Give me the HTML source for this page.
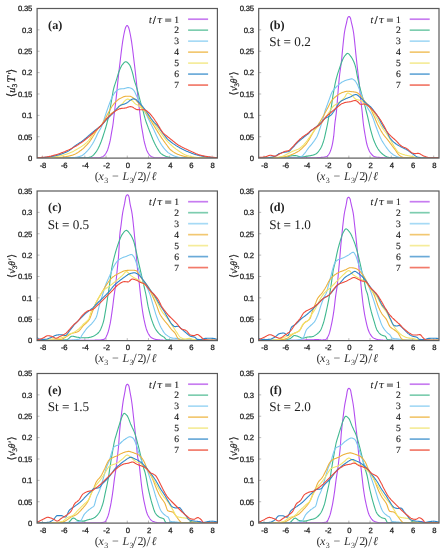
<!DOCTYPE html>
<html><head><meta charset="utf-8"><style>
html,body{margin:0;padding:0;background:#fff;width:444px;height:550px;overflow:hidden}
svg{display:block;text-rendering:geometricPrecision}
.tk{font-family:"Liberation Sans",Arial,sans-serif;font-size:7.7px;fill:#1a1a1a;stroke:#1a1a1a;stroke-width:0.25px;letter-spacing:-0.2px}
.tm{stroke:#aaa;stroke-width:0.8}
.fr{fill:none;stroke:#5a5a5a;stroke-width:1.2}
.cv{fill:none;stroke-width:1.1;stroke-linejoin:round}
.lg{stroke-width:1.7}
.lt{font-family:"Liberation Serif","DejaVu Serif",serif;font-size:9.6px;fill:#1a1a1a;stroke:#1a1a1a;stroke-width:0.15px}
.it{font-style:italic}
.pl{font-family:"Liberation Serif",serif;font-size:12.2px;font-weight:bold;fill:#222}
.st{font-family:"Liberation Serif",serif;font-size:13.2px;fill:#222}
.ax{font-family:"Liberation Serif","DejaVu Serif",serif;font-size:12px;fill:#333}
.sb{font-size:8px}
.sl{font-size:14px}
.dj{font-family:"DejaVu Serif",serif}
.sb2{font-size:6.8px}
.br{font-family:"DejaVu Serif",serif;font-size:11.5px}
.br2{font-family:"DejaVu Serif",serif;font-size:10.4px}
.sb3{font-size:7.5px}
.yl{font-family:"Liberation Serif","DejaVu Serif",serif;font-size:10.5px;fill:#222;stroke:#222;stroke-width:0.25px}
.yl2{font-family:"Liberation Serif","DejaVu Serif",serif;font-size:9.6px;fill:#222;stroke:#222;stroke-width:0.2px}
</style></head>
<body><svg width="444" height="550" viewBox="0 0 444 550">
<rect width="444" height="550" fill="#fff"/>
<text x="32.20" y="160.90" class="tk" text-anchor="end">0</text>
<text x="32.20" y="139.53" class="tk" text-anchor="end">0.05</text>
<line x1="37.1" y1="136.73" x2="39.6" y2="136.73" class="tm"/>
<text x="32.20" y="118.16" class="tk" text-anchor="end">0.1</text>
<line x1="37.1" y1="115.36" x2="39.6" y2="115.36" class="tm"/>
<text x="32.20" y="96.79" class="tk" text-anchor="end">0.15</text>
<line x1="37.1" y1="93.99" x2="39.6" y2="93.99" class="tm"/>
<text x="32.20" y="75.41" class="tk" text-anchor="end">0.2</text>
<line x1="37.1" y1="72.61" x2="39.6" y2="72.61" class="tm"/>
<text x="32.20" y="54.04" class="tk" text-anchor="end">0.25</text>
<line x1="37.1" y1="51.24" x2="39.6" y2="51.24" class="tm"/>
<text x="32.20" y="32.67" class="tk" text-anchor="end">0.3</text>
<line x1="37.1" y1="29.87" x2="39.6" y2="29.87" class="tm"/>
<text x="32.20" y="11.30" class="tk" text-anchor="end">0.35</text>
<text x="42.90" y="167.90" class="tk" text-anchor="middle">-8</text>
<line x1="42.40" y1="158.1" x2="42.40" y2="155.6" class="tm"/>
<text x="64.11" y="167.90" class="tk" text-anchor="middle">-6</text>
<line x1="63.61" y1="158.1" x2="63.61" y2="155.6" class="tm"/>
<text x="85.33" y="167.90" class="tk" text-anchor="middle">-4</text>
<line x1="84.83" y1="158.1" x2="84.83" y2="155.6" class="tm"/>
<text x="106.54" y="167.90" class="tk" text-anchor="middle">-2</text>
<line x1="106.04" y1="158.1" x2="106.04" y2="155.6" class="tm"/>
<text x="127.75" y="167.90" class="tk" text-anchor="middle">0</text>
<line x1="127.25" y1="158.1" x2="127.25" y2="155.6" class="tm"/>
<text x="148.96" y="167.90" class="tk" text-anchor="middle">2</text>
<line x1="148.46" y1="158.1" x2="148.46" y2="155.6" class="tm"/>
<text x="170.17" y="167.90" class="tk" text-anchor="middle">4</text>
<line x1="169.67" y1="158.1" x2="169.67" y2="155.6" class="tm"/>
<text x="191.39" y="167.90" class="tk" text-anchor="middle">6</text>
<line x1="190.89" y1="158.1" x2="190.89" y2="155.6" class="tm"/>
<text x="212.60" y="167.90" class="tk" text-anchor="middle">8</text>
<line x1="212.10" y1="158.1" x2="212.10" y2="155.6" class="tm"/>
<clipPath id="c0"><rect x="37.1" y="7.5" width="180.3" height="150.2"/></clipPath>
<g clip-path="url(#c0)">
<polyline points="37.1,157.7 37.6,157.7 38.1,157.7 38.6,157.7 39.1,157.7 39.6,157.7 40.1,157.7 40.6,157.7 41.1,157.7 41.6,157.7 42.1,157.7 42.6,157.7 43.1,157.7 43.6,157.7 44.1,157.7 44.6,157.7 45.1,157.7 45.6,157.7 46.1,157.7 46.6,157.7 47.1,157.7 47.6,157.7 48.1,157.7 48.6,157.7 49.1,157.7 49.6,157.7 50.1,157.7 50.6,157.7 51.1,157.7 51.6,157.7 52.1,157.7 52.6,157.7 53.1,157.7 53.6,157.7 54.1,157.7 54.6,157.7 55.1,157.7 55.6,157.7 56.1,157.7 56.6,157.7 57.1,157.7 57.6,157.7 58.1,157.7 58.6,157.7 59.1,157.7 59.6,157.7 60.1,157.7 60.6,157.7 61.1,157.7 61.6,157.7 62.1,157.7 62.6,157.7 63.1,157.7 63.6,157.7 64.1,157.7 64.6,157.7 65.1,157.7 65.6,157.7 66.1,157.7 66.6,157.7 67.1,157.7 67.6,157.7 68.1,157.7 68.6,157.7 69.1,157.7 69.6,157.7 70.1,157.7 70.6,157.7 71.1,157.7 71.6,157.7 72.1,157.7 72.6,157.7 73.1,157.7 73.6,157.7 74.1,157.7 74.6,157.7 75.1,157.7 75.6,157.7 76.1,157.7 76.6,157.7 77.1,157.7 77.6,157.7 78.1,157.7 78.6,157.7 79.1,157.7 79.6,157.7 80.1,157.7 80.6,157.7 81.1,157.7 81.6,157.7 82.1,157.7 82.6,157.7 83.1,157.7 83.6,157.7 84.1,157.7 84.6,157.7 85.1,157.7 85.6,157.7 86.1,157.7 86.6,157.7 87.1,157.7 87.6,157.7 88.1,157.7 88.6,157.7 89.1,157.7 89.6,157.7 90.1,157.7 90.6,157.7 91.1,157.7 91.6,157.7 92.1,157.7 92.6,157.7 93.1,157.7 93.6,157.7 94.1,157.7 94.6,157.7 95.1,157.7 95.6,157.7 96.1,157.7 96.6,157.7 97.1,157.7 97.6,157.7 98.1,157.7 98.6,157.7 99.1,157.7 99.6,157.7 100.1,157.6 100.6,157.5 101.1,157.3 101.6,157.1 102.1,156.9 102.6,156.7 103.1,156.4 103.6,156.0 104.1,155.7 104.6,155.2 105.1,154.5 105.6,153.8 106.1,153.0 106.6,152.0 107.1,151.0 107.6,149.9 108.1,148.3 108.6,146.7 109.1,144.9 109.6,143.0 110.1,140.9 110.6,138.4 111.1,135.4 111.6,132.4 112.1,129.7 112.6,126.9 113.1,123.5 113.6,119.3 114.1,115.0 114.6,111.0 115.1,107.0 115.6,102.9 116.1,98.6 116.6,94.1 117.1,89.1 117.6,84.0 118.1,79.1 118.6,74.4 119.1,70.0 119.6,65.8 120.1,61.7 120.6,57.5 121.1,53.2 121.6,49.2 122.1,45.5 122.6,41.9 123.1,38.8 123.6,36.0 124.1,33.5 124.6,31.2 125.1,29.2 125.6,27.5 126.1,26.5 126.6,25.8 127.1,25.5 127.6,25.8 128.1,26.5 128.6,27.5 129.1,29.2 129.6,31.2 130.1,33.5 130.6,36.0 131.1,38.8 131.6,41.9 132.1,45.5 132.6,49.2 133.1,53.2 133.6,57.5 134.1,61.7 134.6,65.8 135.1,70.0 135.6,74.4 136.1,79.1 136.6,84.0 137.1,89.1 137.6,94.1 138.1,98.6 138.6,102.9 139.1,107.0 139.6,111.0 140.1,115.0 140.6,119.3 141.1,123.5 141.6,126.9 142.1,129.7 142.6,132.4 143.1,135.4 143.6,138.4 144.1,140.9 144.6,143.0 145.1,144.9 145.6,146.7 146.1,148.3 146.6,149.9 147.1,151.0 147.6,152.0 148.1,153.0 148.6,153.8 149.1,154.5 149.6,155.2 150.1,155.7 150.6,156.0 151.1,156.4 151.6,156.7 152.1,156.9 152.6,157.1 153.1,157.3 153.6,157.5 154.1,157.6 154.6,157.7 155.1,157.7 155.6,157.7 156.1,157.7 156.6,157.7 157.1,157.7 157.6,157.7 158.1,157.7 158.6,157.7 159.1,157.7 159.6,157.7 160.1,157.7 160.6,157.7 161.1,157.7 161.6,157.7 162.1,157.7 162.6,157.7 163.1,157.7 163.6,157.7 164.1,157.7 164.6,157.7 165.1,157.7 165.6,157.7 166.1,157.7 166.6,157.7 167.1,157.7 167.6,157.7 168.1,157.7 168.6,157.7 169.1,157.7 169.6,157.7 170.1,157.7 170.6,157.7 171.1,157.7 171.6,157.7 172.1,157.7 172.6,157.7 173.1,157.7 173.6,157.7 174.1,157.7 174.6,157.7 175.1,157.7 175.6,157.7 176.1,157.7 176.6,157.7 177.1,157.7 177.6,157.7 178.1,157.7 178.6,157.7 179.1,157.7 179.6,157.7 180.1,157.7 180.6,157.7 181.1,157.7 181.6,157.7 182.1,157.7 182.6,157.7 183.1,157.7 183.6,157.7 184.1,157.7 184.6,157.7 185.1,157.7 185.6,157.7 186.1,157.7 186.6,157.7 187.1,157.7 187.6,157.7 188.1,157.7 188.6,157.7 189.1,157.7 189.6,157.7 190.1,157.7 190.6,157.7 191.1,157.7 191.6,157.7 192.1,157.7 192.6,157.7 193.1,157.7 193.6,157.7 194.1,157.7 194.6,157.7 195.1,157.7 195.6,157.7 196.1,157.7 196.6,157.7 197.1,157.7 197.6,157.7 198.1,157.7 198.6,157.7 199.1,157.7 199.6,157.7 200.1,157.7 200.6,157.7 201.1,157.7 201.6,157.7 202.1,157.7 202.6,157.7 203.1,157.7 203.6,157.7 204.1,157.7 204.6,157.7 205.1,157.7 205.6,157.7 206.1,157.7 206.6,157.7 207.1,157.7 207.6,157.7 208.1,157.7 208.6,157.7 209.1,157.7 209.6,157.7 210.1,157.7 210.6,157.7 211.1,157.7 211.6,157.7 212.1,157.7 212.6,157.7 213.1,157.7 213.6,157.7 214.1,157.7 214.6,157.7 215.1,157.7 215.6,157.7 216.1,157.7 216.6,157.7 217.1,157.7" stroke="#b44ef0" class="cv"/>
<polyline points="37.1,157.7 37.6,157.7 38.1,157.7 38.6,157.7 39.1,157.7 39.6,157.7 40.1,157.7 40.6,157.7 41.1,157.7 41.6,157.7 42.1,157.7 42.6,157.7 43.1,157.7 43.6,157.7 44.1,157.7 44.6,157.7 45.1,157.7 45.6,157.7 46.1,157.7 46.6,157.7 47.1,157.7 47.6,157.7 48.1,157.7 48.6,157.7 49.1,157.7 49.6,157.7 50.1,157.7 50.6,157.7 51.1,157.7 51.6,157.7 52.1,157.7 52.6,157.7 53.1,157.7 53.6,157.7 54.1,157.7 54.6,157.7 55.1,157.7 55.6,157.7 56.1,157.7 56.6,157.7 57.1,157.7 57.6,157.7 58.1,157.7 58.6,157.7 59.1,157.7 59.6,157.7 60.1,157.7 60.6,157.7 61.1,157.7 61.6,157.7 62.1,157.7 62.6,157.7 63.1,157.7 63.6,157.7 64.1,157.7 64.6,157.7 65.1,157.7 65.6,157.7 66.1,157.7 66.6,157.7 67.1,157.7 67.6,157.7 68.1,157.7 68.6,157.7 69.1,157.7 69.6,157.7 70.1,157.7 70.6,157.7 71.1,157.7 71.6,157.7 72.1,157.7 72.6,157.7 73.1,157.7 73.6,157.7 74.1,157.7 74.6,157.7 75.1,157.7 75.6,157.7 76.1,157.7 76.6,157.7 77.1,157.7 77.6,157.7 78.1,157.7 78.6,157.7 79.1,157.7 79.6,157.7 80.1,157.7 80.6,157.7 81.1,157.7 81.6,157.7 82.1,157.7 82.6,157.7 83.1,157.7 83.6,157.7 84.1,157.7 84.6,157.7 85.1,157.7 85.6,157.7 86.1,157.7 86.6,157.7 87.1,157.7 87.6,157.6 88.1,157.5 88.6,157.5 89.1,157.4 89.6,157.3 90.1,157.1 90.6,156.9 91.1,156.7 91.6,156.4 92.1,156.1 92.6,155.8 93.1,155.4 93.6,154.9 94.1,154.3 94.6,153.7 95.1,153.1 95.6,152.4 96.1,151.8 96.6,151.1 97.1,150.3 97.6,149.5 98.1,148.6 98.6,147.6 99.1,146.5 99.6,145.4 100.1,144.2 100.6,143.0 101.1,141.8 101.6,140.4 102.1,139.0 102.6,137.5 103.1,136.0 103.6,134.4 104.1,132.9 104.6,131.3 105.1,129.7 105.6,128.0 106.1,126.3 106.6,124.5 107.1,122.6 107.6,120.6 108.1,118.5 108.6,116.3 109.1,114.0 109.6,111.5 110.1,108.8 110.6,106.0 111.1,103.1 111.6,100.2 112.1,97.1 112.6,94.0 113.1,91.2 113.6,88.9 114.1,87.0 114.6,85.4 115.1,83.9 115.6,82.4 116.1,80.9 116.6,79.3 117.1,77.6 117.6,75.9 118.1,74.2 118.6,72.7 119.1,71.3 119.6,70.1 120.1,68.9 120.6,67.8 121.1,66.7 121.6,65.8 122.1,65.0 122.6,64.4 123.1,63.8 123.6,63.2 124.1,62.7 124.6,62.2 125.1,61.9 125.6,61.8 126.1,61.8 126.6,62.0 127.1,62.3 127.6,62.7 128.1,63.2 128.6,63.7 129.1,64.3 129.6,64.9 130.1,65.8 130.6,67.0 131.1,68.3 131.6,69.8 132.1,71.3 132.6,73.1 133.1,75.2 133.6,77.5 134.1,79.6 134.6,81.3 135.1,82.9 135.6,84.4 136.1,85.8 136.6,87.3 137.1,89.0 137.6,90.8 138.1,92.7 138.6,94.7 139.1,96.8 139.6,98.7 140.1,100.6 140.6,102.4 141.1,104.1 141.6,105.8 142.1,107.6 142.6,109.4 143.1,111.2 143.6,113.2 144.1,115.1 144.6,116.9 145.1,118.7 145.6,120.3 146.1,121.8 146.6,123.2 147.1,124.6 147.6,125.9 148.1,127.3 148.6,128.6 149.1,129.9 149.6,131.2 150.1,132.5 150.6,133.8 151.1,135.0 151.6,136.3 152.1,137.5 152.6,138.8 153.1,140.0 153.6,141.1 154.1,142.2 154.6,143.3 155.1,144.3 155.6,145.3 156.1,146.2 156.6,147.1 157.1,148.0 157.6,148.8 158.1,149.6 158.6,150.4 159.1,151.2 159.6,151.9 160.1,152.6 160.6,153.1 161.1,153.6 161.6,154.0 162.1,154.3 162.6,154.7 163.1,155.0 163.6,155.3 164.1,155.6 164.6,155.8 165.1,156.0 165.6,156.2 166.1,156.4 166.6,156.6 167.1,156.7 167.6,156.8 168.1,157.0 168.6,157.1 169.1,157.2 169.6,157.4 170.1,157.5 170.6,157.6 171.1,157.7 171.6,157.7 172.1,157.7 172.6,157.7 173.1,157.7 173.6,157.7 174.1,157.7 174.6,157.7 175.1,157.7 175.6,157.7 176.1,157.7 176.6,157.7 177.1,157.7 177.6,157.7 178.1,157.7 178.6,157.7 179.1,157.7 179.6,157.7 180.1,157.7 180.6,157.7 181.1,157.7 181.6,157.7 182.1,157.7 182.6,157.7 183.1,157.7 183.6,157.7 184.1,157.7 184.6,157.7 185.1,157.7 185.6,157.7 186.1,157.7 186.6,157.7 187.1,157.7 187.6,157.7 188.1,157.7 188.6,157.7 189.1,157.7 189.6,157.7 190.1,157.7 190.6,157.7 191.1,157.7 191.6,157.7 192.1,157.7 192.6,157.7 193.1,157.7 193.6,157.7 194.1,157.7 194.6,157.7 195.1,157.7 195.6,157.7 196.1,157.7 196.6,157.7 197.1,157.7 197.6,157.7 198.1,157.7 198.6,157.7 199.1,157.7 199.6,157.7 200.1,157.7 200.6,157.7 201.1,157.7 201.6,157.7 202.1,157.7 202.6,157.7 203.1,157.7 203.6,157.7 204.1,157.7 204.6,157.7 205.1,157.7 205.6,157.7 206.1,157.7 206.6,157.7 207.1,157.7 207.6,157.7 208.1,157.7 208.6,157.7 209.1,157.7 209.6,157.7 210.1,157.7 210.6,157.7 211.1,157.7 211.6,157.7 212.1,157.7 212.6,157.7 213.1,157.7 213.6,157.7 214.1,157.7 214.6,157.7 215.1,157.7 215.6,157.7 216.1,157.7 216.6,157.7 217.1,157.7" stroke="#3fb88f" class="cv"/>
<polyline points="37.1,157.7 37.6,157.7 38.1,157.7 38.6,157.7 39.1,157.7 39.6,157.7 40.1,157.7 40.6,157.7 41.1,157.7 41.6,157.7 42.1,157.7 42.6,157.7 43.1,157.7 43.6,157.7 44.1,157.7 44.6,157.7 45.1,157.7 45.6,157.7 46.1,157.7 46.6,157.7 47.1,157.7 47.6,157.7 48.1,157.7 48.6,157.7 49.1,157.7 49.6,157.7 50.1,157.7 50.6,157.7 51.1,157.7 51.6,157.7 52.1,157.7 52.6,157.7 53.1,157.7 53.6,157.7 54.1,157.7 54.6,157.7 55.1,157.7 55.6,157.7 56.1,157.7 56.6,157.7 57.1,157.7 57.6,157.7 58.1,157.7 58.6,157.7 59.1,157.7 59.6,157.7 60.1,157.7 60.6,157.7 61.1,157.7 61.6,157.7 62.1,157.7 62.6,157.7 63.1,157.7 63.6,157.7 64.1,157.7 64.6,157.7 65.1,157.7 65.6,157.7 66.1,157.7 66.6,157.7 67.1,157.7 67.6,157.7 68.1,157.7 68.6,157.7 69.1,157.7 69.6,157.7 70.1,157.7 70.6,157.7 71.1,157.7 71.6,157.7 72.1,157.7 72.6,157.7 73.1,157.7 73.6,157.7 74.1,157.6 74.6,157.6 75.1,157.5 75.6,157.4 76.1,157.3 76.6,157.2 77.1,157.1 77.6,157.0 78.1,156.9 78.6,156.8 79.1,156.6 79.6,156.5 80.1,156.3 80.6,156.1 81.1,156.0 81.6,155.7 82.1,155.5 82.6,155.2 83.1,154.8 83.6,154.4 84.1,154.0 84.6,153.5 85.1,153.1 85.6,152.6 86.1,152.1 86.6,151.6 87.1,151.1 87.6,150.6 88.1,150.0 88.6,149.4 89.1,148.8 89.6,148.1 90.1,147.5 90.6,146.8 91.1,146.0 91.6,145.3 92.1,144.5 92.6,143.7 93.1,142.8 93.6,142.0 94.1,141.0 94.6,140.1 95.1,139.1 95.6,138.1 96.1,137.0 96.6,135.9 97.1,134.8 97.6,133.8 98.1,132.8 98.6,131.9 99.1,131.0 99.6,130.2 100.1,129.4 100.6,128.5 101.1,127.6 101.6,126.6 102.1,125.4 102.6,124.1 103.1,122.6 103.6,121.0 104.1,119.3 104.6,117.7 105.1,116.2 105.6,114.7 106.1,113.2 106.6,111.7 107.1,110.3 107.6,108.8 108.1,107.4 108.6,106.0 109.1,104.6 109.6,103.2 110.1,101.9 110.6,100.6 111.1,99.4 111.6,98.3 112.1,97.3 112.6,96.3 113.1,95.4 113.6,94.5 114.1,93.7 114.6,92.9 115.1,92.3 115.6,91.7 116.1,91.2 116.6,90.8 117.1,90.4 117.6,90.0 118.1,89.6 118.6,89.4 119.1,89.1 119.6,89.0 120.1,89.0 120.6,88.9 121.1,88.9 121.6,88.8 122.1,88.8 122.6,88.8 123.1,88.7 123.6,88.7 124.1,88.6 124.6,88.5 125.1,88.3 125.6,88.2 126.1,88.0 126.6,87.9 127.1,87.7 127.6,87.6 128.1,87.6 128.6,87.6 129.1,87.7 129.6,87.8 130.1,87.9 130.6,88.1 131.1,88.2 131.6,88.5 132.1,88.8 132.6,89.2 133.1,89.7 133.6,90.2 134.1,90.8 134.6,91.6 135.1,92.7 135.6,93.8 136.1,94.9 136.6,96.0 137.1,97.0 137.6,98.1 138.1,99.1 138.6,100.2 139.1,101.2 139.6,102.2 140.1,103.1 140.6,104.1 141.1,105.0 141.6,105.9 142.1,106.8 142.6,107.7 143.1,108.6 143.6,109.5 144.1,110.4 144.6,111.3 145.1,112.2 145.6,113.2 146.1,114.1 146.6,115.1 147.1,116.1 147.6,117.2 148.1,118.2 148.6,119.2 149.1,120.2 149.6,121.2 150.1,122.2 150.6,123.2 151.1,124.2 151.6,125.2 152.1,126.2 152.6,127.2 153.1,128.2 153.6,129.3 154.1,130.3 154.6,131.4 155.1,132.5 155.6,133.6 156.1,134.7 156.6,135.8 157.1,136.8 157.6,137.8 158.1,138.8 158.6,139.7 159.1,140.7 159.6,141.6 160.1,142.5 160.6,143.4 161.1,144.2 161.6,144.9 162.1,145.7 162.6,146.4 163.1,147.1 163.6,147.8 164.1,148.4 164.6,149.0 165.1,149.6 165.6,150.2 166.1,150.7 166.6,151.2 167.1,151.7 167.6,152.2 168.1,152.6 168.6,152.9 169.1,153.3 169.6,153.6 170.1,153.9 170.6,154.2 171.1,154.5 171.6,154.8 172.1,155.0 172.6,155.3 173.1,155.5 173.6,155.7 174.1,155.9 174.6,156.1 175.1,156.2 175.6,156.4 176.1,156.6 176.6,156.8 177.1,156.9 177.6,157.0 178.1,157.2 178.6,157.3 179.1,157.4 179.6,157.5 180.1,157.5 180.6,157.6 181.1,157.6 181.6,157.7 182.1,157.7 182.6,157.7 183.1,157.7 183.6,157.7 184.1,157.7 184.6,157.7 185.1,157.7 185.6,157.7 186.1,157.7 186.6,157.7 187.1,157.7 187.6,157.7 188.1,157.7 188.6,157.7 189.1,157.7 189.6,157.7 190.1,157.7 190.6,157.7 191.1,157.7 191.6,157.7 192.1,157.7 192.6,157.7 193.1,157.7 193.6,157.7 194.1,157.7 194.6,157.7 195.1,157.7 195.6,157.7 196.1,157.7 196.6,157.7 197.1,157.7 197.6,157.7 198.1,157.7 198.6,157.7 199.1,157.7 199.6,157.7 200.1,157.7 200.6,157.7 201.1,157.7 201.6,157.7 202.1,157.7 202.6,157.7 203.1,157.7 203.6,157.7 204.1,157.7 204.6,157.7 205.1,157.7 205.6,157.7 206.1,157.7 206.6,157.7 207.1,157.7 207.6,157.7 208.1,157.7 208.6,157.7 209.1,157.7 209.6,157.7 210.1,157.7 210.6,157.7 211.1,157.7 211.6,157.7 212.1,157.7 212.6,157.7 213.1,157.7 213.6,157.7 214.1,157.7 214.6,157.7 215.1,157.7 215.6,157.7 216.1,157.7 216.6,157.7 217.1,157.7" stroke="#7cc8f0" class="cv"/>
<polyline points="37.1,157.7 37.6,157.7 38.1,157.7 38.6,157.7 39.1,157.7 39.6,157.7 40.1,157.7 40.6,157.7 41.1,157.7 41.6,157.7 42.1,157.7 42.6,157.7 43.1,157.7 43.6,157.7 44.1,157.7 44.6,157.7 45.1,157.7 45.6,157.7 46.1,157.7 46.6,157.7 47.1,157.7 47.6,157.7 48.1,157.7 48.6,157.7 49.1,157.7 49.6,157.7 50.1,157.7 50.6,157.7 51.1,157.7 51.6,157.7 52.1,157.7 52.6,157.7 53.1,157.7 53.6,157.7 54.1,157.7 54.6,157.7 55.1,157.7 55.6,157.7 56.1,157.7 56.6,157.7 57.1,157.7 57.6,157.6 58.1,157.6 58.6,157.5 59.1,157.5 59.6,157.5 60.1,157.4 60.6,157.3 61.1,157.3 61.6,157.2 62.1,157.2 62.6,157.1 63.1,157.1 63.6,157.0 64.1,156.9 64.6,156.8 65.1,156.8 65.6,156.7 66.1,156.6 66.6,156.5 67.1,156.4 67.6,156.3 68.1,156.2 68.6,156.1 69.1,156.0 69.6,155.9 70.1,155.8 70.6,155.6 71.1,155.5 71.6,155.4 72.1,155.2 72.6,155.1 73.1,154.9 73.6,154.8 74.1,154.6 74.6,154.4 75.1,154.1 75.6,153.9 76.1,153.6 76.6,153.3 77.1,153.0 77.6,152.7 78.1,152.4 78.6,152.0 79.1,151.7 79.6,151.3 80.1,150.9 80.6,150.5 81.1,150.2 81.6,149.8 82.1,149.4 82.6,149.0 83.1,148.6 83.6,148.1 84.1,147.7 84.6,147.2 85.1,146.7 85.6,146.2 86.1,145.7 86.6,145.2 87.1,144.6 87.6,144.0 88.1,143.5 88.6,142.9 89.1,142.3 89.6,141.6 90.1,140.9 90.6,140.2 91.1,139.4 91.6,138.6 92.1,137.8 92.6,137.1 93.1,136.3 93.6,135.5 94.1,134.7 94.6,133.8 95.1,133.0 95.6,132.1 96.1,131.3 96.6,130.6 97.1,129.9 97.6,129.2 98.1,128.6 98.6,128.1 99.1,127.5 99.6,127.0 100.1,126.5 100.6,125.9 101.1,125.3 101.6,124.7 102.1,124.0 102.6,123.3 103.1,122.4 103.6,121.6 104.1,120.7 104.6,119.8 105.1,118.9 105.6,118.0 106.1,117.0 106.6,116.1 107.1,115.1 107.6,114.2 108.1,113.2 108.6,112.3 109.1,111.4 109.6,110.5 110.1,109.6 110.6,108.7 111.1,107.8 111.6,107.0 112.1,106.3 112.6,105.5 113.1,104.9 113.6,104.2 114.1,103.6 114.6,103.0 115.1,102.4 115.6,101.9 116.1,101.4 116.6,101.0 117.1,100.5 117.6,100.1 118.1,99.7 118.6,99.3 119.1,99.0 119.6,98.7 120.1,98.4 120.6,98.2 121.1,97.9 121.6,97.7 122.1,97.4 122.6,97.2 123.1,97.0 123.6,96.8 124.1,96.6 124.6,96.5 125.1,96.4 125.6,96.3 126.1,96.3 126.6,96.3 127.1,96.3 127.6,96.3 128.1,96.3 128.6,96.3 129.1,96.3 129.6,96.3 130.1,96.3 130.6,96.4 131.1,96.6 131.6,96.9 132.1,97.2 132.6,97.5 133.1,97.8 133.6,98.2 134.1,98.5 134.6,98.9 135.1,99.4 135.6,99.8 136.1,100.4 136.6,100.9 137.1,101.5 137.6,102.0 138.1,102.6 138.6,103.1 139.1,103.7 139.6,104.3 140.1,104.9 140.6,105.5 141.1,106.1 141.6,106.8 142.1,107.4 142.6,108.1 143.1,108.8 143.6,109.5 144.1,110.2 144.6,110.9 145.1,111.7 145.6,112.4 146.1,113.1 146.6,113.9 147.1,114.7 147.6,115.5 148.1,116.3 148.6,117.1 149.1,117.9 149.6,118.7 150.1,119.5 150.6,120.4 151.1,121.2 151.6,122.0 152.1,122.8 152.6,123.6 153.1,124.4 153.6,125.2 154.1,126.0 154.6,126.8 155.1,127.6 155.6,128.4 156.1,129.2 156.6,130.0 157.1,130.8 157.6,131.6 158.1,132.4 158.6,133.2 159.1,134.0 159.6,134.8 160.1,135.6 160.6,136.4 161.1,137.1 161.6,137.9 162.1,138.6 162.6,139.3 163.1,140.0 163.6,140.7 164.1,141.4 164.6,142.1 165.1,142.8 165.6,143.5 166.1,144.1 166.6,144.8 167.1,145.5 167.6,146.2 168.1,146.9 168.6,147.6 169.1,148.2 169.6,148.8 170.1,149.3 170.6,149.8 171.1,150.2 171.6,150.6 172.1,151.0 172.6,151.4 173.1,151.8 173.6,152.1 174.1,152.4 174.6,152.7 175.1,153.0 175.6,153.3 176.1,153.5 176.6,153.8 177.1,154.0 177.6,154.2 178.1,154.4 178.6,154.6 179.1,154.8 179.6,155.0 180.1,155.2 180.6,155.3 181.1,155.5 181.6,155.6 182.1,155.8 182.6,155.9 183.1,156.0 183.6,156.2 184.1,156.3 184.6,156.5 185.1,156.6 185.6,156.7 186.1,156.8 186.6,156.9 187.1,157.0 187.6,157.1 188.1,157.2 188.6,157.3 189.1,157.4 189.6,157.5 190.1,157.5 190.6,157.6 191.1,157.6 191.6,157.6 192.1,157.7 192.6,157.7 193.1,157.7 193.6,157.7 194.1,157.7 194.6,157.7 195.1,157.7 195.6,157.7 196.1,157.7 196.6,157.7 197.1,157.7 197.6,157.7 198.1,157.7 198.6,157.7 199.1,157.7 199.6,157.7 200.1,157.7 200.6,157.7 201.1,157.7 201.6,157.7 202.1,157.7 202.6,157.7 203.1,157.7 203.6,157.7 204.1,157.7 204.6,157.7 205.1,157.7 205.6,157.7 206.1,157.7 206.6,157.7 207.1,157.7 207.6,157.7 208.1,157.7 208.6,157.7 209.1,157.7 209.6,157.7 210.1,157.7 210.6,157.7 211.1,157.7 211.6,157.7 212.1,157.7 212.6,157.7 213.1,157.7 213.6,157.7 214.1,157.7 214.6,157.7 215.1,157.7 215.6,157.7 216.1,157.7 216.6,157.7 217.1,157.7" stroke="#eeb23c" class="cv"/>
<polyline points="37.1,157.7 37.6,157.7 38.1,157.7 38.6,157.7 39.1,157.7 39.6,157.7 40.1,157.7 40.6,157.7 41.1,157.7 41.6,157.7 42.1,157.7 42.6,157.7 43.1,157.7 43.6,157.7 44.1,157.7 44.6,157.7 45.1,157.7 45.6,157.7 46.1,157.7 46.6,157.7 47.1,157.7 47.6,157.7 48.1,157.7 48.6,157.7 49.1,157.7 49.6,157.7 50.1,157.6 50.6,157.5 51.1,157.5 51.6,157.4 52.1,157.3 52.6,157.3 53.1,157.2 53.6,157.1 54.1,157.0 54.6,156.9 55.1,156.8 55.6,156.7 56.1,156.6 56.6,156.5 57.1,156.5 57.6,156.4 58.1,156.3 58.6,156.2 59.1,156.1 59.6,155.9 60.1,155.8 60.6,155.7 61.1,155.6 61.6,155.5 62.1,155.4 62.6,155.2 63.1,155.1 63.6,155.0 64.1,154.8 64.6,154.7 65.1,154.5 65.6,154.4 66.1,154.2 66.6,154.1 67.1,153.9 67.6,153.8 68.1,153.6 68.6,153.4 69.1,153.2 69.6,153.0 70.1,152.8 70.6,152.6 71.1,152.4 71.6,152.1 72.1,151.9 72.6,151.7 73.1,151.4 73.6,151.2 74.1,150.9 74.6,150.6 75.1,150.3 75.6,150.1 76.1,149.8 76.6,149.5 77.1,149.2 77.6,148.9 78.1,148.6 78.6,148.3 79.1,148.0 79.6,147.7 80.1,147.4 80.6,147.1 81.1,146.8 81.6,146.4 82.1,146.1 82.6,145.8 83.1,145.4 83.6,145.0 84.1,144.7 84.6,144.3 85.1,143.9 85.6,143.4 86.1,143.0 86.6,142.6 87.1,142.1 87.6,141.6 88.1,141.1 88.6,140.5 89.1,139.8 89.6,139.1 90.1,138.4 90.6,137.6 91.1,136.8 91.6,136.0 92.1,135.3 92.6,134.6 93.1,133.9 93.6,133.3 94.1,132.7 94.6,132.1 95.1,131.5 95.6,131.0 96.1,130.5 96.6,129.9 97.1,129.4 97.6,128.9 98.1,128.4 98.6,127.9 99.1,127.4 99.6,126.9 100.1,126.4 100.6,125.9 101.1,125.4 101.6,124.9 102.1,124.4 102.6,123.9 103.1,123.3 103.6,122.8 104.1,122.2 104.6,121.6 105.1,121.1 105.6,120.5 106.1,119.9 106.6,119.2 107.1,118.5 107.6,117.8 108.1,117.1 108.6,116.4 109.1,115.7 109.6,115.0 110.1,114.4 110.6,113.9 111.1,113.5 111.6,113.1 112.1,112.7 112.6,112.4 113.1,112.1 113.6,111.8 114.1,111.5 114.6,111.2 115.1,110.8 115.6,110.4 116.1,110.0 116.6,109.5 117.1,109.0 117.6,108.5 118.1,107.9 118.6,107.4 119.1,106.9 119.6,106.4 120.1,105.9 120.6,105.4 121.1,104.8 121.6,104.3 122.1,103.8 122.6,103.3 123.1,102.8 123.6,102.2 124.1,101.7 124.6,101.2 125.1,100.7 125.6,100.2 126.1,99.8 126.6,99.4 127.1,99.1 127.6,99.0 128.1,99.1 128.6,99.2 129.1,99.4 129.6,99.6 130.1,99.9 130.6,100.1 131.1,100.3 131.6,100.5 132.1,100.7 132.6,101.0 133.1,101.4 133.6,102.0 134.1,102.7 134.6,103.2 135.1,103.6 135.6,104.0 136.1,104.3 136.6,104.5 137.1,104.8 137.6,105.0 138.1,105.4 138.6,105.7 139.1,106.1 139.6,106.5 140.1,106.9 140.6,107.3 141.1,107.7 141.6,108.2 142.1,108.7 142.6,109.1 143.1,109.6 143.6,110.1 144.1,110.6 144.6,111.1 145.1,111.6 145.6,112.2 146.1,112.7 146.6,113.3 147.1,113.9 147.6,114.5 148.1,115.1 148.6,115.8 149.1,116.4 149.6,117.1 150.1,117.8 150.6,118.5 151.1,119.3 151.6,120.0 152.1,120.7 152.6,121.4 153.1,122.1 153.6,122.8 154.1,123.5 154.6,124.2 155.1,124.9 155.6,125.6 156.1,126.3 156.6,127.0 157.1,127.7 157.6,128.4 158.1,129.1 158.6,129.8 159.1,130.6 159.6,131.3 160.1,132.0 160.6,132.7 161.1,133.4 161.6,134.1 162.1,134.8 162.6,135.5 163.1,136.1 163.6,136.8 164.1,137.4 164.6,138.0 165.1,138.7 165.6,139.3 166.1,139.9 166.6,140.5 167.1,141.0 167.6,141.6 168.1,142.1 168.6,142.6 169.1,143.1 169.6,143.6 170.1,144.1 170.6,144.5 171.1,145.0 171.6,145.5 172.1,145.9 172.6,146.3 173.1,146.8 173.6,147.2 174.1,147.6 174.6,148.0 175.1,148.3 175.6,148.7 176.1,149.1 176.6,149.4 177.1,149.8 177.6,150.1 178.1,150.5 178.6,150.8 179.1,151.2 179.6,151.5 180.1,151.9 180.6,152.2 181.1,152.5 181.6,152.9 182.1,153.2 182.6,153.5 183.1,153.8 183.6,154.0 184.1,154.3 184.6,154.5 185.1,154.8 185.6,155.0 186.1,155.2 186.6,155.4 187.1,155.5 187.6,155.7 188.1,155.8 188.6,155.9 189.1,156.0 189.6,156.2 190.1,156.3 190.6,156.4 191.1,156.5 191.6,156.6 192.1,156.7 192.6,156.8 193.1,156.9 193.6,157.0 194.1,157.1 194.6,157.2 195.1,157.3 195.6,157.4 196.1,157.4 196.6,157.5 197.1,157.6 197.6,157.6 198.1,157.7 198.6,157.7 199.1,157.7 199.6,157.7 200.1,157.7 200.6,157.7 201.1,157.7 201.6,157.7 202.1,157.7 202.6,157.7 203.1,157.7 203.6,157.7 204.1,157.7 204.6,157.7 205.1,157.7 205.6,157.7 206.1,157.7 206.6,157.7 207.1,157.7 207.6,157.7 208.1,157.7 208.6,157.7 209.1,157.7 209.6,157.7 210.1,157.7 210.6,157.7 211.1,157.7 211.6,157.7 212.1,157.7 212.6,157.7 213.1,157.7 213.6,157.7 214.1,157.7 214.6,157.7 215.1,157.7 215.6,157.7 216.1,157.7 216.6,157.7 217.1,157.7" stroke="#f2e46a" class="cv"/>
<polyline points="37.1,157.7 37.6,157.7 38.1,157.7 38.6,157.7 39.1,157.7 39.6,157.7 40.1,157.7 40.6,157.7 41.1,157.7 41.6,157.6 42.1,157.6 42.6,157.6 43.1,157.5 43.6,157.5 44.1,157.5 44.6,157.4 45.1,157.4 45.6,157.4 46.1,157.3 46.6,157.3 47.1,157.2 47.6,157.1 48.1,157.1 48.6,157.0 49.1,156.9 49.6,156.8 50.1,156.8 50.6,156.7 51.1,156.6 51.6,156.5 52.1,156.4 52.6,156.3 53.1,156.2 53.6,156.1 54.1,156.0 54.6,155.9 55.1,155.8 55.6,155.7 56.1,155.5 56.6,155.4 57.1,155.3 57.6,155.2 58.1,155.1 58.6,154.9 59.1,154.8 59.6,154.6 60.1,154.5 60.6,154.3 61.1,154.1 61.6,154.0 62.1,153.8 62.6,153.6 63.1,153.4 63.6,153.2 64.1,153.0 64.6,152.8 65.1,152.6 65.6,152.4 66.1,152.2 66.6,151.9 67.1,151.7 67.6,151.5 68.1,151.2 68.6,150.9 69.1,150.6 69.6,150.2 70.1,149.9 70.6,149.5 71.1,149.1 71.6,148.7 72.1,148.3 72.6,147.9 73.1,147.5 73.6,147.0 74.1,146.6 74.6,146.2 75.1,145.8 75.6,145.5 76.1,145.1 76.6,144.7 77.1,144.4 77.6,144.1 78.1,143.8 78.6,143.4 79.1,143.1 79.6,142.8 80.1,142.5 80.6,142.2 81.1,141.9 81.6,141.5 82.1,141.2 82.6,140.8 83.1,140.4 83.6,140.0 84.1,139.6 84.6,139.2 85.1,138.8 85.6,138.4 86.1,138.0 86.6,137.5 87.1,137.1 87.6,136.7 88.1,136.2 88.6,135.8 89.1,135.3 89.6,134.9 90.1,134.5 90.6,134.0 91.1,133.6 91.6,133.2 92.1,132.8 92.6,132.4 93.1,131.9 93.6,131.5 94.1,131.1 94.6,130.7 95.1,130.3 95.6,129.9 96.1,129.5 96.6,129.1 97.1,128.7 97.6,128.3 98.1,128.0 98.6,127.6 99.1,127.2 99.6,126.8 100.1,126.4 100.6,126.0 101.1,125.5 101.6,125.1 102.1,124.6 102.6,124.1 103.1,123.6 103.6,123.0 104.1,122.4 104.6,121.8 105.1,121.2 105.6,120.6 106.1,120.1 106.6,119.5 107.1,119.0 107.6,118.5 108.1,118.0 108.6,117.5 109.1,117.0 109.6,116.5 110.1,116.0 110.6,115.5 111.1,115.1 111.6,114.6 112.1,114.1 112.6,113.6 113.1,113.0 113.6,112.5 114.1,111.9 114.6,111.3 115.1,110.7 115.6,110.1 116.1,109.5 116.6,108.9 117.1,108.4 117.6,107.8 118.1,107.3 118.6,106.7 119.1,106.2 119.6,105.9 120.1,105.6 120.6,105.3 121.1,105.1 121.6,104.9 122.1,104.8 122.6,104.6 123.1,104.4 123.6,104.3 124.1,104.1 124.6,104.0 125.1,103.8 125.6,103.6 126.1,103.3 126.6,103.0 127.1,102.7 127.6,102.4 128.1,102.0 128.6,101.6 129.1,101.1 129.6,100.7 130.1,100.4 130.6,100.1 131.1,99.8 131.6,99.4 132.1,99.2 132.6,99.0 133.1,98.9 133.6,98.9 134.1,99.0 134.6,99.1 135.1,99.2 135.6,99.3 136.1,99.6 136.6,100.0 137.1,100.6 137.6,101.1 138.1,101.6 138.6,102.1 139.1,102.6 139.6,103.1 140.1,103.6 140.6,104.2 141.1,104.8 141.6,105.3 142.1,105.9 142.6,106.5 143.1,107.1 143.6,107.8 144.1,108.4 144.6,109.1 145.1,109.8 145.6,110.5 146.1,111.3 146.6,112.0 147.1,112.7 147.6,113.4 148.1,114.1 148.6,114.9 149.1,115.6 149.6,116.3 150.1,117.0 150.6,117.7 151.1,118.5 151.6,119.2 152.1,119.8 152.6,120.5 153.1,121.1 153.6,121.7 154.1,122.3 154.6,122.8 155.1,123.3 155.6,123.9 156.1,124.4 156.6,124.9 157.1,125.4 157.6,126.0 158.1,126.6 158.6,127.3 159.1,127.9 159.6,128.7 160.1,129.4 160.6,130.1 161.1,130.8 161.6,131.6 162.1,132.3 162.6,133.0 163.1,133.6 163.6,134.3 164.1,134.9 164.6,135.6 165.1,136.2 165.6,136.8 166.1,137.5 166.6,138.0 167.1,138.6 167.6,139.1 168.1,139.6 168.6,140.1 169.1,140.5 169.6,140.9 170.1,141.3 170.6,141.7 171.1,142.1 171.6,142.5 172.1,142.9 172.6,143.2 173.1,143.6 173.6,143.9 174.1,144.3 174.6,144.6 175.1,144.9 175.6,145.2 176.1,145.6 176.6,145.9 177.1,146.2 177.6,146.5 178.1,146.8 178.6,147.1 179.1,147.4 179.6,147.7 180.1,148.0 180.6,148.3 181.1,148.5 181.6,148.8 182.1,149.1 182.6,149.3 183.1,149.6 183.6,149.8 184.1,150.1 184.6,150.3 185.1,150.5 185.6,150.8 186.1,151.0 186.6,151.2 187.1,151.4 187.6,151.6 188.1,151.8 188.6,152.0 189.1,152.2 189.6,152.4 190.1,152.6 190.6,152.8 191.1,153.0 191.6,153.2 192.1,153.4 192.6,153.6 193.1,153.7 193.6,153.9 194.1,154.1 194.6,154.2 195.1,154.4 195.6,154.6 196.1,154.7 196.6,154.8 197.1,155.0 197.6,155.1 198.1,155.2 198.6,155.3 199.1,155.5 199.6,155.6 200.1,155.7 200.6,155.8 201.1,155.9 201.6,156.0 202.1,156.2 202.6,156.3 203.1,156.4 203.6,156.5 204.1,156.6 204.6,156.7 205.1,156.7 205.6,156.8 206.1,156.9 206.6,157.0 207.1,157.1 207.6,157.1 208.1,157.2 208.6,157.3 209.1,157.3 209.6,157.4 210.1,157.4 210.6,157.4 211.1,157.5 211.6,157.5 212.1,157.6 212.6,157.6 213.1,157.6 213.6,157.7 214.1,157.7 214.6,157.7 215.1,157.7 215.6,157.7 216.1,157.7 216.6,157.7 217.1,157.7" stroke="#2e86c8" class="cv"/>
<polyline points="37.1,157.6 37.6,157.6 38.1,157.6 38.6,157.6 39.1,157.6 39.6,157.5 40.1,157.5 40.6,157.5 41.1,157.5 41.6,157.4 42.1,157.4 42.6,157.4 43.1,157.3 43.6,157.3 44.1,157.3 44.6,157.2 45.1,157.2 45.6,157.1 46.1,157.1 46.6,157.0 47.1,156.9 47.6,156.8 48.1,156.8 48.6,156.7 49.1,156.5 49.6,156.4 50.1,156.3 50.6,156.2 51.1,156.1 51.6,155.9 52.1,155.8 52.6,155.7 53.1,155.5 53.6,155.4 54.1,155.3 54.6,155.1 55.1,155.0 55.6,154.9 56.1,154.7 56.6,154.6 57.1,154.4 57.6,154.2 58.1,154.1 58.6,153.9 59.1,153.7 59.6,153.6 60.1,153.4 60.6,153.2 61.1,153.0 61.6,152.8 62.1,152.6 62.6,152.5 63.1,152.3 63.6,152.1 64.1,151.9 64.6,151.7 65.1,151.5 65.6,151.2 66.1,151.0 66.6,150.8 67.1,150.6 67.6,150.4 68.1,150.1 68.6,149.9 69.1,149.7 69.6,149.4 70.1,149.2 70.6,148.9 71.1,148.7 71.6,148.4 72.1,148.2 72.6,147.9 73.1,147.6 73.6,147.4 74.1,147.1 74.6,146.8 75.1,146.6 75.6,146.3 76.1,146.0 76.6,145.7 77.1,145.4 77.6,145.1 78.1,144.8 78.6,144.4 79.1,144.1 79.6,143.8 80.1,143.4 80.6,143.1 81.1,142.8 81.6,142.4 82.1,142.1 82.6,141.7 83.1,141.4 83.6,141.0 84.1,140.6 84.6,140.2 85.1,139.8 85.6,139.4 86.1,139.0 86.6,138.6 87.1,138.2 87.6,137.8 88.1,137.4 88.6,137.0 89.1,136.6 89.6,136.1 90.1,135.7 90.6,135.3 91.1,134.8 91.6,134.4 92.1,134.0 92.6,133.5 93.1,133.1 93.6,132.6 94.1,132.1 94.6,131.7 95.1,131.2 95.6,130.7 96.1,130.3 96.6,129.8 97.1,129.3 97.6,128.9 98.1,128.4 98.6,127.9 99.1,127.5 99.6,127.0 100.1,126.5 100.6,126.0 101.1,125.5 101.6,124.9 102.1,124.4 102.6,123.8 103.1,123.2 103.6,122.5 104.1,121.9 104.6,121.2 105.1,120.5 105.6,119.9 106.1,119.3 106.6,118.7 107.1,118.2 107.6,117.7 108.1,117.2 108.6,116.7 109.1,116.2 109.6,115.7 110.1,115.3 110.6,114.8 111.1,114.4 111.6,113.9 112.1,113.5 112.6,113.1 113.1,112.7 113.6,112.3 114.1,111.9 114.6,111.6 115.1,111.2 115.6,110.8 116.1,110.5 116.6,110.2 117.1,109.9 117.6,109.7 118.1,109.4 118.6,109.2 119.1,109.0 119.6,108.8 120.1,108.6 120.6,108.6 121.1,108.5 121.6,108.4 122.1,108.4 122.6,108.3 123.1,108.3 123.6,108.2 124.1,108.2 124.6,108.1 125.1,108.0 125.6,108.0 126.1,107.9 126.6,107.7 127.1,107.5 127.6,107.3 128.1,107.1 128.6,107.0 129.1,106.8 129.6,106.7 130.1,106.6 130.6,106.6 131.1,106.7 131.6,106.8 132.1,107.0 132.6,107.1 133.1,107.4 133.6,107.7 134.1,108.1 134.6,108.4 135.1,108.7 135.6,109.0 136.1,109.3 136.6,109.5 137.1,109.6 137.6,109.6 138.1,109.6 138.6,109.7 139.1,109.7 139.6,109.7 140.1,109.7 140.6,109.7 141.1,109.7 141.6,109.7 142.1,109.7 142.6,109.7 143.1,109.7 143.6,109.7 144.1,109.7 144.6,109.8 145.1,110.0 145.6,110.2 146.1,110.5 146.6,110.9 147.1,111.3 147.6,111.7 148.1,112.1 148.6,112.5 149.1,112.9 149.6,113.4 150.1,114.0 150.6,114.5 151.1,115.1 151.6,115.7 152.1,116.4 152.6,117.0 153.1,117.6 153.6,118.3 154.1,119.0 154.6,119.7 155.1,120.5 155.6,121.2 156.1,122.0 156.6,122.8 157.1,123.6 157.6,124.4 158.1,125.2 158.6,126.0 159.1,126.8 159.6,127.6 160.1,128.5 160.6,129.3 161.1,130.2 161.6,130.9 162.1,131.7 162.6,132.3 163.1,132.9 163.6,133.4 164.1,133.9 164.6,134.3 165.1,134.8 165.6,135.1 166.1,135.5 166.6,135.9 167.1,136.3 167.6,136.7 168.1,137.1 168.6,137.5 169.1,137.9 169.6,138.3 170.1,138.7 170.6,139.1 171.1,139.5 171.6,139.9 172.1,140.3 172.6,140.7 173.1,141.1 173.6,141.5 174.1,141.9 174.6,142.3 175.1,142.7 175.6,143.1 176.1,143.5 176.6,143.8 177.1,144.2 177.6,144.5 178.1,144.9 178.6,145.2 179.1,145.5 179.6,145.8 180.1,146.0 180.6,146.3 181.1,146.6 181.6,146.9 182.1,147.1 182.6,147.4 183.1,147.6 183.6,147.9 184.1,148.1 184.6,148.4 185.1,148.6 185.6,148.9 186.1,149.1 186.6,149.3 187.1,149.5 187.6,149.8 188.1,150.0 188.6,150.2 189.1,150.5 189.6,150.7 190.1,150.9 190.6,151.1 191.1,151.4 191.6,151.6 192.1,151.9 192.6,152.1 193.1,152.3 193.6,152.6 194.1,152.8 194.6,153.0 195.1,153.2 195.6,153.5 196.1,153.7 196.6,153.9 197.1,154.1 197.6,154.3 198.1,154.5 198.6,154.7 199.1,154.8 199.6,155.0 200.1,155.1 200.6,155.3 201.1,155.4 201.6,155.5 202.1,155.6 202.6,155.7 203.1,155.8 203.6,155.9 204.1,156.0 204.6,156.1 205.1,156.2 205.6,156.3 206.1,156.4 206.6,156.5 207.1,156.6 207.6,156.6 208.1,156.7 208.6,156.8 209.1,156.8 209.6,156.9 210.1,157.0 210.6,157.0 211.1,157.1 211.6,157.2 212.1,157.2 212.6,157.3 213.1,157.3 213.6,157.4 214.1,157.4 214.6,157.5 215.1,157.5 215.6,157.6 216.1,157.6 216.6,157.6 217.1,157.7" stroke="#ee4a3a" class="cv"/>
</g>
<rect x="37.1" y="8.5" width="180.3" height="149.6" class="fr"/>
<line x1="188.1" y1="19.20" x2="208.1" y2="19.20" stroke="#c77cf0" class="lg"/>
<text y="22.50" class="lt"><tspan x="149.00" class="it">t</tspan><tspan x="152.80" class="dj">/</tspan><tspan x="157.10" class="dj it">τ</tspan><tspan x="164.30" class="dj" style="font-size:9.4px">=</tspan><tspan x="174.30">1</tspan></text>
<line x1="188.1" y1="30.18" x2="208.1" y2="30.18" stroke="#7dcdaf" class="lg"/>
<text x="179.10" y="33.48" class="lt" text-anchor="end">2</text>
<line x1="188.1" y1="41.16" x2="208.1" y2="41.16" stroke="#a6daf5" class="lg"/>
<text x="179.10" y="44.46" class="lt" text-anchor="end">3</text>
<line x1="188.1" y1="52.14" x2="208.1" y2="52.14" stroke="#f2c872" class="lg"/>
<text x="179.10" y="55.44" class="lt" text-anchor="end">4</text>
<line x1="188.1" y1="63.12" x2="208.1" y2="63.12" stroke="#f5ec9a" class="lg"/>
<text x="179.10" y="66.42" class="lt" text-anchor="end">5</text>
<line x1="188.1" y1="74.10" x2="208.1" y2="74.10" stroke="#6aaad8" class="lg"/>
<text x="179.10" y="77.40" class="lt" text-anchor="end">6</text>
<line x1="188.1" y1="85.08" x2="208.1" y2="85.08" stroke="#f27a6a" class="lg"/>
<text x="179.10" y="88.38" class="lt" text-anchor="end">7</text>
<text x="48.1" y="28.80" class="pl">(a)</text>
<text class="ax"><tspan x="94.85" y="179.70">(</tspan><tspan x="98.45" y="179.70" class="it">x</tspan><tspan x="104.25" y="182.60" class="sb">3</tspan><tspan x="111.95" y="179.70">−</tspan><tspan x="122.45" y="179.70" class="it">L</tspan><tspan x="129.45" y="182.60" class="sb">3</tspan><tspan x="132.85" y="180.60" class="sl">/</tspan><tspan x="137.55" y="179.70">2</tspan><tspan x="142.15" y="179.70">)</tspan><tspan x="146.55" y="180.60" class="sl">/</tspan><tspan x="151.45" y="179.70" class="it">ℓ</tspan></text>
<text transform="translate(14.80,96.30) rotate(-90)" class="yl"><tspan class="br" x="-1.0" y="0.5">⟨</tspan><tspan class="it" x="3.6" y="0">u</tspan><tspan x="8.5" y="-1">′</tspan><tspan class="sb3" x="8.8" y="2.6">3</tspan><tspan class="it" x="13.9" y="0" style="font-size:11.6px">T</tspan><tspan x="21.9" y="0">′</tspan><tspan class="br" x="23.0" y="0.5">⟩</tspan></text>
<text x="253.80" y="160.90" class="tk" text-anchor="end">0</text>
<text x="253.80" y="139.53" class="tk" text-anchor="end">0.05</text>
<line x1="258.7" y1="136.73" x2="261.2" y2="136.73" class="tm"/>
<text x="253.80" y="118.16" class="tk" text-anchor="end">0.1</text>
<line x1="258.7" y1="115.36" x2="261.2" y2="115.36" class="tm"/>
<text x="253.80" y="96.79" class="tk" text-anchor="end">0.15</text>
<line x1="258.7" y1="93.99" x2="261.2" y2="93.99" class="tm"/>
<text x="253.80" y="75.41" class="tk" text-anchor="end">0.2</text>
<line x1="258.7" y1="72.61" x2="261.2" y2="72.61" class="tm"/>
<text x="253.80" y="54.04" class="tk" text-anchor="end">0.25</text>
<line x1="258.7" y1="51.24" x2="261.2" y2="51.24" class="tm"/>
<text x="253.80" y="32.67" class="tk" text-anchor="end">0.3</text>
<line x1="258.7" y1="29.87" x2="261.2" y2="29.87" class="tm"/>
<text x="253.80" y="11.30" class="tk" text-anchor="end">0.35</text>
<text x="264.50" y="167.90" class="tk" text-anchor="middle">-8</text>
<line x1="264.00" y1="158.1" x2="264.00" y2="155.6" class="tm"/>
<text x="285.71" y="167.90" class="tk" text-anchor="middle">-6</text>
<line x1="285.21" y1="158.1" x2="285.21" y2="155.6" class="tm"/>
<text x="306.93" y="167.90" class="tk" text-anchor="middle">-4</text>
<line x1="306.43" y1="158.1" x2="306.43" y2="155.6" class="tm"/>
<text x="328.14" y="167.90" class="tk" text-anchor="middle">-2</text>
<line x1="327.64" y1="158.1" x2="327.64" y2="155.6" class="tm"/>
<text x="349.35" y="167.90" class="tk" text-anchor="middle">0</text>
<line x1="348.85" y1="158.1" x2="348.85" y2="155.6" class="tm"/>
<text x="370.56" y="167.90" class="tk" text-anchor="middle">2</text>
<line x1="370.06" y1="158.1" x2="370.06" y2="155.6" class="tm"/>
<text x="391.77" y="167.90" class="tk" text-anchor="middle">4</text>
<line x1="391.27" y1="158.1" x2="391.27" y2="155.6" class="tm"/>
<text x="412.99" y="167.90" class="tk" text-anchor="middle">6</text>
<line x1="412.49" y1="158.1" x2="412.49" y2="155.6" class="tm"/>
<text x="434.20" y="167.90" class="tk" text-anchor="middle">8</text>
<line x1="433.70" y1="158.1" x2="433.70" y2="155.6" class="tm"/>
<clipPath id="c1"><rect x="258.7" y="7.5" width="180.3" height="150.2"/></clipPath>
<g clip-path="url(#c1)">
<polyline points="258.7,157.7 259.2,157.7 259.7,157.7 260.2,157.7 260.7,157.7 261.2,157.7 261.7,157.7 262.2,157.7 262.7,157.7 263.2,157.7 263.7,157.7 264.2,157.7 264.7,157.7 265.2,157.7 265.7,157.7 266.2,157.7 266.7,157.7 267.2,157.7 267.7,157.7 268.2,157.7 268.7,157.7 269.2,157.7 269.7,157.7 270.2,157.7 270.7,157.7 271.2,157.7 271.7,157.7 272.2,157.7 272.7,157.7 273.2,157.7 273.7,157.7 274.2,157.7 274.7,157.7 275.2,157.7 275.7,157.7 276.2,157.7 276.7,157.7 277.2,157.7 277.7,157.7 278.2,157.7 278.7,157.7 279.2,157.7 279.7,157.7 280.2,157.7 280.7,157.7 281.2,157.7 281.7,157.7 282.2,157.7 282.7,157.7 283.2,157.7 283.7,157.7 284.2,157.7 284.7,157.7 285.2,157.7 285.7,157.7 286.2,157.7 286.7,157.7 287.2,157.7 287.7,157.7 288.2,157.7 288.7,157.7 289.2,157.7 289.7,157.7 290.2,157.7 290.7,157.7 291.2,157.7 291.7,157.7 292.2,157.7 292.7,157.7 293.2,157.7 293.7,157.7 294.2,157.7 294.7,157.7 295.2,157.7 295.7,157.7 296.2,157.7 296.7,157.7 297.2,157.7 297.7,157.7 298.2,157.7 298.7,157.7 299.2,157.7 299.7,157.7 300.2,157.7 300.7,157.7 301.2,157.7 301.7,157.7 302.2,157.7 302.7,157.7 303.2,157.7 303.7,157.7 304.2,157.7 304.7,157.7 305.2,157.7 305.7,157.7 306.2,157.7 306.7,157.7 307.2,157.7 307.7,157.7 308.2,157.7 308.7,157.7 309.2,157.7 309.7,157.7 310.2,157.7 310.7,157.7 311.2,157.7 311.7,157.7 312.2,157.7 312.7,157.7 313.2,157.7 313.7,157.7 314.2,157.7 314.7,157.7 315.2,157.7 315.7,157.7 316.2,157.7 316.7,157.7 317.2,157.6 317.7,157.6 318.2,157.6 318.7,157.6 319.2,157.6 319.7,157.5 320.2,157.5 320.7,157.5 321.2,157.4 321.7,157.4 322.2,157.4 322.7,157.3 323.2,157.3 323.7,157.2 324.2,157.1 324.7,157.0 325.2,157.0 325.7,156.8 326.2,156.7 326.7,156.4 327.2,156.1 327.7,155.6 328.2,155.1 328.7,154.5 329.2,153.8 329.7,152.8 330.2,151.6 330.7,150.3 331.2,148.8 331.7,147.1 332.2,145.1 332.7,142.6 333.2,139.6 333.7,136.2 334.2,131.0 334.7,125.0 335.2,120.8 335.7,117.3 336.2,113.6 336.7,108.9 337.2,102.9 337.7,96.2 338.2,90.0 338.7,84.2 339.2,78.8 339.7,74.2 340.2,70.5 340.7,67.0 341.2,63.3 341.7,59.0 342.2,53.4 342.7,48.2 343.2,43.3 343.7,38.6 344.2,34.2 344.7,31.0 345.2,28.4 345.7,26.2 346.2,24.1 346.7,22.0 347.2,19.5 347.7,17.8 348.2,17.0 348.7,16.6 349.2,16.5 349.7,16.9 350.2,17.6 350.7,19.0 351.2,21.5 351.7,23.7 352.2,25.7 352.7,27.9 353.2,30.5 353.7,33.5 354.2,37.6 354.7,42.4 355.2,47.3 355.7,52.5 356.2,57.3 356.7,61.8 357.2,66.3 357.7,70.6 358.2,74.7 358.7,79.1 359.2,83.9 359.7,88.9 360.2,94.1 360.7,99.4 361.2,104.0 361.7,108.0 362.2,112.2 362.7,117.6 363.2,122.5 363.7,126.3 364.2,129.6 364.7,132.6 365.2,135.5 365.7,138.4 366.2,141.1 366.7,143.5 367.2,145.3 367.7,146.9 368.2,148.3 368.7,149.5 369.2,150.7 369.7,151.7 370.2,152.5 370.7,153.2 371.2,153.8 371.7,154.4 372.2,155.0 372.7,155.5 373.2,155.9 373.7,156.3 374.2,156.6 374.7,156.8 375.2,156.9 375.7,157.0 376.2,157.1 376.7,157.2 377.2,157.2 377.7,157.3 378.2,157.4 378.7,157.4 379.2,157.4 379.7,157.5 380.2,157.5 380.7,157.5 381.2,157.6 381.7,157.6 382.2,157.6 382.7,157.6 383.2,157.7 383.7,157.7 384.2,157.7 384.7,157.7 385.2,157.7 385.7,157.7 386.2,157.7 386.7,157.7 387.2,157.7 387.7,157.7 388.2,157.7 388.7,157.7 389.2,157.7 389.7,157.7 390.2,157.7 390.7,157.7 391.2,157.7 391.7,157.7 392.2,157.7 392.7,157.7 393.2,157.7 393.7,157.7 394.2,157.7 394.7,157.7 395.2,157.7 395.7,157.7 396.2,157.7 396.7,157.7 397.2,157.7 397.7,157.7 398.2,157.7 398.7,157.7 399.2,157.7 399.7,157.7 400.2,157.7 400.7,157.7 401.2,157.7 401.7,157.7 402.2,157.7 402.7,157.7 403.2,157.7 403.7,157.7 404.2,157.7 404.7,157.7 405.2,157.7 405.7,157.7 406.2,157.7 406.7,157.7 407.2,157.7 407.7,157.7 408.2,157.7 408.7,157.7 409.2,157.7 409.7,157.7 410.2,157.7 410.7,157.7 411.2,157.7 411.7,157.7 412.2,157.7 412.7,157.7 413.2,157.7 413.7,157.7 414.2,157.7 414.7,157.7 415.2,157.7 415.7,157.7 416.2,157.7 416.7,157.7 417.2,157.7 417.7,157.7 418.2,157.7 418.7,157.7 419.2,157.7 419.7,157.7 420.2,157.7 420.7,157.7 421.2,157.7 421.7,157.7 422.2,157.7 422.7,157.7 423.2,157.7 423.7,157.7 424.2,157.7 424.7,157.7 425.2,157.7 425.7,157.7 426.2,157.7 426.7,157.7 427.2,157.7 427.7,157.7 428.2,157.7 428.7,157.7 429.2,157.7 429.7,157.7 430.2,157.7 430.7,157.7 431.2,157.7 431.7,157.7 432.2,157.7 432.7,157.7 433.2,157.7 433.7,157.7 434.2,157.7 434.7,157.7 435.2,157.7 435.7,157.7 436.2,157.7 436.7,157.7 437.2,157.7 437.7,157.7 438.2,157.7 438.7,157.7" stroke="#b44ef0" class="cv"/>
<polyline points="258.7,157.7 259.2,157.7 259.7,157.7 260.2,157.7 260.7,157.7 261.2,157.7 261.7,157.7 262.2,157.7 262.7,157.7 263.2,157.7 263.7,157.7 264.2,157.7 264.7,157.7 265.2,157.7 265.7,157.7 266.2,157.7 266.7,157.7 267.2,157.7 267.7,157.7 268.2,157.7 268.7,157.7 269.2,157.7 269.7,157.7 270.2,157.7 270.7,157.7 271.2,157.7 271.7,157.7 272.2,157.7 272.7,157.7 273.2,157.7 273.7,157.7 274.2,157.7 274.7,157.7 275.2,157.7 275.7,157.7 276.2,157.7 276.7,157.7 277.2,157.7 277.7,157.7 278.2,157.7 278.7,157.7 279.2,157.7 279.7,157.7 280.2,157.7 280.7,157.7 281.2,157.7 281.7,157.7 282.2,157.7 282.7,157.7 283.2,157.7 283.7,157.7 284.2,157.7 284.7,157.7 285.2,157.7 285.7,157.5 286.2,157.3 286.7,157.1 287.2,156.9 287.7,156.7 288.2,156.6 288.7,156.4 289.2,156.3 289.7,156.1 290.2,156.0 290.7,155.9 291.2,155.9 291.7,155.8 292.2,155.8 292.7,155.7 293.2,155.7 293.7,155.6 294.2,155.6 294.7,155.6 295.2,155.6 295.7,155.6 296.2,155.7 296.7,155.8 297.2,155.9 297.7,156.1 298.2,156.2 298.7,156.4 299.2,156.5 299.7,156.6 300.2,156.7 300.7,156.8 301.2,156.8 301.7,156.9 302.2,156.9 302.7,156.9 303.2,156.8 303.7,156.8 304.2,156.7 304.7,156.6 305.2,156.5 305.7,156.4 306.2,156.3 306.7,156.2 307.2,156.1 307.7,156.1 308.2,156.0 308.7,155.9 309.2,155.9 309.7,155.8 310.2,155.7 310.7,155.6 311.2,155.5 311.7,155.4 312.2,155.3 312.7,155.2 313.2,155.0 313.7,154.9 314.2,154.7 314.7,154.5 315.2,154.3 315.7,154.1 316.2,153.8 316.7,153.4 317.2,153.0 317.7,152.4 318.2,151.9 318.7,151.2 319.2,150.5 319.7,149.8 320.2,149.1 320.7,148.2 321.2,147.3 321.7,146.2 322.2,145.0 322.7,143.6 323.2,142.2 323.7,140.7 324.2,138.9 324.7,136.8 325.2,134.6 325.7,132.4 326.2,130.2 326.7,127.9 327.2,125.5 327.7,123.0 328.2,120.2 328.7,117.4 329.2,115.0 329.7,113.3 330.2,111.8 330.7,110.1 331.2,107.7 331.7,104.4 332.2,100.8 332.7,97.2 333.2,94.1 333.7,91.3 334.2,88.5 334.7,85.9 335.2,83.4 335.7,81.1 336.2,79.0 336.7,77.1 337.2,75.3 337.7,73.7 338.2,72.1 338.7,70.6 339.2,69.2 339.7,67.7 340.2,66.3 340.7,64.8 341.2,63.4 341.7,62.0 342.2,60.7 342.7,59.6 343.2,58.5 343.7,57.5 344.2,56.7 344.7,56.0 345.2,55.4 345.7,54.8 346.2,54.2 346.7,53.8 347.2,53.5 347.7,53.4 348.2,53.6 348.7,53.9 349.2,54.4 349.7,55.0 350.2,55.7 350.7,56.3 351.2,56.9 351.7,57.7 352.2,58.5 352.7,59.4 353.2,60.4 353.7,61.5 354.2,62.7 354.7,64.1 355.2,65.6 355.7,67.5 356.2,70.0 356.7,72.8 357.2,75.6 357.7,78.1 358.2,80.3 358.7,82.5 359.2,84.6 359.7,86.6 360.2,88.6 360.7,90.6 361.2,92.5 361.7,94.4 362.2,96.2 362.7,97.9 363.2,99.5 363.7,101.2 364.2,103.0 364.7,104.9 365.2,106.9 365.7,109.0 366.2,111.0 366.7,113.0 367.2,114.9 367.7,116.9 368.2,119.1 368.7,121.4 369.2,123.7 369.7,126.0 370.2,128.1 370.7,130.1 371.2,131.9 371.7,133.7 372.2,135.4 372.7,137.1 373.2,138.6 373.7,140.0 374.2,141.2 374.7,142.5 375.2,143.6 375.7,144.7 376.2,145.7 376.7,146.7 377.2,147.6 377.7,148.5 378.2,149.2 378.7,149.9 379.2,150.6 379.7,151.2 380.2,151.8 380.7,152.3 381.2,152.8 381.7,153.3 382.2,153.8 382.7,154.2 383.2,154.6 383.7,155.0 384.2,155.3 384.7,155.7 385.2,156.0 385.7,156.3 386.2,156.6 386.7,156.8 387.2,157.0 387.7,157.2 388.2,157.3 388.7,157.4 389.2,157.5 389.7,157.6 390.2,157.6 390.7,157.7 391.2,157.7 391.7,157.7 392.2,157.7 392.7,157.7 393.2,157.7 393.7,157.7 394.2,157.7 394.7,157.7 395.2,157.7 395.7,157.7 396.2,157.7 396.7,157.7 397.2,157.7 397.7,157.7 398.2,157.7 398.7,157.7 399.2,157.7 399.7,157.7 400.2,157.7 400.7,157.7 401.2,157.7 401.7,157.7 402.2,157.7 402.7,157.7 403.2,157.7 403.7,157.7 404.2,157.7 404.7,157.7 405.2,157.7 405.7,157.7 406.2,157.7 406.7,157.7 407.2,157.7 407.7,157.7 408.2,157.7 408.7,157.7 409.2,157.7 409.7,157.7 410.2,157.7 410.7,157.7 411.2,157.7 411.7,157.7 412.2,157.7 412.7,157.7 413.2,157.7 413.7,157.7 414.2,157.7 414.7,157.7 415.2,157.7 415.7,157.7 416.2,157.7 416.7,157.7 417.2,157.7 417.7,157.7 418.2,157.7 418.7,157.7 419.2,157.7 419.7,157.7 420.2,157.7 420.7,157.7 421.2,157.7 421.7,157.7 422.2,157.7 422.7,157.7 423.2,157.7 423.7,157.7 424.2,157.7 424.7,157.7 425.2,157.7 425.7,157.7 426.2,157.7 426.7,157.7 427.2,157.7 427.7,157.7 428.2,157.7 428.7,157.7 429.2,157.7 429.7,157.7 430.2,157.7 430.7,157.7 431.2,157.7 431.7,157.7 432.2,157.7 432.7,157.7 433.2,157.7 433.7,157.7 434.2,157.7 434.7,157.7 435.2,157.7 435.7,157.7 436.2,157.7 436.7,157.7 437.2,157.7 437.7,157.7 438.2,157.7 438.7,157.7" stroke="#3fb88f" class="cv"/>
<polyline points="258.7,157.7 259.2,157.7 259.7,157.7 260.2,157.7 260.7,157.7 261.2,157.7 261.7,157.7 262.2,157.7 262.7,157.7 263.2,157.7 263.7,157.7 264.2,157.7 264.7,157.7 265.2,157.7 265.7,157.7 266.2,157.7 266.7,157.7 267.2,157.7 267.7,157.7 268.2,157.7 268.7,157.7 269.2,157.7 269.7,157.7 270.2,157.7 270.7,157.7 271.2,157.7 271.7,157.7 272.2,157.7 272.7,157.7 273.2,157.7 273.7,157.7 274.2,157.7 274.7,157.7 275.2,157.7 275.7,157.7 276.2,157.7 276.7,157.7 277.2,157.7 277.7,157.7 278.2,157.7 278.7,157.7 279.2,157.7 279.7,157.7 280.2,157.7 280.7,157.7 281.2,157.7 281.7,157.7 282.2,157.7 282.7,157.7 283.2,157.7 283.7,157.7 284.2,157.7 284.7,157.7 285.2,157.7 285.7,157.7 286.2,157.7 286.7,157.7 287.2,157.7 287.7,157.7 288.2,157.7 288.7,157.7 289.2,157.7 289.7,157.7 290.2,157.7 290.7,157.7 291.2,157.7 291.7,157.7 292.2,157.7 292.7,157.7 293.2,157.7 293.7,157.7 294.2,157.7 294.7,157.7 295.2,157.7 295.7,157.7 296.2,157.7 296.7,157.6 297.2,157.5 297.7,157.5 298.2,157.4 298.7,157.3 299.2,157.2 299.7,157.1 300.2,157.0 300.7,156.9 301.2,156.8 301.7,156.5 302.2,156.0 302.7,155.6 303.2,155.0 303.7,154.4 304.2,153.8 304.7,153.3 305.2,152.7 305.7,152.0 306.2,151.3 306.7,150.5 307.2,149.8 307.7,149.1 308.2,148.4 308.7,147.7 309.2,147.1 309.7,146.5 310.2,146.0 310.7,145.4 311.2,144.8 311.7,144.2 312.2,143.6 312.7,142.9 313.2,142.2 313.7,141.6 314.2,140.9 314.7,140.2 315.2,139.4 315.7,138.6 316.2,137.8 316.7,136.9 317.2,135.9 317.7,134.8 318.2,133.5 318.7,132.2 319.2,130.7 319.7,129.3 320.2,127.8 320.7,126.3 321.2,124.7 321.7,123.0 322.2,121.3 322.7,119.5 323.2,117.8 323.7,115.9 324.2,114.0 324.7,112.2 325.2,110.5 325.7,109.0 326.2,107.7 326.7,106.3 327.2,105.0 327.7,103.6 328.2,102.2 328.7,100.8 329.2,99.5 329.7,98.1 330.2,96.7 330.7,95.3 331.2,94.0 331.7,92.8 332.2,91.8 332.7,91.0 333.2,90.3 333.7,89.6 334.2,89.0 334.7,88.5 335.2,88.0 335.7,87.5 336.2,87.0 336.7,86.5 337.2,86.0 337.7,85.6 338.2,85.1 338.7,84.7 339.2,84.2 339.7,83.8 340.2,83.4 340.7,83.0 341.2,82.7 341.7,82.3 342.2,82.0 342.7,81.8 343.2,81.5 343.7,81.3 344.2,81.0 344.7,80.8 345.2,80.6 345.7,80.4 346.2,80.3 346.7,80.1 347.2,79.9 347.7,79.8 348.2,79.7 348.7,79.5 349.2,79.4 349.7,79.2 350.2,79.1 350.7,79.0 351.2,78.9 351.7,78.9 352.2,78.9 352.7,79.1 353.2,79.4 353.7,79.7 354.2,80.1 354.7,80.5 355.2,81.0 355.7,81.7 356.2,82.5 356.7,83.4 357.2,84.3 357.7,85.3 358.2,86.5 358.7,87.7 359.2,89.0 359.7,90.4 360.2,91.7 360.7,92.9 361.2,94.1 361.7,95.3 362.2,96.5 362.7,97.6 363.2,98.8 363.7,99.9 364.2,101.0 364.7,102.1 365.2,103.1 365.7,104.2 366.2,105.1 366.7,106.1 367.2,107.0 367.7,108.0 368.2,108.9 368.7,109.7 369.2,110.5 369.7,111.3 370.2,112.1 370.7,112.9 371.2,113.8 371.7,114.8 372.2,115.9 372.7,117.2 373.2,118.5 373.7,119.9 374.2,121.4 374.7,122.8 375.2,124.3 375.7,125.7 376.2,127.0 376.7,128.3 377.2,129.7 377.7,131.0 378.2,132.3 378.7,133.7 379.2,134.9 379.7,136.1 380.2,137.3 380.7,138.3 381.2,139.3 381.7,140.2 382.2,141.1 382.7,141.9 383.2,142.7 383.7,143.5 384.2,144.3 384.7,145.0 385.2,145.8 385.7,146.5 386.2,147.2 386.7,147.9 387.2,148.6 387.7,149.2 388.2,149.9 388.7,150.5 389.2,151.1 389.7,151.7 390.2,152.2 390.7,152.7 391.2,153.1 391.7,153.5 392.2,153.9 392.7,154.3 393.2,154.7 393.7,155.0 394.2,155.3 394.7,155.6 395.2,155.8 395.7,156.0 396.2,156.3 396.7,156.5 397.2,156.7 397.7,156.9 398.2,157.0 398.7,157.2 399.2,157.3 399.7,157.5 400.2,157.6 400.7,157.6 401.2,157.7 401.7,157.7 402.2,157.7 402.7,157.7 403.2,157.7 403.7,157.7 404.2,157.7 404.7,157.7 405.2,157.7 405.7,157.7 406.2,157.7 406.7,157.7 407.2,157.7 407.7,157.7 408.2,157.7 408.7,157.7 409.2,157.7 409.7,157.7 410.2,157.7 410.7,157.7 411.2,157.7 411.7,157.7 412.2,157.7 412.7,157.7 413.2,157.7 413.7,157.7 414.2,157.7 414.7,157.7 415.2,157.7 415.7,157.7 416.2,157.7 416.7,157.7 417.2,157.7 417.7,157.7 418.2,157.7 418.7,157.7 419.2,157.7 419.7,157.7 420.2,157.7 420.7,157.7 421.2,157.7 421.7,157.7 422.2,157.7 422.7,157.7 423.2,157.7 423.7,157.7 424.2,157.7 424.7,157.7 425.2,157.7 425.7,157.7 426.2,157.7 426.7,157.7 427.2,157.7 427.7,157.7 428.2,157.7 428.7,157.7 429.2,157.7 429.7,157.7 430.2,157.7 430.7,157.7 431.2,157.7 431.7,157.7 432.2,157.7 432.7,157.7 433.2,157.7 433.7,157.7 434.2,157.7 434.7,157.7 435.2,157.7 435.7,157.7 436.2,157.7 436.7,157.7 437.2,157.7 437.7,157.7 438.2,157.7 438.7,157.7" stroke="#7cc8f0" class="cv"/>
<polyline points="258.7,157.7 259.2,157.7 259.7,157.7 260.2,157.7 260.7,157.7 261.2,157.7 261.7,157.7 262.2,157.7 262.7,157.7 263.2,157.7 263.7,157.7 264.2,157.7 264.7,157.7 265.2,157.7 265.7,157.7 266.2,157.7 266.7,157.7 267.2,157.7 267.7,157.7 268.2,157.7 268.7,157.7 269.2,157.7 269.7,157.7 270.2,157.7 270.7,157.7 271.2,157.7 271.7,157.7 272.2,157.7 272.7,157.7 273.2,157.7 273.7,157.7 274.2,157.7 274.7,157.7 275.2,157.7 275.7,157.7 276.2,157.7 276.7,157.6 277.2,157.6 277.7,157.6 278.2,157.5 278.7,157.5 279.2,157.4 279.7,157.4 280.2,157.3 280.7,157.3 281.2,157.2 281.7,157.2 282.2,157.1 282.7,157.0 283.2,157.0 283.7,156.9 284.2,156.9 284.7,156.8 285.2,156.7 285.7,156.6 286.2,156.5 286.7,156.3 287.2,156.2 287.7,156.0 288.2,155.9 288.7,155.7 289.2,155.5 289.7,155.4 290.2,155.2 290.7,155.0 291.2,154.8 291.7,154.6 292.2,154.4 292.7,154.2 293.2,154.0 293.7,153.8 294.2,153.6 294.7,153.4 295.2,153.1 295.7,152.8 296.2,152.6 296.7,152.3 297.2,152.0 297.7,151.7 298.2,151.4 298.7,151.1 299.2,150.7 299.7,150.3 300.2,149.9 300.7,149.5 301.2,149.0 301.7,148.6 302.2,148.1 302.7,147.7 303.2,147.2 303.7,146.7 304.2,146.2 304.7,145.7 305.2,145.1 305.7,144.6 306.2,143.9 306.7,143.2 307.2,142.5 307.7,141.7 308.2,141.0 308.7,140.2 309.2,139.4 309.7,138.5 310.2,137.6 310.7,136.7 311.2,135.8 311.7,134.9 312.2,134.0 312.7,133.2 313.2,132.3 313.7,131.4 314.2,130.6 314.7,129.8 315.2,129.0 315.7,128.2 316.2,127.5 316.7,126.8 317.2,126.1 317.7,125.4 318.2,124.7 318.7,123.9 319.2,123.1 319.7,122.3 320.2,121.5 320.7,120.6 321.2,119.8 321.7,118.9 322.2,118.0 322.7,117.2 323.2,116.3 323.7,115.4 324.2,114.5 324.7,113.5 325.2,112.6 325.7,111.6 326.2,110.7 326.7,109.8 327.2,108.8 327.7,107.9 328.2,107.0 328.7,106.0 329.2,105.0 329.7,104.0 330.2,103.1 330.7,102.2 331.2,101.4 331.7,100.7 332.2,100.1 332.7,99.5 333.2,99.0 333.7,98.4 334.2,97.9 334.7,97.5 335.2,97.0 335.7,96.6 336.2,96.2 336.7,95.8 337.2,95.4 337.7,95.1 338.2,94.7 338.7,94.4 339.2,94.1 339.7,93.8 340.2,93.5 340.7,93.2 341.2,93.0 341.7,92.7 342.2,92.5 342.7,92.4 343.2,92.2 343.7,92.1 344.2,91.9 344.7,91.8 345.2,91.6 345.7,91.5 346.2,91.4 346.7,91.3 347.2,91.2 347.7,91.2 348.2,91.2 348.7,91.2 349.2,91.3 349.7,91.4 350.2,91.5 350.7,91.5 351.2,91.6 351.7,91.7 352.2,91.7 352.7,91.8 353.2,91.8 353.7,91.9 354.2,92.0 354.7,92.0 355.2,92.1 355.7,92.2 356.2,92.3 356.7,92.5 357.2,92.7 357.7,93.0 358.2,93.4 358.7,93.9 359.2,94.4 359.7,94.9 360.2,95.5 360.7,96.0 361.2,96.6 361.7,97.3 362.2,98.0 362.7,98.7 363.2,99.4 363.7,100.1 364.2,100.7 364.7,101.3 365.2,101.9 365.7,102.4 366.2,103.0 366.7,103.5 367.2,104.0 367.7,104.6 368.2,105.2 368.7,105.8 369.2,106.5 369.7,107.3 370.2,108.1 370.7,109.0 371.2,110.0 371.7,111.1 372.2,112.1 372.7,113.2 373.2,114.3 373.7,115.4 374.2,116.4 374.7,117.6 375.2,118.7 375.7,119.9 376.2,121.0 376.7,122.2 377.2,123.4 377.7,124.5 378.2,125.5 378.7,126.5 379.2,127.5 379.7,128.4 380.2,129.3 380.7,130.2 381.2,131.1 381.7,131.9 382.2,132.7 382.7,133.5 383.2,134.2 383.7,134.9 384.2,135.6 384.7,136.2 385.2,136.8 385.7,137.4 386.2,138.0 386.7,138.6 387.2,139.2 387.7,139.8 388.2,140.4 388.7,141.1 389.2,141.7 389.7,142.4 390.2,143.1 390.7,143.7 391.2,144.4 391.7,145.1 392.2,145.8 392.7,146.4 393.2,147.1 393.7,147.8 394.2,148.4 394.7,149.1 395.2,149.8 395.7,150.5 396.2,151.3 396.7,152.1 397.2,152.8 397.7,153.5 398.2,154.2 398.7,154.7 399.2,155.2 399.7,155.6 400.2,155.9 400.7,156.3 401.2,156.6 401.7,156.9 402.2,157.1 402.7,157.3 403.2,157.5 403.7,157.5 404.2,157.6 404.7,157.6 405.2,157.7 405.7,157.7 406.2,157.7 406.7,157.7 407.2,157.7 407.7,157.7 408.2,157.7 408.7,157.7 409.2,157.7 409.7,157.7 410.2,157.7 410.7,157.7 411.2,157.7 411.7,157.7 412.2,157.7 412.7,157.7 413.2,157.7 413.7,157.7 414.2,157.7 414.7,157.7 415.2,157.7 415.7,157.7 416.2,157.7 416.7,157.7 417.2,157.7 417.7,157.7 418.2,157.7 418.7,157.7 419.2,157.7 419.7,157.7 420.2,157.7 420.7,157.7 421.2,157.7 421.7,157.7 422.2,157.7 422.7,157.7 423.2,157.7 423.7,157.7 424.2,157.7 424.7,157.7 425.2,157.7 425.7,157.7 426.2,157.7 426.7,157.7 427.2,157.7 427.7,157.7 428.2,157.7 428.7,157.7 429.2,157.7 429.7,157.7 430.2,157.7 430.7,157.7 431.2,157.7 431.7,157.7 432.2,157.7 432.7,157.7 433.2,157.7 433.7,157.7 434.2,157.7 434.7,157.7 435.2,157.7 435.7,157.7 436.2,157.7 436.7,157.7 437.2,157.7 437.7,157.7 438.2,157.7 438.7,157.7" stroke="#eeb23c" class="cv"/>
<polyline points="258.7,157.7 259.2,157.7 259.7,157.7 260.2,157.7 260.7,157.7 261.2,157.7 261.7,157.7 262.2,157.7 262.7,157.7 263.2,157.7 263.7,157.7 264.2,157.7 264.7,157.7 265.2,157.7 265.7,157.7 266.2,157.7 266.7,157.7 267.2,157.7 267.7,157.7 268.2,157.7 268.7,157.7 269.2,157.7 269.7,157.7 270.2,157.7 270.7,157.7 271.2,157.7 271.7,157.7 272.2,157.7 272.7,157.7 273.2,157.7 273.7,157.7 274.2,157.7 274.7,157.7 275.2,157.6 275.7,157.6 276.2,157.5 276.7,157.5 277.2,157.4 277.7,157.3 278.2,157.3 278.7,157.2 279.2,157.1 279.7,157.0 280.2,156.9 280.7,156.9 281.2,156.8 281.7,156.6 282.2,156.4 282.7,156.2 283.2,156.0 283.7,155.8 284.2,155.6 284.7,155.3 285.2,155.0 285.7,154.8 286.2,154.5 286.7,154.3 287.2,154.0 287.7,153.8 288.2,153.6 288.7,153.3 289.2,153.1 289.7,152.8 290.2,152.5 290.7,152.3 291.2,152.0 291.7,151.8 292.2,151.5 292.7,151.3 293.2,151.1 293.7,150.9 294.2,150.7 294.7,150.5 295.2,150.3 295.7,150.2 296.2,150.0 296.7,149.8 297.2,149.6 297.7,149.4 298.2,149.2 298.7,148.9 299.2,148.6 299.7,148.3 300.2,147.9 300.7,147.5 301.2,147.1 301.7,146.7 302.2,146.2 302.7,145.8 303.2,145.3 303.7,144.8 304.2,144.2 304.7,143.6 305.2,143.0 305.7,142.4 306.2,141.8 306.7,141.1 307.2,140.5 307.7,139.8 308.2,139.1 308.7,138.4 309.2,137.7 309.7,137.0 310.2,136.3 310.7,135.6 311.2,134.9 311.7,134.2 312.2,133.5 312.7,132.8 313.2,132.1 313.7,131.4 314.2,130.8 314.7,130.1 315.2,129.5 315.7,128.8 316.2,128.3 316.7,127.8 317.2,127.3 317.7,126.8 318.2,126.3 318.7,125.8 319.2,125.3 319.7,124.8 320.2,124.3 320.7,123.8 321.2,123.2 321.7,122.6 322.2,122.0 322.7,121.3 323.2,120.7 323.7,120.0 324.2,119.3 324.7,118.6 325.2,117.8 325.7,117.1 326.2,116.4 326.7,115.7 327.2,115.0 327.7,114.3 328.2,113.6 328.7,112.8 329.2,112.1 329.7,111.3 330.2,110.5 330.7,109.8 331.2,109.0 331.7,108.3 332.2,107.7 332.7,107.0 333.2,106.5 333.7,106.0 334.2,105.5 334.7,105.2 335.2,104.8 335.7,104.5 336.2,104.2 336.7,103.9 337.2,103.7 337.7,103.4 338.2,103.1 338.7,102.8 339.2,102.5 339.7,102.2 340.2,101.8 340.7,101.4 341.2,101.0 341.7,100.5 342.2,100.0 342.7,99.5 343.2,99.0 343.7,98.5 344.2,97.9 344.7,97.2 345.2,96.4 345.7,95.5 346.2,94.6 346.7,93.8 347.2,93.3 347.7,93.1 348.2,93.1 348.7,93.3 349.2,93.5 349.7,93.7 350.2,94.0 350.7,94.4 351.2,94.7 351.7,95.0 352.2,95.4 352.7,95.9 353.2,96.5 353.7,97.1 354.2,97.8 354.7,98.3 355.2,98.8 355.7,99.2 356.2,99.4 356.7,99.5 357.2,99.7 357.7,99.8 358.2,99.9 358.7,100.0 359.2,100.1 359.7,100.2 360.2,100.4 360.7,100.6 361.2,100.8 361.7,101.1 362.2,101.5 362.7,101.9 363.2,102.3 363.7,102.7 364.2,103.1 364.7,103.6 365.2,104.0 365.7,104.4 366.2,104.7 366.7,105.1 367.2,105.4 367.7,105.7 368.2,106.1 368.7,106.4 369.2,106.8 369.7,107.2 370.2,107.6 370.7,108.1 371.2,108.7 371.7,109.3 372.2,110.1 372.7,110.8 373.2,111.6 373.7,112.5 374.2,113.4 374.7,114.3 375.2,115.2 375.7,116.0 376.2,116.9 376.7,117.8 377.2,118.7 377.7,119.6 378.2,120.5 378.7,121.5 379.2,122.4 379.7,123.3 380.2,124.3 380.7,125.2 381.2,126.0 381.7,126.8 382.2,127.6 382.7,128.4 383.2,129.1 383.7,129.8 384.2,130.5 384.7,131.1 385.2,131.8 385.7,132.5 386.2,133.2 386.7,133.9 387.2,134.6 387.7,135.4 388.2,136.1 388.7,136.9 389.2,137.8 389.7,138.6 390.2,139.4 390.7,140.3 391.2,141.2 391.7,142.1 392.2,143.1 392.7,144.0 393.2,144.9 393.7,145.7 394.2,146.5 394.7,147.3 395.2,148.0 395.7,148.8 396.2,149.6 396.7,150.3 397.2,150.9 397.7,151.5 398.2,152.1 398.7,152.5 399.2,152.8 399.7,153.1 400.2,153.4 400.7,153.6 401.2,153.8 401.7,154.0 402.2,154.2 402.7,154.3 403.2,154.5 403.7,154.6 404.2,154.8 404.7,154.9 405.2,155.1 405.7,155.2 406.2,155.3 406.7,155.4 407.2,155.5 407.7,155.6 408.2,155.7 408.7,155.8 409.2,155.9 409.7,156.0 410.2,156.1 410.7,156.2 411.2,156.3 411.7,156.4 412.2,156.5 412.7,156.6 413.2,156.8 413.7,156.9 414.2,157.1 414.7,157.2 415.2,157.4 415.7,157.5 416.2,157.6 416.7,157.7 417.2,157.7 417.7,157.7 418.2,157.7 418.7,157.7 419.2,157.7 419.7,157.7 420.2,157.7 420.7,157.7 421.2,157.7 421.7,157.7 422.2,157.7 422.7,157.7 423.2,157.7 423.7,157.7 424.2,157.7 424.7,157.7 425.2,157.7 425.7,157.7 426.2,157.7 426.7,157.7 427.2,157.7 427.7,157.7 428.2,157.7 428.7,157.7 429.2,157.7 429.7,157.7 430.2,157.7 430.7,157.7 431.2,157.7 431.7,157.7 432.2,157.7 432.7,157.7 433.2,157.7 433.7,157.7 434.2,157.7 434.7,157.7 435.2,157.7 435.7,157.7 436.2,157.7 436.7,157.7 437.2,157.7 437.7,157.7 438.2,157.7 438.7,157.7" stroke="#f2e46a" class="cv"/>
<polyline points="258.7,157.7 259.2,157.7 259.7,157.7 260.2,157.7 260.7,157.7 261.2,157.7 261.7,157.7 262.2,157.7 262.7,157.7 263.2,157.7 263.7,157.7 264.2,157.7 264.7,157.7 265.2,157.7 265.7,157.7 266.2,157.7 266.7,157.7 267.2,157.7 267.7,157.7 268.2,157.7 268.7,157.6 269.2,157.6 269.7,157.5 270.2,157.4 270.7,157.3 271.2,157.2 271.7,157.1 272.2,157.0 272.7,156.9 273.2,156.7 273.7,156.6 274.2,156.5 274.7,156.4 275.2,156.2 275.7,156.0 276.2,155.7 276.7,155.3 277.2,154.9 277.7,154.5 278.2,154.2 278.7,153.8 279.2,153.6 279.7,153.4 280.2,153.2 280.7,153.1 281.2,152.9 281.7,152.8 282.2,152.7 282.7,152.5 283.2,152.4 283.7,152.3 284.2,152.2 284.7,152.2 285.2,152.1 285.7,152.0 286.2,152.0 286.7,151.9 287.2,151.8 287.7,151.8 288.2,151.7 288.7,151.5 289.2,151.2 289.7,150.8 290.2,150.3 290.7,149.8 291.2,149.2 291.7,148.6 292.2,148.0 292.7,147.5 293.2,147.0 293.7,146.5 294.2,146.0 294.7,145.5 295.2,144.9 295.7,144.4 296.2,143.9 296.7,143.4 297.2,142.9 297.7,142.4 298.2,141.9 298.7,141.4 299.2,141.0 299.7,140.5 300.2,140.1 300.7,139.7 301.2,139.3 301.7,138.9 302.2,138.5 302.7,138.1 303.2,137.7 303.7,137.3 304.2,136.9 304.7,136.5 305.2,136.1 305.7,135.7 306.2,135.3 306.7,134.9 307.2,134.6 307.7,134.2 308.2,133.8 308.7,133.3 309.2,132.8 309.7,132.2 310.2,131.6 310.7,131.1 311.2,130.6 311.7,130.2 312.2,129.8 312.7,129.4 313.2,129.1 313.7,128.7 314.2,128.4 314.7,128.0 315.2,127.6 315.7,127.3 316.2,126.9 316.7,126.5 317.2,126.1 317.7,125.7 318.2,125.3 318.7,124.9 319.2,124.4 319.7,123.9 320.2,123.4 320.7,122.9 321.2,122.4 321.7,121.8 322.2,121.3 322.7,120.7 323.2,120.2 323.7,119.7 324.2,119.2 324.7,118.8 325.2,118.4 325.7,118.1 326.2,117.8 326.7,117.5 327.2,117.2 327.7,117.0 328.2,116.8 328.7,116.5 329.2,116.3 329.7,116.0 330.2,115.6 330.7,115.3 331.2,114.8 331.7,114.3 332.2,113.7 332.7,113.0 333.2,112.3 333.7,111.6 334.2,110.8 334.7,110.1 335.2,109.3 335.7,108.6 336.2,107.8 336.7,107.0 337.2,106.1 337.7,105.3 338.2,104.4 338.7,103.6 339.2,102.9 339.7,102.3 340.2,101.8 340.7,101.4 341.2,101.0 341.7,100.7 342.2,100.4 342.7,100.2 343.2,99.9 343.7,99.7 344.2,99.4 344.7,99.2 345.2,99.0 345.7,98.7 346.2,98.5 346.7,98.3 347.2,98.2 347.7,98.0 348.2,97.8 348.7,97.6 349.2,97.4 349.7,97.2 350.2,97.0 350.7,96.8 351.2,96.5 351.7,96.2 352.2,95.9 352.7,95.6 353.2,95.3 353.7,95.1 354.2,94.9 354.7,94.7 355.2,94.6 355.7,94.5 356.2,94.5 356.7,94.7 357.2,95.0 357.7,95.3 358.2,95.7 358.7,96.2 359.2,96.6 359.7,97.1 360.2,97.5 360.7,98.0 361.2,98.4 361.7,98.9 362.2,99.4 362.7,99.9 363.2,100.4 363.7,100.9 364.2,101.5 364.7,102.0 365.2,102.5 365.7,102.9 366.2,103.4 366.7,103.8 367.2,104.2 367.7,104.5 368.2,104.9 368.7,105.3 369.2,105.7 369.7,106.1 370.2,106.5 370.7,107.0 371.2,107.5 371.7,108.1 372.2,108.7 372.7,109.3 373.2,109.9 373.7,110.6 374.2,111.2 374.7,111.9 375.2,112.7 375.7,113.4 376.2,114.1 376.7,114.9 377.2,115.6 377.7,116.4 378.2,117.3 378.7,118.2 379.2,119.1 379.7,120.0 380.2,121.0 380.7,121.9 381.2,122.9 381.7,123.8 382.2,124.7 382.7,125.6 383.2,126.4 383.7,127.1 384.2,127.9 384.7,128.6 385.2,129.3 385.7,130.0 386.2,130.8 386.7,131.5 387.2,132.4 387.7,133.3 388.2,134.3 388.7,135.5 389.2,136.6 389.7,137.5 390.2,138.3 390.7,138.9 391.2,139.5 391.7,140.1 392.2,140.7 392.7,141.2 393.2,141.6 393.7,142.1 394.2,142.5 394.7,142.9 395.2,143.3 395.7,143.7 396.2,144.0 396.7,144.4 397.2,144.7 397.7,145.0 398.2,145.3 398.7,145.6 399.2,145.9 399.7,146.1 400.2,146.4 400.7,146.7 401.2,146.9 401.7,147.2 402.2,147.5 402.7,147.7 403.2,147.9 403.7,148.2 404.2,148.4 404.7,148.7 405.2,148.9 405.7,149.1 406.2,149.4 406.7,149.7 407.2,150.0 407.7,150.3 408.2,150.6 408.7,151.0 409.2,151.4 409.7,151.8 410.2,152.1 410.7,152.5 411.2,152.9 411.7,153.3 412.2,153.6 412.7,153.9 413.2,154.3 413.7,154.6 414.2,155.0 414.7,155.4 415.2,155.7 415.7,156.1 416.2,156.4 416.7,156.7 417.2,156.9 417.7,157.1 418.2,157.2 418.7,157.3 419.2,157.4 419.7,157.5 420.2,157.5 420.7,157.6 421.2,157.7 421.7,157.7 422.2,157.7 422.7,157.7 423.2,157.7 423.7,157.7 424.2,157.7 424.7,157.7 425.2,157.7 425.7,157.7 426.2,157.7 426.7,157.7 427.2,157.7 427.7,157.7 428.2,157.7 428.7,157.7 429.2,157.7 429.7,157.7 430.2,157.7 430.7,157.7 431.2,157.7 431.7,157.7 432.2,157.7 432.7,157.7 433.2,157.7 433.7,157.7 434.2,157.7 434.7,157.7 435.2,157.7 435.7,157.7 436.2,157.7 436.7,157.7 437.2,157.7 437.7,157.7 438.2,157.7 438.7,157.7" stroke="#2e86c8" class="cv"/>
<polyline points="258.7,157.4 259.2,157.4 259.7,157.4 260.2,157.4 260.7,157.3 261.2,157.3 261.7,157.3 262.2,157.2 262.7,157.2 263.2,157.1 263.7,157.0 264.2,157.0 264.7,156.9 265.2,156.8 265.7,156.7 266.2,156.5 266.7,156.4 267.2,156.2 267.7,156.0 268.2,155.8 268.7,155.6 269.2,155.5 269.7,155.4 270.2,155.3 270.7,155.3 271.2,155.4 271.7,155.5 272.2,155.6 272.7,155.7 273.2,155.8 273.7,156.0 274.2,156.0 274.7,156.1 275.2,156.1 275.7,156.0 276.2,155.9 276.7,155.6 277.2,155.4 277.7,155.1 278.2,154.8 278.7,154.5 279.2,154.2 279.7,153.9 280.2,153.6 280.7,153.4 281.2,153.2 281.7,152.9 282.2,152.6 282.7,152.4 283.2,152.1 283.7,151.9 284.2,151.7 284.7,151.5 285.2,151.3 285.7,151.2 286.2,151.1 286.7,151.1 287.2,151.0 287.7,150.9 288.2,150.8 288.7,150.6 289.2,150.3 289.7,149.9 290.2,149.4 290.7,148.9 291.2,148.4 291.7,147.9 292.2,147.4 292.7,146.9 293.2,146.3 293.7,145.8 294.2,145.2 294.7,144.6 295.2,144.0 295.7,143.4 296.2,142.9 296.7,142.3 297.2,141.8 297.7,141.3 298.2,140.8 298.7,140.3 299.2,139.9 299.7,139.4 300.2,138.9 300.7,138.5 301.2,138.1 301.7,137.6 302.2,137.2 302.7,136.8 303.2,136.5 303.7,136.1 304.2,135.8 304.7,135.4 305.2,135.1 305.7,134.8 306.2,134.5 306.7,134.2 307.2,133.8 307.7,133.4 308.2,133.0 308.7,132.6 309.2,132.1 309.7,131.6 310.2,131.2 310.7,130.7 311.2,130.3 311.7,130.0 312.2,129.6 312.7,129.3 313.2,129.0 313.7,128.6 314.2,128.3 314.7,128.0 315.2,127.7 315.7,127.4 316.2,127.0 316.7,126.7 317.2,126.4 317.7,126.1 318.2,125.8 318.7,125.5 319.2,125.1 319.7,124.7 320.2,124.2 320.7,123.7 321.2,123.1 321.7,122.5 322.2,121.8 322.7,121.1 323.2,120.4 323.7,119.7 324.2,119.0 324.7,118.3 325.2,117.7 325.7,117.1 326.2,116.6 326.7,116.1 327.2,115.6 327.7,115.2 328.2,114.7 328.7,114.3 329.2,113.9 329.7,113.5 330.2,113.0 330.7,112.6 331.2,112.2 331.7,111.8 332.2,111.4 332.7,111.0 333.2,110.5 333.7,110.1 334.2,109.7 334.7,109.3 335.2,108.8 335.7,108.4 336.2,108.0 336.7,107.6 337.2,107.2 337.7,106.8 338.2,106.4 338.7,106.0 339.2,105.6 339.7,105.2 340.2,104.8 340.7,104.4 341.2,104.1 341.7,103.8 342.2,103.6 342.7,103.4 343.2,103.2 343.7,103.0 344.2,102.8 344.7,102.6 345.2,102.5 345.7,102.4 346.2,102.3 346.7,102.2 347.2,102.1 347.7,102.0 348.2,102.0 348.7,102.0 349.2,101.9 349.7,101.8 350.2,101.8 350.7,101.7 351.2,101.5 351.7,101.3 352.2,101.2 352.7,101.0 353.2,100.8 353.7,100.7 354.2,100.6 354.7,100.5 355.2,100.5 355.7,100.6 356.2,100.8 356.7,101.1 357.2,101.4 357.7,101.8 358.2,102.2 358.7,102.7 359.2,103.3 359.7,103.9 360.2,104.2 360.7,104.3 361.2,104.3 361.7,104.2 362.2,104.2 362.7,104.1 363.2,104.1 363.7,104.0 364.2,104.0 364.7,104.0 365.2,104.1 365.7,104.3 366.2,104.5 366.7,104.8 367.2,105.1 367.7,105.4 368.2,105.8 368.7,106.2 369.2,106.7 369.7,107.1 370.2,107.6 370.7,108.1 371.2,108.6 371.7,109.1 372.2,109.6 372.7,110.1 373.2,110.6 373.7,111.2 374.2,111.7 374.7,112.3 375.2,112.9 375.7,113.5 376.2,114.1 376.7,114.7 377.2,115.3 377.7,116.0 378.2,116.6 378.7,117.3 379.2,118.0 379.7,118.8 380.2,119.5 380.7,120.3 381.2,121.1 381.7,122.0 382.2,122.8 382.7,123.7 383.2,124.5 383.7,125.4 384.2,126.3 384.7,127.2 385.2,128.2 385.7,129.2 386.2,130.2 386.7,131.1 387.2,131.9 387.7,132.6 388.2,133.2 388.7,133.8 389.2,134.4 389.7,134.9 390.2,135.4 390.7,135.9 391.2,136.4 391.7,136.8 392.2,137.3 392.7,137.7 393.2,138.2 393.7,138.6 394.2,139.0 394.7,139.5 395.2,139.9 395.7,140.4 396.2,140.9 396.7,141.4 397.2,141.9 397.7,142.5 398.2,143.0 398.7,143.6 399.2,144.1 399.7,144.6 400.2,145.0 400.7,145.5 401.2,145.8 401.7,146.2 402.2,146.4 402.7,146.7 403.2,146.9 403.7,147.2 404.2,147.4 404.7,147.6 405.2,147.8 405.7,148.1 406.2,148.3 406.7,148.6 407.2,148.9 407.7,149.3 408.2,149.7 408.7,150.1 409.2,150.6 409.7,151.0 410.2,151.5 410.7,151.9 411.2,152.3 411.7,152.6 412.2,152.9 412.7,153.1 413.2,153.2 413.7,153.4 414.2,153.5 414.7,153.6 415.2,153.6 415.7,153.6 416.2,153.5 416.7,153.5 417.2,153.4 417.7,153.4 418.2,153.4 418.7,153.4 419.2,153.6 419.7,153.8 420.2,154.0 420.7,154.3 421.2,154.6 421.7,154.9 422.2,155.2 422.7,155.5 423.2,155.7 423.7,156.0 424.2,156.2 424.7,156.3 425.2,156.5 425.7,156.7 426.2,156.9 426.7,157.1 427.2,157.3 427.7,157.4 428.2,157.5 428.7,157.6 429.2,157.7 429.7,157.7 430.2,157.7 430.7,157.7 431.2,157.7 431.7,157.7 432.2,157.7 432.7,157.7 433.2,157.7 433.7,157.7 434.2,157.7 434.7,157.7 435.2,157.7 435.7,157.7 436.2,157.7 436.7,157.7 437.2,157.7 437.7,157.7 438.2,157.7 438.7,157.7" stroke="#ee4a3a" class="cv"/>
</g>
<rect x="258.7" y="8.5" width="180.3" height="149.6" class="fr"/>
<line x1="409.7" y1="19.20" x2="429.7" y2="19.20" stroke="#c77cf0" class="lg"/>
<text y="22.50" class="lt"><tspan x="370.60" class="it">t</tspan><tspan x="374.40" class="dj">/</tspan><tspan x="378.70" class="dj it">τ</tspan><tspan x="385.90" class="dj" style="font-size:9.4px">=</tspan><tspan x="395.90">1</tspan></text>
<line x1="409.7" y1="30.18" x2="429.7" y2="30.18" stroke="#7dcdaf" class="lg"/>
<text x="400.70" y="33.48" class="lt" text-anchor="end">2</text>
<line x1="409.7" y1="41.16" x2="429.7" y2="41.16" stroke="#a6daf5" class="lg"/>
<text x="400.70" y="44.46" class="lt" text-anchor="end">3</text>
<line x1="409.7" y1="52.14" x2="429.7" y2="52.14" stroke="#f2c872" class="lg"/>
<text x="400.70" y="55.44" class="lt" text-anchor="end">4</text>
<line x1="409.7" y1="63.12" x2="429.7" y2="63.12" stroke="#f5ec9a" class="lg"/>
<text x="400.70" y="66.42" class="lt" text-anchor="end">5</text>
<line x1="409.7" y1="74.10" x2="429.7" y2="74.10" stroke="#6aaad8" class="lg"/>
<text x="400.70" y="77.40" class="lt" text-anchor="end">6</text>
<line x1="409.7" y1="85.08" x2="429.7" y2="85.08" stroke="#f27a6a" class="lg"/>
<text x="400.70" y="88.38" class="lt" text-anchor="end">7</text>
<text x="269.7" y="28.80" class="pl">(b)</text>
<text x="269.3" y="46.30" class="st">St = 0.2</text>
<text class="ax"><tspan x="316.45" y="179.70">(</tspan><tspan x="320.05" y="179.70" class="it">x</tspan><tspan x="325.85" y="182.60" class="sb">3</tspan><tspan x="333.55" y="179.70">−</tspan><tspan x="344.05" y="179.70" class="it">L</tspan><tspan x="351.05" y="182.60" class="sb">3</tspan><tspan x="354.45" y="180.60" class="sl">/</tspan><tspan x="359.15" y="179.70">2</tspan><tspan x="363.75" y="179.70">)</tspan><tspan x="368.15" y="180.60" class="sl">/</tspan><tspan x="373.05" y="179.70" class="it">ℓ</tspan></text>
<text transform="translate(236.60,94.70) rotate(-90)" class="yl2"><tspan class="br2" x="-0.9" y="0.3">⟨</tspan><tspan class="it" x="3.7" y="0">v</tspan><tspan x="7.2" y="0">′</tspan><tspan class="sb2" x="8.2" y="1.9">3</tspan><tspan class="it" x="11.5" y="0">θ</tspan><tspan x="16.9" y="0">′</tspan><tspan class="br2" x="19.1" y="0.3">⟩</tspan></text>
<text x="32.20" y="343.40" class="tk" text-anchor="end">0</text>
<text x="32.20" y="322.03" class="tk" text-anchor="end">0.05</text>
<line x1="37.1" y1="319.23" x2="39.6" y2="319.23" class="tm"/>
<text x="32.20" y="300.66" class="tk" text-anchor="end">0.1</text>
<line x1="37.1" y1="297.86" x2="39.6" y2="297.86" class="tm"/>
<text x="32.20" y="279.29" class="tk" text-anchor="end">0.15</text>
<line x1="37.1" y1="276.49" x2="39.6" y2="276.49" class="tm"/>
<text x="32.20" y="257.91" class="tk" text-anchor="end">0.2</text>
<line x1="37.1" y1="255.11" x2="39.6" y2="255.11" class="tm"/>
<text x="32.20" y="236.54" class="tk" text-anchor="end">0.25</text>
<line x1="37.1" y1="233.74" x2="39.6" y2="233.74" class="tm"/>
<text x="32.20" y="215.17" class="tk" text-anchor="end">0.3</text>
<line x1="37.1" y1="212.37" x2="39.6" y2="212.37" class="tm"/>
<text x="32.20" y="193.80" class="tk" text-anchor="end">0.35</text>
<text x="42.90" y="350.40" class="tk" text-anchor="middle">-8</text>
<line x1="42.40" y1="340.6" x2="42.40" y2="338.1" class="tm"/>
<text x="64.11" y="350.40" class="tk" text-anchor="middle">-6</text>
<line x1="63.61" y1="340.6" x2="63.61" y2="338.1" class="tm"/>
<text x="85.33" y="350.40" class="tk" text-anchor="middle">-4</text>
<line x1="84.83" y1="340.6" x2="84.83" y2="338.1" class="tm"/>
<text x="106.54" y="350.40" class="tk" text-anchor="middle">-2</text>
<line x1="106.04" y1="340.6" x2="106.04" y2="338.1" class="tm"/>
<text x="127.75" y="350.40" class="tk" text-anchor="middle">0</text>
<line x1="127.25" y1="340.6" x2="127.25" y2="338.1" class="tm"/>
<text x="148.96" y="350.40" class="tk" text-anchor="middle">2</text>
<line x1="148.46" y1="340.6" x2="148.46" y2="338.1" class="tm"/>
<text x="170.17" y="350.40" class="tk" text-anchor="middle">4</text>
<line x1="169.67" y1="340.6" x2="169.67" y2="338.1" class="tm"/>
<text x="191.39" y="350.40" class="tk" text-anchor="middle">6</text>
<line x1="190.89" y1="340.6" x2="190.89" y2="338.1" class="tm"/>
<text x="212.60" y="350.40" class="tk" text-anchor="middle">8</text>
<line x1="212.10" y1="340.6" x2="212.10" y2="338.1" class="tm"/>
<clipPath id="c2"><rect x="37.1" y="190.0" width="180.3" height="150.2"/></clipPath>
<g clip-path="url(#c2)">
<polyline points="37.1,340.2 37.6,340.2 38.1,340.2 38.6,340.2 39.1,340.2 39.6,340.2 40.1,340.2 40.6,340.2 41.1,340.2 41.6,340.2 42.1,340.2 42.6,340.2 43.1,340.2 43.6,340.2 44.1,340.2 44.6,340.2 45.1,340.2 45.6,340.2 46.1,340.2 46.6,340.2 47.1,340.2 47.6,340.2 48.1,340.2 48.6,340.2 49.1,340.2 49.6,340.2 50.1,340.2 50.6,340.2 51.1,340.2 51.6,340.2 52.1,340.2 52.6,340.2 53.1,340.2 53.6,340.2 54.1,340.2 54.6,340.2 55.1,340.2 55.6,340.2 56.1,340.2 56.6,340.2 57.1,340.2 57.6,340.2 58.1,340.2 58.6,340.2 59.1,340.2 59.6,340.2 60.1,340.2 60.6,340.2 61.1,340.2 61.6,340.2 62.1,340.2 62.6,340.2 63.1,340.2 63.6,340.2 64.1,340.2 64.6,340.2 65.1,340.2 65.6,340.2 66.1,340.2 66.6,340.2 67.1,340.2 67.6,340.2 68.1,340.2 68.6,340.2 69.1,340.2 69.6,340.2 70.1,340.2 70.6,340.2 71.1,340.2 71.6,340.2 72.1,340.2 72.6,340.2 73.1,340.2 73.6,340.2 74.1,340.2 74.6,340.2 75.1,340.2 75.6,340.2 76.1,340.2 76.6,340.2 77.1,340.2 77.6,340.2 78.1,340.2 78.6,340.2 79.1,340.2 79.6,340.2 80.1,340.2 80.6,340.2 81.1,340.2 81.6,340.2 82.1,340.2 82.6,340.2 83.1,340.2 83.6,340.2 84.1,340.2 84.6,340.2 85.1,340.2 85.6,340.2 86.1,340.2 86.6,340.2 87.1,340.2 87.6,340.2 88.1,340.2 88.6,340.2 89.1,340.2 89.6,340.2 90.1,340.2 90.6,340.2 91.1,340.2 91.6,340.2 92.1,340.2 92.6,340.2 93.1,340.2 93.6,340.2 94.1,340.2 94.6,340.2 95.1,340.1 95.6,340.1 96.1,340.1 96.6,340.1 97.1,340.1 97.6,340.1 98.1,340.1 98.6,340.1 99.1,340.1 99.6,340.1 100.1,340.0 100.6,340.0 101.1,339.9 101.6,339.8 102.1,339.7 102.6,339.6 103.1,339.5 103.6,339.4 104.1,339.2 104.6,339.0 105.1,338.5 105.6,337.8 106.1,336.9 106.6,335.8 107.1,334.7 107.6,333.5 108.1,332.0 108.6,330.3 109.1,328.3 109.6,326.2 110.1,323.9 110.6,321.2 111.1,318.1 111.6,314.7 112.1,311.2 112.6,307.6 113.1,303.5 113.6,299.4 114.1,295.6 114.6,292.1 115.1,288.7 115.6,285.0 116.1,280.7 116.6,275.9 117.1,271.0 117.6,266.2 118.1,261.3 118.6,255.4 119.1,247.2 119.6,237.1 120.1,231.8 120.6,228.3 121.1,224.8 121.6,220.7 122.1,216.6 122.6,213.2 123.1,210.5 123.6,208.0 124.1,205.8 124.6,203.4 125.1,200.6 125.6,197.6 126.1,196.0 126.6,195.3 127.1,194.8 127.6,194.7 128.1,195.1 128.6,195.8 129.1,197.4 129.6,200.9 130.1,204.0 130.6,206.3 131.1,208.6 131.6,210.9 132.1,213.8 132.6,217.6 133.1,222.0 133.6,226.7 134.1,231.7 134.6,236.7 135.1,241.5 135.6,246.6 136.1,252.9 136.6,259.2 137.1,264.9 137.6,270.0 138.1,274.0 138.6,277.6 139.1,281.8 139.6,286.5 140.1,291.3 140.6,295.8 141.1,300.3 141.6,304.4 142.1,308.0 142.6,311.4 143.1,314.6 143.6,317.4 144.1,319.9 144.6,322.1 145.1,324.3 145.6,326.3 146.1,328.2 146.6,329.8 147.1,331.1 147.6,332.2 148.1,333.2 148.6,334.1 149.1,334.9 149.6,335.7 150.1,336.4 150.6,337.0 151.1,337.4 151.6,337.8 152.1,338.1 152.6,338.3 153.1,338.6 153.6,338.8 154.1,338.9 154.6,339.1 155.1,339.2 155.6,339.4 156.1,339.5 156.6,339.6 157.1,339.6 157.6,339.7 158.1,339.8 158.6,339.8 159.1,339.9 159.6,339.9 160.1,340.0 160.6,340.0 161.1,340.0 161.6,340.1 162.1,340.1 162.6,340.1 163.1,340.2 163.6,340.2 164.1,340.2 164.6,340.2 165.1,340.2 165.6,340.2 166.1,340.2 166.6,340.2 167.1,340.2 167.6,340.2 168.1,340.2 168.6,340.2 169.1,340.2 169.6,340.2 170.1,340.2 170.6,340.2 171.1,340.2 171.6,340.2 172.1,340.2 172.6,340.2 173.1,340.2 173.6,340.2 174.1,340.2 174.6,340.2 175.1,340.2 175.6,340.2 176.1,340.2 176.6,340.2 177.1,340.2 177.6,340.2 178.1,340.2 178.6,340.2 179.1,340.2 179.6,340.2 180.1,340.2 180.6,340.2 181.1,340.2 181.6,340.2 182.1,340.2 182.6,340.2 183.1,340.2 183.6,340.2 184.1,340.2 184.6,340.2 185.1,340.2 185.6,340.2 186.1,340.2 186.6,340.2 187.1,340.2 187.6,340.2 188.1,340.2 188.6,340.2 189.1,340.2 189.6,340.2 190.1,340.2 190.6,340.2 191.1,340.2 191.6,340.2 192.1,340.2 192.6,340.2 193.1,340.2 193.6,340.2 194.1,340.2 194.6,340.2 195.1,340.2 195.6,340.2 196.1,340.2 196.6,340.2 197.1,340.2 197.6,340.2 198.1,340.2 198.6,340.2 199.1,340.2 199.6,340.2 200.1,340.2 200.6,340.2 201.1,340.2 201.6,340.2 202.1,340.2 202.6,340.2 203.1,340.2 203.6,340.2 204.1,340.2 204.6,340.2 205.1,340.2 205.6,340.2 206.1,340.2 206.6,340.2 207.1,340.2 207.6,340.2 208.1,340.2 208.6,340.2 209.1,340.2 209.6,340.2 210.1,340.2 210.6,340.2 211.1,340.2 211.6,340.2 212.1,340.2 212.6,340.2 213.1,340.2 213.6,340.2 214.1,340.2 214.6,340.2 215.1,340.2 215.6,340.2 216.1,340.2 216.6,340.2 217.1,340.2" stroke="#b44ef0" class="cv"/>
<polyline points="37.1,340.2 37.6,340.2 38.1,340.2 38.6,340.2 39.1,340.2 39.6,340.2 40.1,340.2 40.6,340.2 41.1,340.2 41.6,340.2 42.1,340.2 42.6,340.2 43.1,340.2 43.6,340.2 44.1,340.2 44.6,340.2 45.1,340.2 45.6,340.2 46.1,340.2 46.6,340.2 47.1,340.2 47.6,340.2 48.1,340.2 48.6,340.2 49.1,340.2 49.6,340.2 50.1,340.2 50.6,340.2 51.1,340.2 51.6,340.2 52.1,340.2 52.6,340.2 53.1,340.2 53.6,340.2 54.1,340.2 54.6,340.2 55.1,340.2 55.6,340.2 56.1,340.2 56.6,340.2 57.1,340.2 57.6,340.2 58.1,340.2 58.6,340.2 59.1,340.2 59.6,340.2 60.1,340.2 60.6,340.2 61.1,340.2 61.6,340.2 62.1,340.1 62.6,340.1 63.1,340.1 63.6,340.0 64.1,340.0 64.6,340.0 65.1,339.9 65.6,339.8 66.1,339.8 66.6,339.7 67.1,339.6 67.6,339.4 68.1,339.0 68.6,338.6 69.1,338.1 69.6,337.7 70.1,337.2 70.6,336.8 71.1,336.5 71.6,336.3 72.1,336.2 72.6,336.2 73.1,336.3 73.6,336.4 74.1,336.5 74.6,336.6 75.1,336.8 75.6,336.9 76.1,337.0 76.6,337.1 77.1,337.2 77.6,337.2 78.1,337.3 78.6,337.4 79.1,337.5 79.6,337.6 80.1,337.6 80.6,337.7 81.1,337.7 81.6,337.7 82.1,337.7 82.6,337.7 83.1,337.7 83.6,337.7 84.1,337.7 84.6,337.7 85.1,337.7 85.6,337.7 86.1,337.7 86.6,337.7 87.1,337.7 87.6,337.7 88.1,337.6 88.6,337.6 89.1,337.5 89.6,337.4 90.1,337.3 90.6,337.2 91.1,337.0 91.6,336.9 92.1,336.8 92.6,336.6 93.1,336.4 93.6,336.1 94.1,335.9 94.6,335.6 95.1,335.3 95.6,334.9 96.1,334.6 96.6,334.3 97.1,333.9 97.6,333.5 98.1,333.0 98.6,332.5 99.1,331.9 99.6,331.2 100.1,330.4 100.6,329.4 101.1,328.3 101.6,327.1 102.1,325.8 102.6,324.4 103.1,322.8 103.6,321.1 104.1,318.8 104.6,316.1 105.1,313.2 105.6,310.3 106.1,307.3 106.6,304.2 107.1,300.9 107.6,297.6 108.1,294.4 108.6,291.1 109.1,287.7 109.6,284.3 110.1,280.5 110.6,276.5 111.1,272.7 111.6,269.2 112.1,266.4 112.6,263.9 113.1,261.7 113.6,259.6 114.1,257.6 114.6,255.6 115.1,253.8 115.6,252.0 116.1,250.3 116.6,248.7 117.1,247.1 117.6,245.5 118.1,244.1 118.6,242.7 119.1,241.4 119.6,240.1 120.1,238.8 120.6,237.6 121.1,236.5 121.6,235.5 122.1,234.6 122.6,233.9 123.1,233.2 123.6,232.5 124.1,231.9 124.6,231.4 125.1,230.9 125.6,230.6 126.1,230.4 126.6,230.4 127.1,230.7 127.6,231.0 128.1,231.5 128.6,232.1 129.1,232.8 129.6,233.5 130.1,234.1 130.6,234.8 131.1,235.6 131.6,236.5 132.1,237.5 132.6,238.6 133.1,239.8 133.6,241.1 134.1,242.6 134.6,244.5 135.1,246.6 135.6,248.8 136.1,251.0 136.6,253.2 137.1,255.5 137.6,257.9 138.1,260.3 138.6,262.6 139.1,264.9 139.6,267.0 140.1,269.2 140.6,271.3 141.1,273.4 141.6,275.6 142.1,277.8 142.6,280.0 143.1,282.2 143.6,284.4 144.1,286.5 144.6,288.6 145.1,290.8 145.6,293.0 146.1,295.5 146.6,298.2 147.1,301.0 147.6,303.8 148.1,306.4 148.6,308.6 149.1,310.7 149.6,312.7 150.1,314.6 150.6,316.4 151.1,318.1 151.6,319.6 152.1,321.1 152.6,322.4 153.1,323.8 153.6,325.0 154.1,326.2 154.6,327.3 155.1,328.3 155.6,329.2 156.1,329.9 156.6,330.7 157.1,331.3 157.6,332.0 158.1,332.5 158.6,333.1 159.1,333.6 159.6,334.1 160.1,334.5 160.6,335.0 161.1,335.4 161.6,335.7 162.1,336.0 162.6,336.3 163.1,336.6 163.6,336.9 164.1,337.2 164.6,337.7 165.1,338.3 165.6,338.9 166.1,339.4 166.6,339.6 167.1,339.7 167.6,339.8 168.1,339.8 168.6,339.9 169.1,339.9 169.6,340.0 170.1,340.0 170.6,340.1 171.1,340.1 171.6,340.1 172.1,340.1 172.6,340.2 173.1,340.2 173.6,340.2 174.1,340.2 174.6,340.2 175.1,340.2 175.6,340.2 176.1,340.2 176.6,340.2 177.1,340.2 177.6,340.2 178.1,340.2 178.6,340.2 179.1,340.2 179.6,340.2 180.1,340.2 180.6,340.2 181.1,340.2 181.6,340.2 182.1,340.2 182.6,340.2 183.1,340.2 183.6,340.2 184.1,340.2 184.6,340.2 185.1,340.2 185.6,340.2 186.1,340.2 186.6,340.2 187.1,340.2 187.6,340.2 188.1,340.2 188.6,340.2 189.1,340.2 189.6,340.2 190.1,340.2 190.6,340.2 191.1,340.2 191.6,340.2 192.1,340.2 192.6,340.2 193.1,340.2 193.6,340.2 194.1,340.2 194.6,340.2 195.1,340.2 195.6,340.2 196.1,340.2 196.6,340.2 197.1,340.2 197.6,340.2 198.1,340.2 198.6,340.2 199.1,340.2 199.6,340.2 200.1,340.2 200.6,340.2 201.1,340.2 201.6,340.2 202.1,340.2 202.6,340.2 203.1,340.2 203.6,340.2 204.1,340.2 204.6,340.2 205.1,340.2 205.6,340.2 206.1,340.2 206.6,340.2 207.1,340.2 207.6,340.2 208.1,340.2 208.6,340.2 209.1,340.2 209.6,340.2 210.1,340.2 210.6,340.2 211.1,340.2 211.6,340.2 212.1,340.2 212.6,340.2 213.1,340.2 213.6,340.2 214.1,340.2 214.6,340.2 215.1,340.2 215.6,340.2 216.1,340.2 216.6,340.2 217.1,340.2" stroke="#3fb88f" class="cv"/>
<polyline points="37.1,340.2 37.6,340.2 38.1,340.2 38.6,340.2 39.1,340.2 39.6,340.2 40.1,340.2 40.6,340.2 41.1,340.2 41.6,340.2 42.1,340.2 42.6,340.2 43.1,340.2 43.6,340.2 44.1,340.2 44.6,340.2 45.1,340.2 45.6,340.2 46.1,340.2 46.6,340.2 47.1,340.2 47.6,340.2 48.1,340.2 48.6,340.2 49.1,340.2 49.6,340.2 50.1,340.2 50.6,340.2 51.1,340.2 51.6,340.2 52.1,340.2 52.6,340.2 53.1,340.2 53.6,340.2 54.1,340.2 54.6,340.2 55.1,340.2 55.6,340.2 56.1,340.2 56.6,340.2 57.1,340.2 57.6,340.2 58.1,340.2 58.6,340.2 59.1,340.2 59.6,340.2 60.1,340.2 60.6,340.2 61.1,340.2 61.6,340.2 62.1,340.2 62.6,340.2 63.1,340.2 63.6,340.2 64.1,340.2 64.6,340.2 65.1,340.2 65.6,340.2 66.1,340.2 66.6,340.2 67.1,340.2 67.6,340.2 68.1,340.2 68.6,340.2 69.1,340.2 69.6,340.2 70.1,340.2 70.6,340.2 71.1,340.2 71.6,340.2 72.1,340.1 72.6,340.1 73.1,340.1 73.6,340.0 74.1,340.0 74.6,339.9 75.1,339.8 75.6,339.8 76.1,339.7 76.6,339.6 77.1,339.5 77.6,339.4 78.1,339.3 78.6,339.2 79.1,339.0 79.6,338.7 80.1,338.1 80.6,337.5 81.1,336.7 81.6,335.8 82.1,335.0 82.6,334.2 83.1,333.5 83.6,332.8 84.1,332.1 84.6,331.4 85.1,330.7 85.6,330.0 86.1,329.3 86.6,328.7 87.1,328.1 87.6,327.6 88.1,327.1 88.6,326.6 89.1,326.1 89.6,325.7 90.1,325.2 90.6,324.8 91.1,324.3 91.6,323.8 92.1,323.2 92.6,322.6 93.1,322.0 93.6,321.4 94.1,320.7 94.6,320.0 95.1,319.2 95.6,318.4 96.1,317.4 96.6,316.3 97.1,314.7 97.6,312.6 98.1,310.4 98.6,308.3 99.1,306.4 99.6,304.6 100.1,302.9 100.6,301.2 101.1,299.6 101.6,297.9 102.1,296.3 102.6,294.6 103.1,293.0 103.6,291.3 104.1,289.7 104.6,288.1 105.1,286.5 105.6,285.1 106.1,283.7 106.6,282.5 107.1,281.4 107.6,280.3 108.1,279.2 108.6,278.2 109.1,277.1 109.6,276.0 110.1,274.8 110.6,273.6 111.1,272.4 111.6,271.2 112.1,270.0 112.6,268.8 113.1,267.7 113.6,266.7 114.1,265.8 114.6,265.0 115.1,264.2 115.6,263.4 116.1,262.7 116.6,262.0 117.1,261.4 117.6,260.9 118.1,260.4 118.6,260.0 119.1,259.6 119.6,259.3 120.1,258.9 120.6,258.6 121.1,258.4 121.6,258.1 122.1,257.9 122.6,257.6 123.1,257.4 123.6,257.3 124.1,257.1 124.6,256.9 125.1,256.7 125.6,256.6 126.1,256.4 126.6,256.2 127.1,256.0 127.6,255.8 128.1,255.6 128.6,255.4 129.1,255.1 129.6,254.9 130.1,254.7 130.6,254.6 131.1,254.5 131.6,254.5 132.1,254.8 132.6,255.2 133.1,255.8 133.6,256.4 134.1,257.2 134.6,258.2 135.1,259.4 135.6,260.9 136.1,262.3 136.6,263.7 137.1,265.1 137.6,266.5 138.1,267.9 138.6,269.3 139.1,270.8 139.6,272.2 140.1,273.5 140.6,274.8 141.1,276.1 141.6,277.3 142.1,278.5 142.6,279.7 143.1,280.7 143.6,281.6 144.1,282.4 144.6,283.2 145.1,284.0 145.6,284.8 146.1,285.6 146.6,286.6 147.1,287.6 147.6,288.7 148.1,289.8 148.6,290.9 149.1,292.2 149.6,293.5 150.1,294.9 150.6,296.5 151.1,298.2 151.6,299.9 152.1,301.7 152.6,303.4 153.1,305.1 153.6,306.8 154.1,308.5 154.6,310.2 155.1,311.9 155.6,313.6 156.1,315.1 156.6,316.6 157.1,318.0 157.6,319.4 158.1,320.8 158.6,322.1 159.1,323.3 159.6,324.5 160.1,325.7 160.6,326.7 161.1,327.7 161.6,328.6 162.1,329.5 162.6,330.3 163.1,331.1 163.6,331.9 164.1,332.6 164.6,333.2 165.1,333.8 165.6,334.3 166.1,334.7 166.6,335.1 167.1,335.4 167.6,335.7 168.1,336.1 168.6,336.4 169.1,336.7 169.6,337.1 170.1,337.4 170.6,337.6 171.1,337.8 171.6,337.9 172.1,338.0 172.6,338.1 173.1,338.2 173.6,338.2 174.1,338.2 174.6,338.3 175.1,338.3 175.6,338.4 176.1,338.4 176.6,338.4 177.1,338.5 177.6,338.6 178.1,338.7 178.6,338.8 179.1,338.9 179.6,339.0 180.1,339.2 180.6,339.3 181.1,339.5 181.6,339.6 182.1,339.7 182.6,339.7 183.1,339.8 183.6,339.8 184.1,339.9 184.6,339.9 185.1,340.0 185.6,340.0 186.1,340.1 186.6,340.1 187.1,340.1 187.6,340.1 188.1,340.2 188.6,340.2 189.1,340.2 189.6,340.2 190.1,340.2 190.6,340.2 191.1,340.2 191.6,340.2 192.1,340.2 192.6,340.2 193.1,340.2 193.6,340.2 194.1,340.2 194.6,340.2 195.1,340.2 195.6,340.2 196.1,340.2 196.6,340.2 197.1,340.2 197.6,340.2 198.1,340.2 198.6,340.2 199.1,340.2 199.6,340.2 200.1,340.2 200.6,340.2 201.1,340.2 201.6,340.2 202.1,340.2 202.6,340.2 203.1,340.2 203.6,340.2 204.1,340.2 204.6,340.2 205.1,340.2 205.6,340.2 206.1,340.2 206.6,340.2 207.1,340.2 207.6,340.2 208.1,340.2 208.6,340.2 209.1,340.2 209.6,340.2 210.1,340.2 210.6,340.2 211.1,340.2 211.6,340.2 212.1,340.2 212.6,340.2 213.1,340.2 213.6,340.2 214.1,340.2 214.6,340.2 215.1,340.2 215.6,340.2 216.1,340.2 216.6,340.2 217.1,340.2" stroke="#7cc8f0" class="cv"/>
<polyline points="37.1,340.2 37.6,340.2 38.1,340.2 38.6,340.2 39.1,340.2 39.6,340.2 40.1,340.2 40.6,340.2 41.1,340.2 41.6,340.2 42.1,340.2 42.6,340.2 43.1,340.2 43.6,340.2 44.1,340.2 44.6,340.2 45.1,340.2 45.6,340.2 46.1,340.2 46.6,340.2 47.1,340.2 47.6,340.2 48.1,340.2 48.6,340.2 49.1,340.2 49.6,340.2 50.1,340.2 50.6,340.2 51.1,340.2 51.6,340.2 52.1,340.2 52.6,340.2 53.1,340.1 53.6,340.1 54.1,340.1 54.6,340.1 55.1,340.0 55.6,340.0 56.1,340.0 56.6,339.9 57.1,339.9 57.6,339.8 58.1,339.8 58.6,339.8 59.1,339.7 59.6,339.6 60.1,339.6 60.6,339.5 61.1,339.4 61.6,339.2 62.1,339.0 62.6,338.7 63.1,338.5 63.6,338.2 64.1,338.0 64.6,337.7 65.1,337.4 65.6,337.2 66.1,336.9 66.6,336.6 67.1,336.2 67.6,335.9 68.1,335.5 68.6,335.2 69.1,334.8 69.6,334.5 70.1,334.2 70.6,333.9 71.1,333.7 71.6,333.5 72.1,333.3 72.6,333.2 73.1,333.0 73.6,332.9 74.1,332.8 74.6,332.7 75.1,332.6 75.6,332.4 76.1,332.3 76.6,332.2 77.1,332.0 77.6,331.8 78.1,331.5 78.6,331.2 79.1,330.8 79.6,330.3 80.1,329.7 80.6,329.1 81.1,328.5 81.6,327.8 82.1,327.2 82.6,326.5 83.1,325.9 83.6,325.4 84.1,324.9 84.6,324.4 85.1,324.0 85.6,323.6 86.1,323.2 86.6,322.7 87.1,322.2 87.6,321.7 88.1,321.2 88.6,320.5 89.1,319.8 89.6,318.9 90.1,317.8 90.6,316.5 91.1,315.2 91.6,313.8 92.1,312.5 92.6,311.3 93.1,310.0 93.6,308.6 94.1,307.3 94.6,306.0 95.1,304.8 95.6,303.7 96.1,302.6 96.6,301.7 97.1,300.7 97.6,299.8 98.1,298.9 98.6,298.1 99.1,297.2 99.6,296.4 100.1,295.5 100.6,294.7 101.1,293.8 101.6,293.0 102.1,292.1 102.6,291.2 103.1,290.3 103.6,289.5 104.1,288.6 104.6,287.8 105.1,286.9 105.6,286.1 106.1,285.4 106.6,284.6 107.1,283.9 107.6,283.2 108.1,282.5 108.6,281.8 109.1,281.1 109.6,280.5 110.1,279.8 110.6,279.2 111.1,278.7 111.6,278.1 112.1,277.6 112.6,277.2 113.1,276.8 113.6,276.4 114.1,276.1 114.6,275.7 115.1,275.4 115.6,275.1 116.1,274.8 116.6,274.5 117.1,274.2 117.6,273.9 118.1,273.7 118.6,273.4 119.1,273.2 119.6,272.9 120.1,272.7 120.6,272.5 121.1,272.2 121.6,272.0 122.1,271.8 122.6,271.5 123.1,271.3 123.6,271.1 124.1,271.0 124.6,270.8 125.1,270.7 125.6,270.6 126.1,270.6 126.6,270.5 127.1,270.4 127.6,270.4 128.1,270.4 128.6,270.3 129.1,270.3 129.6,270.3 130.1,270.2 130.6,270.2 131.1,270.2 131.6,270.2 132.1,270.2 132.6,270.2 133.1,270.2 133.6,270.3 134.1,270.3 134.6,270.4 135.1,270.5 135.6,270.5 136.1,270.6 136.6,270.9 137.1,271.5 137.6,272.2 138.1,273.1 138.6,273.9 139.1,274.6 139.6,275.3 140.1,276.1 140.6,276.9 141.1,277.7 141.6,278.4 142.1,279.1 142.6,279.8 143.1,280.4 143.6,281.0 144.1,281.5 144.6,282.1 145.1,282.6 145.6,283.2 146.1,283.8 146.6,284.5 147.1,285.2 147.6,285.9 148.1,286.8 148.6,287.7 149.1,288.6 149.6,289.7 150.1,290.7 150.6,291.8 151.1,292.9 151.6,294.0 152.1,295.0 152.6,296.1 153.1,297.2 153.6,298.3 154.1,299.4 154.6,300.5 155.1,301.7 155.6,302.9 156.1,304.1 156.6,305.3 157.1,306.6 157.6,308.1 158.1,309.5 158.6,310.9 159.1,312.2 159.6,313.4 160.1,314.4 160.6,315.3 161.1,316.1 161.6,316.8 162.1,317.6 162.6,318.3 163.1,318.9 163.6,319.6 164.1,320.2 164.6,320.9 165.1,321.5 165.6,322.1 166.1,322.7 166.6,323.2 167.1,323.8 167.6,324.4 168.1,325.0 168.6,325.7 169.1,326.4 169.6,327.1 170.1,327.7 170.6,328.4 171.1,329.0 171.6,329.6 172.1,330.1 172.6,330.6 173.1,331.0 173.6,331.5 174.1,332.0 174.6,332.6 175.1,333.2 175.6,334.1 176.1,335.0 176.6,336.0 177.1,337.0 177.6,337.8 178.1,338.4 178.6,338.9 179.1,339.3 179.6,339.7 180.1,339.9 180.6,340.0 181.1,340.0 181.6,340.1 182.1,340.1 182.6,340.1 183.1,340.1 183.6,340.1 184.1,340.1 184.6,340.1 185.1,340.2 185.6,340.2 186.1,340.2 186.6,340.2 187.1,340.2 187.6,340.2 188.1,340.2 188.6,340.2 189.1,340.2 189.6,340.2 190.1,340.2 190.6,340.2 191.1,340.2 191.6,340.2 192.1,340.2 192.6,340.2 193.1,340.2 193.6,340.2 194.1,340.2 194.6,340.2 195.1,340.2 195.6,340.2 196.1,340.2 196.6,340.2 197.1,340.2 197.6,340.2 198.1,340.2 198.6,340.2 199.1,340.2 199.6,340.2 200.1,340.2 200.6,340.2 201.1,340.2 201.6,340.2 202.1,340.2 202.6,340.2 203.1,340.2 203.6,340.2 204.1,340.2 204.6,340.2 205.1,340.2 205.6,340.2 206.1,340.2 206.6,340.2 207.1,340.2 207.6,340.2 208.1,340.2 208.6,340.2 209.1,340.2 209.6,340.2 210.1,340.2 210.6,340.2 211.1,340.2 211.6,340.2 212.1,340.2 212.6,340.2 213.1,340.2 213.6,340.2 214.1,340.2 214.6,340.2 215.1,340.2 215.6,340.2 216.1,340.2 216.6,340.2 217.1,340.2" stroke="#eeb23c" class="cv"/>
<polyline points="37.1,340.2 37.6,340.2 38.1,340.2 38.6,340.2 39.1,340.2 39.6,340.2 40.1,340.2 40.6,340.1 41.1,340.1 41.6,340.0 42.1,340.0 42.6,339.9 43.1,339.8 43.6,339.8 44.1,339.7 44.6,339.7 45.1,339.6 45.6,339.6 46.1,339.5 46.6,339.5 47.1,339.4 47.6,339.4 48.1,339.3 48.6,339.3 49.1,339.2 49.6,339.2 50.1,339.1 50.6,339.1 51.1,339.0 51.6,339.0 52.1,339.0 52.6,338.9 53.1,338.9 53.6,338.9 54.1,338.8 54.6,338.8 55.1,338.8 55.6,338.7 56.1,338.7 56.6,338.7 57.1,338.6 57.6,338.5 58.1,338.5 58.6,338.4 59.1,338.3 59.6,338.2 60.1,338.1 60.6,338.0 61.1,337.9 61.6,337.8 62.1,337.6 62.6,337.5 63.1,337.3 63.6,337.1 64.1,337.0 64.6,336.7 65.1,336.4 65.6,336.0 66.1,335.7 66.6,335.3 67.1,335.0 67.6,334.8 68.1,334.6 68.6,334.4 69.1,334.3 69.6,334.1 70.1,333.9 70.6,333.8 71.1,333.6 71.6,333.4 72.1,333.2 72.6,333.0 73.1,332.8 73.6,332.5 74.1,332.2 74.6,331.9 75.1,331.6 75.6,331.3 76.1,331.0 76.6,330.6 77.1,330.3 77.6,329.9 78.1,329.5 78.6,329.1 79.1,328.7 79.6,328.2 80.1,327.7 80.6,327.2 81.1,326.6 81.6,326.1 82.1,325.6 82.6,325.0 83.1,324.5 83.6,324.0 84.1,323.5 84.6,323.1 85.1,322.7 85.6,322.3 86.1,321.9 86.6,321.5 87.1,321.0 87.6,320.4 88.1,319.8 88.6,319.1 89.1,318.2 89.6,316.8 90.1,315.1 90.6,313.4 91.1,312.0 91.6,311.0 92.1,310.0 92.6,309.2 93.1,308.4 93.6,307.6 94.1,306.7 94.6,305.8 95.1,304.8 95.6,303.7 96.1,302.7 96.6,301.6 97.1,300.6 97.6,299.6 98.1,298.7 98.6,297.8 99.1,296.9 99.6,296.0 100.1,295.1 100.6,294.3 101.1,293.5 101.6,292.7 102.1,292.0 102.6,291.4 103.1,290.8 103.6,290.3 104.1,289.9 104.6,289.4 105.1,289.0 105.6,288.7 106.1,288.3 106.6,288.0 107.1,287.7 107.6,287.4 108.1,287.0 108.6,286.7 109.1,286.4 109.6,286.0 110.1,285.6 110.6,285.2 111.1,284.8 111.6,284.5 112.1,284.1 112.6,283.7 113.1,283.3 113.6,282.9 114.1,282.5 114.6,282.1 115.1,281.7 115.6,281.3 116.1,280.8 116.6,280.4 117.1,280.0 117.6,279.6 118.1,279.2 118.6,278.7 119.1,278.3 119.6,277.9 120.1,277.4 120.6,277.0 121.1,276.5 121.6,276.1 122.1,275.6 122.6,275.2 123.1,274.7 123.6,274.1 124.1,273.5 124.6,272.9 125.1,272.4 125.6,272.0 126.1,271.7 126.6,271.6 127.1,271.8 127.6,272.2 128.1,272.7 128.6,273.3 129.1,274.0 129.6,274.5 130.1,275.0 130.6,275.4 131.1,275.7 131.6,276.1 132.1,276.4 132.6,276.8 133.1,277.1 133.6,277.4 134.1,277.7 134.6,278.0 135.1,278.2 135.6,278.5 136.1,278.7 136.6,278.9 137.1,279.2 137.6,279.4 138.1,279.6 138.6,279.9 139.1,280.2 139.6,280.6 140.1,281.0 140.6,281.4 141.1,281.9 141.6,282.3 142.1,282.8 142.6,283.2 143.1,283.6 143.6,283.9 144.1,284.3 144.6,284.6 145.1,284.9 145.6,285.2 146.1,285.6 146.6,285.9 147.1,286.3 147.6,286.7 148.1,287.1 148.6,287.6 149.1,288.2 149.6,288.9 150.1,289.6 150.6,290.4 151.1,291.3 151.6,292.2 152.1,293.0 152.6,293.9 153.1,294.8 153.6,295.6 154.1,296.4 154.6,297.3 155.1,298.2 155.6,299.0 156.1,299.9 156.6,300.8 157.1,301.8 157.6,302.7 158.1,303.7 158.6,304.7 159.1,305.8 159.6,306.9 160.1,307.9 160.6,309.0 161.1,309.9 161.6,310.8 162.1,311.7 162.6,312.4 163.1,313.1 163.6,313.7 164.1,314.3 164.6,314.9 165.1,315.5 165.6,316.1 166.1,316.7 166.6,317.3 167.1,318.0 167.6,318.7 168.1,319.4 168.6,320.2 169.1,320.9 169.6,321.6 170.1,322.4 170.6,323.1 171.1,323.9 171.6,324.6 172.1,325.4 172.6,326.2 173.1,326.9 173.6,327.7 174.1,328.4 174.6,329.2 175.1,330.0 175.6,330.8 176.1,331.5 176.6,332.2 177.1,332.9 177.6,333.7 178.1,334.5 178.6,335.2 179.1,336.0 179.6,336.6 180.1,337.1 180.6,337.4 181.1,337.7 181.6,338.0 182.1,338.2 182.6,338.5 183.1,338.7 183.6,338.8 184.1,338.9 184.6,339.0 185.1,339.0 185.6,339.0 186.1,338.9 186.6,338.8 187.1,338.7 187.6,338.6 188.1,338.5 188.6,338.5 189.1,338.4 189.6,338.4 190.1,338.5 190.6,338.6 191.1,338.7 191.6,338.9 192.1,339.1 192.6,339.2 193.1,339.4 193.6,339.5 194.1,339.6 194.6,339.7 195.1,339.8 195.6,339.8 196.1,339.9 196.6,340.0 197.1,340.0 197.6,340.1 198.1,340.1 198.6,340.1 199.1,340.2 199.6,340.2 200.1,340.2 200.6,340.2 201.1,340.2 201.6,340.2 202.1,340.2 202.6,340.2 203.1,340.2 203.6,340.2 204.1,340.2 204.6,340.2 205.1,340.2 205.6,340.2 206.1,340.2 206.6,340.2 207.1,340.2 207.6,340.2 208.1,340.2 208.6,340.2 209.1,340.2 209.6,340.2 210.1,340.2 210.6,340.2 211.1,340.2 211.6,340.2 212.1,340.2 212.6,340.2 213.1,340.2 213.6,340.2 214.1,340.2 214.6,340.2 215.1,340.2 215.6,340.2 216.1,340.2 216.6,340.2 217.1,340.2" stroke="#f2e46a" class="cv"/>
<polyline points="37.1,337.7 37.6,338.0 38.1,338.4 38.6,338.7 39.1,338.9 39.6,339.2 40.1,339.3 40.6,339.5 41.1,339.5 41.6,339.5 42.1,339.5 42.6,339.5 43.1,339.5 43.6,339.4 44.1,339.4 44.6,339.4 45.1,339.4 45.6,339.3 46.1,339.3 46.6,339.2 47.1,339.1 47.6,338.9 48.1,338.8 48.6,338.5 49.1,338.3 49.6,338.1 50.1,337.9 50.6,337.7 51.1,337.5 51.6,337.3 52.1,337.0 52.6,336.8 53.1,336.6 53.6,336.3 54.1,336.1 54.6,335.8 55.1,335.6 55.6,335.4 56.1,335.3 56.6,335.1 57.1,335.0 57.6,335.0 58.1,334.9 58.6,334.9 59.1,334.8 59.6,334.8 60.1,334.7 60.6,334.7 61.1,334.7 61.6,334.7 62.1,334.8 62.6,334.9 63.1,335.0 63.6,335.2 64.1,335.3 64.6,335.4 65.1,335.5 65.6,335.5 66.1,335.3 66.6,334.8 67.1,334.2 67.6,333.6 68.1,332.8 68.6,332.1 69.1,331.4 69.6,330.8 70.1,330.1 70.6,329.5 71.1,328.9 71.6,328.2 72.1,327.6 72.6,326.9 73.1,326.3 73.6,325.6 74.1,325.0 74.6,324.4 75.1,323.9 75.6,323.3 76.1,322.8 76.6,322.3 77.1,321.8 77.6,321.3 78.1,320.8 78.6,320.4 79.1,319.9 79.6,319.4 80.1,318.9 80.6,318.4 81.1,317.9 81.6,317.4 82.1,316.8 82.6,316.3 83.1,315.8 83.6,315.3 84.1,314.8 84.6,314.3 85.1,313.8 85.6,313.4 86.1,313.0 86.6,312.6 87.1,312.2 87.6,311.8 88.1,311.5 88.6,311.1 89.1,310.8 89.6,310.4 90.1,310.1 90.6,309.7 91.1,309.3 91.6,308.9 92.1,308.5 92.6,308.1 93.1,307.6 93.6,307.1 94.1,306.6 94.6,306.1 95.1,305.5 95.6,305.0 96.1,304.5 96.6,304.0 97.1,303.5 97.6,303.0 98.1,302.5 98.6,302.0 99.1,301.5 99.6,301.0 100.1,300.6 100.6,300.1 101.1,299.6 101.6,299.1 102.1,298.6 102.6,298.1 103.1,297.6 103.6,297.1 104.1,296.6 104.6,296.1 105.1,295.6 105.6,295.2 106.1,294.7 106.6,294.2 107.1,293.7 107.6,293.2 108.1,292.7 108.6,292.1 109.1,291.6 109.6,291.0 110.1,290.4 110.6,289.8 111.1,289.1 111.6,288.5 112.1,287.8 112.6,287.2 113.1,286.6 113.6,286.0 114.1,285.4 114.6,284.9 115.1,284.4 115.6,284.0 116.1,283.5 116.6,283.1 117.1,282.7 117.6,282.3 118.1,281.9 118.6,281.5 119.1,281.1 119.6,280.7 120.1,280.3 120.6,279.9 121.1,279.5 121.6,279.2 122.1,278.8 122.6,278.4 123.1,278.0 123.6,277.7 124.1,277.3 124.6,277.0 125.1,276.6 125.6,276.3 126.1,275.9 126.6,275.5 127.1,275.2 127.6,274.8 128.1,274.5 128.6,274.2 129.1,274.0 129.6,273.8 130.1,273.6 130.6,273.5 131.1,273.3 131.6,273.2 132.1,273.1 132.6,273.0 133.1,272.9 133.6,272.8 134.1,272.8 134.6,272.8 135.1,272.9 135.6,273.0 136.1,273.2 136.6,273.5 137.1,273.8 137.6,274.1 138.1,274.4 138.6,274.8 139.1,275.1 139.6,275.6 140.1,276.1 140.6,276.6 141.1,277.2 141.6,277.9 142.1,278.5 142.6,279.2 143.1,279.9 143.6,280.6 144.1,281.2 144.6,281.9 145.1,282.6 145.6,283.3 146.1,284.0 146.6,284.7 147.1,285.4 147.6,286.1 148.1,286.9 148.6,287.6 149.1,288.3 149.6,289.0 150.1,289.7 150.6,290.4 151.1,291.0 151.6,291.7 152.1,292.4 152.6,293.0 153.1,293.7 153.6,294.4 154.1,295.1 154.6,295.8 155.1,296.6 155.6,297.4 156.1,298.2 156.6,299.1 157.1,300.0 157.6,300.9 158.1,301.8 158.6,302.7 159.1,303.6 159.6,304.5 160.1,305.3 160.6,306.0 161.1,306.8 161.6,307.5 162.1,308.2 162.6,308.9 163.1,309.6 163.6,310.4 164.1,311.2 164.6,312.0 165.1,312.9 165.6,313.8 166.1,314.8 166.6,315.7 167.1,316.6 167.6,317.5 168.1,318.4 168.6,319.2 169.1,320.0 169.6,320.9 170.1,321.7 170.6,322.5 171.1,323.2 171.6,323.9 172.1,324.5 172.6,325.0 173.1,325.5 173.6,326.0 174.1,326.4 174.6,326.6 175.1,326.6 175.6,326.6 176.1,326.5 176.6,326.4 177.1,326.4 177.6,326.3 178.1,326.3 178.6,326.4 179.1,326.7 179.6,327.1 180.1,327.5 180.6,328.1 181.1,328.5 181.6,329.0 182.1,329.4 182.6,329.8 183.1,330.3 183.6,330.7 184.1,331.2 184.6,331.6 185.1,332.0 185.6,332.5 186.1,332.9 186.6,333.3 187.1,333.7 187.6,334.2 188.1,334.6 188.6,335.0 189.1,335.4 189.6,335.7 190.1,336.0 190.6,336.2 191.1,336.4 191.6,336.5 192.1,336.6 192.6,336.7 193.1,336.8 193.6,336.9 194.1,337.0 194.6,337.2 195.1,337.3 195.6,337.8 196.1,338.4 196.6,339.0 197.1,339.4 197.6,339.4 198.1,339.4 198.6,339.5 199.1,339.5 199.6,339.5 200.1,339.5 200.6,339.5 201.1,339.5 201.6,339.4 202.1,339.3 202.6,339.2 203.1,339.0 203.6,338.8 204.1,338.6 204.6,338.5 205.1,338.4 205.6,338.4 206.1,338.4 206.6,338.4 207.1,338.3 207.6,338.3 208.1,338.3 208.6,338.3 209.1,338.3 209.6,338.3 210.1,338.3 210.6,338.3 211.1,338.3 211.6,338.3 212.1,338.4 212.6,338.4 213.1,338.4 213.6,338.5 214.1,338.5 214.6,338.6 215.1,338.7 215.6,338.9 216.1,339.0 216.6,339.2 217.1,339.5" stroke="#2e86c8" class="cv"/>
<polyline points="37.1,339.7 37.6,339.6 38.1,339.6 38.6,339.5 39.1,339.3 39.6,339.2 40.1,339.1 40.6,339.0 41.1,338.8 41.6,338.7 42.1,338.5 42.6,338.3 43.1,338.1 43.6,337.8 44.1,337.5 44.6,337.2 45.1,336.8 45.6,336.5 46.1,336.2 46.6,336.0 47.1,335.8 47.6,335.7 48.1,335.7 48.6,335.7 49.1,335.8 49.6,335.9 50.1,336.0 50.6,336.1 51.1,336.2 51.6,336.3 52.1,336.5 52.6,336.7 53.1,336.9 53.6,337.2 54.1,337.5 54.6,337.8 55.1,338.0 55.6,338.2 56.1,338.2 56.6,338.1 57.1,337.9 57.6,337.7 58.1,337.5 58.6,337.2 59.1,336.9 59.6,336.6 60.1,336.4 60.6,336.1 61.1,335.9 61.6,335.7 62.1,335.4 62.6,335.2 63.1,335.0 63.6,334.7 64.1,334.4 64.6,334.1 65.1,333.8 65.6,333.5 66.1,333.1 66.6,332.6 67.1,332.1 67.6,331.6 68.1,331.0 68.6,330.5 69.1,329.9 69.6,329.4 70.1,328.8 70.6,328.2 71.1,327.6 71.6,327.0 72.1,326.4 72.6,325.9 73.1,325.3 73.6,324.8 74.1,324.3 74.6,323.9 75.1,323.5 75.6,323.1 76.1,322.7 76.6,322.3 77.1,321.9 77.6,321.4 78.1,320.9 78.6,320.3 79.1,319.6 79.6,318.9 80.1,318.3 80.6,317.6 81.1,316.9 81.6,316.3 82.1,315.6 82.6,315.1 83.1,314.6 83.6,314.1 84.1,313.7 84.6,313.2 85.1,312.8 85.6,312.4 86.1,312.0 86.6,311.7 87.1,311.3 87.6,311.1 88.1,310.8 88.6,310.6 89.1,310.5 89.6,310.4 90.1,310.3 90.6,310.2 91.1,310.1 91.6,309.9 92.1,309.8 92.6,309.5 93.1,309.3 93.6,308.9 94.1,308.5 94.6,308.1 95.1,307.7 95.6,307.2 96.1,306.7 96.6,306.2 97.1,305.7 97.6,305.2 98.1,304.8 98.6,304.3 99.1,303.8 99.6,303.4 100.1,302.9 100.6,302.4 101.1,301.9 101.6,301.4 102.1,300.9 102.6,300.4 103.1,299.8 103.6,299.3 104.1,298.8 104.6,298.3 105.1,297.8 105.6,297.3 106.1,296.8 106.6,296.3 107.1,295.8 107.6,295.3 108.1,294.8 108.6,294.3 109.1,293.8 109.6,293.3 110.1,292.8 110.6,292.3 111.1,291.8 111.6,291.3 112.1,290.8 112.6,290.3 113.1,289.8 113.6,289.2 114.1,288.7 114.6,288.1 115.1,287.6 115.6,287.0 116.1,286.5 116.6,286.0 117.1,285.5 117.6,285.1 118.1,284.7 118.6,284.4 119.1,284.0 119.6,283.7 120.1,283.3 120.6,283.0 121.1,282.7 121.6,282.4 122.1,282.2 122.6,282.0 123.1,281.8 123.6,281.7 124.1,281.6 124.6,281.6 125.1,281.6 125.6,281.7 126.1,281.7 126.6,281.8 127.1,281.9 127.6,281.9 128.1,281.9 128.6,281.7 129.1,281.4 129.6,281.0 130.1,280.5 130.6,280.0 131.1,279.6 131.6,279.2 132.1,279.0 132.6,279.0 133.1,279.1 133.6,279.2 134.1,279.4 134.6,279.5 135.1,279.7 135.6,279.9 136.1,280.1 136.6,280.3 137.1,280.6 137.6,280.8 138.1,281.1 138.6,281.4 139.1,281.7 139.6,281.9 140.1,282.2 140.6,282.4 141.1,282.6 141.6,282.7 142.1,282.9 142.6,283.0 143.1,283.2 143.6,283.4 144.1,283.7 144.6,284.0 145.1,284.4 145.6,285.0 146.1,285.6 146.6,286.2 147.1,286.9 147.6,287.6 148.1,288.2 148.6,288.9 149.1,289.5 149.6,290.1 150.1,290.6 150.6,291.1 151.1,291.6 151.6,292.1 152.1,292.6 152.6,293.0 153.1,293.5 153.6,294.0 154.1,294.5 154.6,295.0 155.1,295.6 155.6,296.2 156.1,296.8 156.6,297.4 157.1,298.1 157.6,298.8 158.1,299.5 158.6,300.3 159.1,301.2 159.6,302.2 160.1,303.2 160.6,304.3 161.1,305.4 161.6,306.3 162.1,307.2 162.6,307.9 163.1,308.6 163.6,309.2 164.1,309.9 164.6,310.5 165.1,311.1 165.6,311.8 166.1,312.4 166.6,313.1 167.1,313.7 167.6,314.3 168.1,314.9 168.6,315.5 169.1,316.0 169.6,316.5 170.1,317.0 170.6,317.5 171.1,317.9 171.6,318.4 172.1,318.9 172.6,319.4 173.1,319.9 173.6,320.4 174.1,320.9 174.6,321.4 175.1,321.9 175.6,322.4 176.1,322.9 176.6,323.4 177.1,323.9 177.6,324.5 178.1,325.1 178.6,325.8 179.1,326.4 179.6,327.1 180.1,327.7 180.6,328.2 181.1,328.6 181.6,329.0 182.1,329.2 182.6,329.4 183.1,329.5 183.6,329.7 184.1,329.8 184.6,329.9 185.1,330.1 185.6,330.3 186.1,330.6 186.6,330.9 187.1,331.4 187.6,332.0 188.1,332.7 188.6,333.3 189.1,333.9 189.6,334.4 190.1,334.8 190.6,335.0 191.1,335.2 191.6,335.3 192.1,335.4 192.6,335.5 193.1,335.6 193.6,335.6 194.1,335.6 194.6,335.5 195.1,335.3 195.6,335.1 196.1,334.8 196.6,334.6 197.1,334.5 197.6,334.5 198.1,334.7 198.6,335.0 199.1,335.4 199.6,335.8 200.1,336.2 200.6,336.6 201.1,337.0 201.6,337.5 202.1,338.0 202.6,338.6 203.1,339.0 203.6,339.3 204.1,339.5 204.6,339.6 205.1,339.7 205.6,339.8 206.1,339.9 206.6,340.0 207.1,340.0 207.6,340.1 208.1,340.1 208.6,340.2 209.1,340.2 209.6,340.2 210.1,340.2 210.6,340.2 211.1,340.2 211.6,340.2 212.1,340.2 212.6,340.2 213.1,340.2 213.6,340.2 214.1,340.2 214.6,340.2 215.1,340.2 215.6,340.2 216.1,340.2 216.6,340.2 217.1,340.2" stroke="#ee4a3a" class="cv"/>
</g>
<rect x="37.1" y="191.0" width="180.3" height="149.6" class="fr"/>
<line x1="188.1" y1="201.70" x2="208.1" y2="201.70" stroke="#c77cf0" class="lg"/>
<text y="205.00" class="lt"><tspan x="149.00" class="it">t</tspan><tspan x="152.80" class="dj">/</tspan><tspan x="157.10" class="dj it">τ</tspan><tspan x="164.30" class="dj" style="font-size:9.4px">=</tspan><tspan x="174.30">1</tspan></text>
<line x1="188.1" y1="212.68" x2="208.1" y2="212.68" stroke="#7dcdaf" class="lg"/>
<text x="179.10" y="215.98" class="lt" text-anchor="end">2</text>
<line x1="188.1" y1="223.66" x2="208.1" y2="223.66" stroke="#a6daf5" class="lg"/>
<text x="179.10" y="226.96" class="lt" text-anchor="end">3</text>
<line x1="188.1" y1="234.64" x2="208.1" y2="234.64" stroke="#f2c872" class="lg"/>
<text x="179.10" y="237.94" class="lt" text-anchor="end">4</text>
<line x1="188.1" y1="245.62" x2="208.1" y2="245.62" stroke="#f5ec9a" class="lg"/>
<text x="179.10" y="248.92" class="lt" text-anchor="end">5</text>
<line x1="188.1" y1="256.60" x2="208.1" y2="256.60" stroke="#6aaad8" class="lg"/>
<text x="179.10" y="259.90" class="lt" text-anchor="end">6</text>
<line x1="188.1" y1="267.58" x2="208.1" y2="267.58" stroke="#f27a6a" class="lg"/>
<text x="179.10" y="270.88" class="lt" text-anchor="end">7</text>
<text x="48.1" y="211.30" class="pl">(c)</text>
<text x="47.7" y="228.80" class="st">St = 0.5</text>
<text class="ax"><tspan x="94.85" y="362.20">(</tspan><tspan x="98.45" y="362.20" class="it">x</tspan><tspan x="104.25" y="365.10" class="sb">3</tspan><tspan x="111.95" y="362.20">−</tspan><tspan x="122.45" y="362.20" class="it">L</tspan><tspan x="129.45" y="365.10" class="sb">3</tspan><tspan x="132.85" y="363.10" class="sl">/</tspan><tspan x="137.55" y="362.20">2</tspan><tspan x="142.15" y="362.20">)</tspan><tspan x="146.55" y="363.10" class="sl">/</tspan><tspan x="151.45" y="362.20" class="it">ℓ</tspan></text>
<text transform="translate(15.00,277.20) rotate(-90)" class="yl2"><tspan class="br2" x="-0.9" y="0.3">⟨</tspan><tspan class="it" x="3.7" y="0">v</tspan><tspan x="7.2" y="0">′</tspan><tspan class="sb2" x="8.2" y="1.9">3</tspan><tspan class="it" x="11.5" y="0">θ</tspan><tspan x="16.9" y="0">′</tspan><tspan class="br2" x="19.1" y="0.3">⟩</tspan></text>
<text x="253.80" y="343.40" class="tk" text-anchor="end">0</text>
<text x="253.80" y="322.03" class="tk" text-anchor="end">0.05</text>
<line x1="258.7" y1="319.23" x2="261.2" y2="319.23" class="tm"/>
<text x="253.80" y="300.66" class="tk" text-anchor="end">0.1</text>
<line x1="258.7" y1="297.86" x2="261.2" y2="297.86" class="tm"/>
<text x="253.80" y="279.29" class="tk" text-anchor="end">0.15</text>
<line x1="258.7" y1="276.49" x2="261.2" y2="276.49" class="tm"/>
<text x="253.80" y="257.91" class="tk" text-anchor="end">0.2</text>
<line x1="258.7" y1="255.11" x2="261.2" y2="255.11" class="tm"/>
<text x="253.80" y="236.54" class="tk" text-anchor="end">0.25</text>
<line x1="258.7" y1="233.74" x2="261.2" y2="233.74" class="tm"/>
<text x="253.80" y="215.17" class="tk" text-anchor="end">0.3</text>
<line x1="258.7" y1="212.37" x2="261.2" y2="212.37" class="tm"/>
<text x="253.80" y="193.80" class="tk" text-anchor="end">0.35</text>
<text x="264.50" y="350.40" class="tk" text-anchor="middle">-8</text>
<line x1="264.00" y1="340.6" x2="264.00" y2="338.1" class="tm"/>
<text x="285.71" y="350.40" class="tk" text-anchor="middle">-6</text>
<line x1="285.21" y1="340.6" x2="285.21" y2="338.1" class="tm"/>
<text x="306.93" y="350.40" class="tk" text-anchor="middle">-4</text>
<line x1="306.43" y1="340.6" x2="306.43" y2="338.1" class="tm"/>
<text x="328.14" y="350.40" class="tk" text-anchor="middle">-2</text>
<line x1="327.64" y1="340.6" x2="327.64" y2="338.1" class="tm"/>
<text x="349.35" y="350.40" class="tk" text-anchor="middle">0</text>
<line x1="348.85" y1="340.6" x2="348.85" y2="338.1" class="tm"/>
<text x="370.56" y="350.40" class="tk" text-anchor="middle">2</text>
<line x1="370.06" y1="340.6" x2="370.06" y2="338.1" class="tm"/>
<text x="391.77" y="350.40" class="tk" text-anchor="middle">4</text>
<line x1="391.27" y1="340.6" x2="391.27" y2="338.1" class="tm"/>
<text x="412.99" y="350.40" class="tk" text-anchor="middle">6</text>
<line x1="412.49" y1="340.6" x2="412.49" y2="338.1" class="tm"/>
<text x="434.20" y="350.40" class="tk" text-anchor="middle">8</text>
<line x1="433.70" y1="340.6" x2="433.70" y2="338.1" class="tm"/>
<clipPath id="c3"><rect x="258.7" y="190.0" width="180.3" height="150.2"/></clipPath>
<g clip-path="url(#c3)">
<polyline points="258.7,340.2 259.2,340.2 259.7,340.2 260.2,340.2 260.7,340.2 261.2,340.2 261.7,340.2 262.2,340.2 262.7,340.2 263.2,340.2 263.7,340.2 264.2,340.2 264.7,340.2 265.2,340.2 265.7,340.2 266.2,340.2 266.7,340.2 267.2,340.2 267.7,340.2 268.2,340.2 268.7,340.2 269.2,340.2 269.7,340.2 270.2,340.2 270.7,340.2 271.2,340.2 271.7,340.2 272.2,340.2 272.7,340.2 273.2,340.2 273.7,340.2 274.2,340.2 274.7,340.2 275.2,340.2 275.7,340.2 276.2,340.2 276.7,340.2 277.2,340.2 277.7,340.2 278.2,340.2 278.7,340.2 279.2,340.2 279.7,340.2 280.2,340.2 280.7,340.2 281.2,340.2 281.7,340.2 282.2,340.2 282.7,340.2 283.2,340.2 283.7,340.2 284.2,340.2 284.7,340.2 285.2,340.2 285.7,340.2 286.2,340.2 286.7,340.2 287.2,340.2 287.7,340.2 288.2,340.2 288.7,340.2 289.2,340.2 289.7,340.2 290.2,340.2 290.7,340.2 291.2,340.2 291.7,340.2 292.2,340.2 292.7,340.2 293.2,340.2 293.7,340.2 294.2,340.2 294.7,340.2 295.2,340.2 295.7,340.2 296.2,340.2 296.7,340.2 297.2,340.2 297.7,340.2 298.2,340.2 298.7,340.2 299.2,340.2 299.7,340.2 300.2,340.2 300.7,340.2 301.2,340.1 301.7,340.1 302.2,340.1 302.7,340.1 303.2,340.1 303.7,340.0 304.2,340.0 304.7,340.0 305.2,340.0 305.7,339.9 306.2,339.9 306.7,339.9 307.2,339.9 307.7,339.9 308.2,339.9 308.7,339.8 309.2,339.8 309.7,339.8 310.2,339.8 310.7,339.8 311.2,339.8 311.7,339.7 312.2,339.7 312.7,339.7 313.2,339.7 313.7,339.7 314.2,339.7 314.7,339.6 315.2,339.6 315.7,339.6 316.2,339.6 316.7,339.6 317.2,339.6 317.7,339.6 318.2,339.6 318.7,339.6 319.2,339.7 319.7,339.8 320.2,339.8 320.7,339.9 321.2,340.0 321.7,340.0 322.2,340.0 322.7,340.0 323.2,339.9 323.7,339.9 324.2,339.8 324.7,339.8 325.2,339.7 325.7,339.5 326.2,339.2 326.7,338.6 327.2,337.9 327.7,337.0 328.2,336.0 328.7,334.9 329.2,333.7 329.7,332.2 330.2,330.2 330.7,328.0 331.2,325.7 331.7,323.3 332.2,320.8 332.7,318.1 333.2,315.1 333.7,311.9 334.2,308.3 334.7,304.0 335.2,299.6 335.7,295.6 336.2,292.3 336.7,289.3 337.2,285.8 337.7,281.1 338.2,275.4 338.7,269.9 339.2,264.6 339.7,259.2 340.2,252.9 340.7,246.6 341.2,241.5 341.7,236.7 342.2,231.6 342.7,226.6 343.2,222.2 343.7,218.0 344.2,214.4 344.7,211.5 345.2,209.1 345.7,206.8 346.2,204.5 346.7,201.6 347.2,198.7 347.7,197.9 348.2,197.3 348.7,197.2 349.2,197.5 349.7,198.2 350.2,199.3 350.7,201.9 351.2,204.2 351.7,206.3 352.2,208.3 352.7,210.6 353.2,213.2 353.7,216.7 354.2,221.2 354.7,225.7 355.2,230.1 355.7,234.8 356.2,239.6 356.7,244.6 357.2,249.7 357.7,254.9 358.2,260.1 358.7,265.2 359.2,270.0 359.7,273.9 360.2,277.5 360.7,281.9 361.2,287.2 361.7,292.2 362.2,296.9 362.7,301.2 363.2,305.2 363.7,308.6 364.2,311.9 364.7,314.8 365.2,317.5 365.7,319.9 366.2,322.1 366.7,324.3 367.2,326.3 367.7,328.1 368.2,329.8 368.7,331.1 369.2,332.2 369.7,333.2 370.2,334.1 370.7,334.9 371.2,335.7 371.7,336.3 372.2,336.9 372.7,337.4 373.2,337.8 373.7,338.1 374.2,338.4 374.7,338.6 375.2,338.8 375.7,339.0 376.2,339.2 376.7,339.3 377.2,339.5 377.7,339.6 378.2,339.7 378.7,339.7 379.2,339.8 379.7,339.8 380.2,339.9 380.7,340.0 381.2,340.0 381.7,340.1 382.2,340.1 382.7,340.1 383.2,340.2 383.7,340.2 384.2,340.2 384.7,340.2 385.2,340.2 385.7,340.2 386.2,340.2 386.7,340.2 387.2,340.2 387.7,340.2 388.2,340.2 388.7,340.2 389.2,340.2 389.7,340.2 390.2,340.2 390.7,340.2 391.2,340.2 391.7,340.2 392.2,340.2 392.7,340.2 393.2,340.2 393.7,340.2 394.2,340.2 394.7,340.2 395.2,340.2 395.7,340.2 396.2,340.2 396.7,340.2 397.2,340.2 397.7,340.2 398.2,340.2 398.7,340.2 399.2,340.2 399.7,340.2 400.2,340.2 400.7,340.2 401.2,340.2 401.7,340.2 402.2,340.2 402.7,340.2 403.2,340.2 403.7,340.2 404.2,340.2 404.7,340.2 405.2,340.2 405.7,340.2 406.2,340.2 406.7,340.2 407.2,340.2 407.7,340.2 408.2,340.2 408.7,340.2 409.2,340.2 409.7,340.2 410.2,340.2 410.7,340.2 411.2,340.2 411.7,340.2 412.2,340.2 412.7,340.2 413.2,340.2 413.7,340.2 414.2,340.2 414.7,340.2 415.2,340.2 415.7,340.2 416.2,340.2 416.7,340.2 417.2,340.2 417.7,340.2 418.2,340.2 418.7,340.2 419.2,340.2 419.7,340.2 420.2,340.2 420.7,340.2 421.2,340.2 421.7,340.2 422.2,340.2 422.7,340.2 423.2,340.2 423.7,340.2 424.2,340.2 424.7,340.2 425.2,340.2 425.7,340.2 426.2,340.2 426.7,340.2 427.2,340.2 427.7,340.2 428.2,340.2 428.7,340.2 429.2,340.2 429.7,340.2 430.2,340.2 430.7,340.2 431.2,340.2 431.7,340.2 432.2,340.2 432.7,340.2 433.2,340.2 433.7,340.2 434.2,340.2 434.7,340.2 435.2,340.2 435.7,340.2 436.2,340.2 436.7,340.2 437.2,340.2 437.7,340.2 438.2,340.2 438.7,340.2" stroke="#b44ef0" class="cv"/>
<polyline points="258.7,340.2 259.2,340.2 259.7,340.2 260.2,340.2 260.7,340.2 261.2,340.2 261.7,340.2 262.2,340.2 262.7,340.2 263.2,340.2 263.7,340.2 264.2,340.2 264.7,340.2 265.2,340.2 265.7,340.2 266.2,340.2 266.7,340.2 267.2,340.2 267.7,340.2 268.2,340.2 268.7,340.2 269.2,340.2 269.7,340.2 270.2,340.2 270.7,340.2 271.2,340.2 271.7,340.2 272.2,340.2 272.7,340.2 273.2,340.2 273.7,340.2 274.2,340.2 274.7,340.2 275.2,340.2 275.7,340.2 276.2,340.2 276.7,340.2 277.2,340.2 277.7,340.2 278.2,340.2 278.7,340.2 279.2,340.2 279.7,340.2 280.2,340.2 280.7,340.2 281.2,340.2 281.7,340.2 282.2,340.2 282.7,340.2 283.2,340.2 283.7,340.2 284.2,340.2 284.7,340.2 285.2,340.2 285.7,340.1 286.2,340.0 286.7,339.8 287.2,339.7 287.7,339.5 288.2,339.3 288.7,339.1 289.2,338.9 289.7,338.7 290.2,338.5 290.7,338.2 291.2,337.9 291.7,337.4 292.2,337.0 292.7,336.5 293.2,336.1 293.7,335.7 294.2,335.5 294.7,335.5 295.2,335.6 295.7,335.7 296.2,335.8 296.7,336.0 297.2,336.1 297.7,336.3 298.2,336.5 298.7,336.7 299.2,336.9 299.7,337.1 300.2,337.4 300.7,337.6 301.2,337.9 301.7,338.1 302.2,338.2 302.7,338.2 303.2,338.2 303.7,338.1 304.2,338.0 304.7,337.8 305.2,337.7 305.7,337.5 306.2,337.4 306.7,337.2 307.2,337.1 307.7,337.0 308.2,337.0 308.7,337.0 309.2,336.9 309.7,336.9 310.2,336.9 310.7,336.9 311.2,336.9 311.7,336.8 312.2,336.8 312.7,336.6 313.2,336.4 313.7,336.2 314.2,335.9 314.7,335.6 315.2,335.2 315.7,334.9 316.2,334.6 316.7,334.2 317.2,333.9 317.7,333.5 318.2,333.0 318.7,332.6 319.2,332.0 319.7,331.5 320.2,330.8 320.7,329.9 321.2,328.9 321.7,327.7 322.2,326.4 322.7,325.0 323.2,323.6 323.7,322.0 324.2,320.2 324.7,318.1 325.2,316.0 325.7,313.8 326.2,311.6 326.7,309.3 327.2,307.0 327.7,304.6 328.2,302.2 328.7,299.6 329.2,296.8 329.7,293.9 330.2,290.8 330.7,287.6 331.2,284.3 331.7,280.8 332.2,277.1 332.7,273.6 333.2,270.5 333.7,268.1 334.2,266.0 334.7,264.1 335.2,262.0 335.7,259.7 336.2,257.2 336.7,254.7 337.2,252.3 337.7,250.2 338.2,248.2 338.7,246.3 339.2,244.5 339.7,242.8 340.2,241.1 340.7,239.5 341.2,237.8 341.7,236.3 342.2,234.8 342.7,233.6 343.2,232.6 343.7,231.7 344.2,230.8 344.7,229.9 345.2,229.3 345.7,229.0 346.2,228.9 346.7,229.1 347.2,229.4 347.7,229.9 348.2,230.4 348.7,231.0 349.2,231.6 349.7,232.3 350.2,233.0 350.7,233.8 351.2,234.8 351.7,235.8 352.2,237.0 352.7,238.1 353.2,239.4 353.7,240.6 354.2,241.9 354.7,243.2 355.2,244.7 355.7,246.3 356.2,247.9 356.7,249.6 357.2,251.4 357.7,253.3 358.2,255.3 358.7,257.4 359.2,259.6 359.7,261.7 360.2,263.9 360.7,266.2 361.2,268.4 361.7,270.7 362.2,272.9 362.7,274.9 363.2,276.9 363.7,279.0 364.2,281.1 364.7,283.6 365.2,286.3 365.7,288.8 366.2,290.6 366.7,291.9 367.2,293.2 367.7,295.0 368.2,297.4 368.7,300.0 369.2,302.6 369.7,305.2 370.2,307.4 370.7,309.4 371.2,311.4 371.7,313.2 372.2,315.0 372.7,316.7 373.2,318.4 373.7,320.1 374.2,321.7 374.7,323.4 375.2,325.1 375.7,326.7 376.2,328.1 376.7,329.4 377.2,330.4 377.7,331.1 378.2,331.8 378.7,332.5 379.2,333.1 379.7,333.6 380.2,334.0 380.7,334.5 381.2,334.8 381.7,335.1 382.2,335.3 382.7,335.5 383.2,335.6 383.7,335.7 384.2,335.9 384.7,336.0 385.2,336.2 385.7,336.7 386.2,337.6 386.7,338.7 387.2,339.4 387.7,339.6 388.2,339.7 388.7,339.8 389.2,339.9 389.7,339.9 390.2,340.0 390.7,340.0 391.2,340.1 391.7,340.1 392.2,340.1 392.7,340.2 393.2,340.2 393.7,340.2 394.2,340.2 394.7,340.2 395.2,340.2 395.7,340.2 396.2,340.2 396.7,340.2 397.2,340.2 397.7,340.2 398.2,340.2 398.7,340.2 399.2,340.2 399.7,340.2 400.2,340.2 400.7,340.2 401.2,340.2 401.7,340.2 402.2,340.2 402.7,340.2 403.2,340.2 403.7,340.2 404.2,340.2 404.7,340.2 405.2,340.2 405.7,340.2 406.2,340.2 406.7,340.2 407.2,340.2 407.7,340.2 408.2,340.2 408.7,340.2 409.2,340.2 409.7,340.2 410.2,340.2 410.7,340.2 411.2,340.2 411.7,340.2 412.2,340.2 412.7,340.2 413.2,340.2 413.7,340.2 414.2,340.2 414.7,340.2 415.2,340.2 415.7,340.2 416.2,340.2 416.7,340.2 417.2,340.2 417.7,340.2 418.2,340.2 418.7,340.2 419.2,340.2 419.7,340.2 420.2,340.2 420.7,340.2 421.2,340.2 421.7,340.2 422.2,340.2 422.7,340.2 423.2,340.2 423.7,340.2 424.2,340.2 424.7,340.2 425.2,340.2 425.7,340.2 426.2,340.2 426.7,340.2 427.2,340.2 427.7,340.2 428.2,340.2 428.7,340.2 429.2,340.2 429.7,340.2 430.2,340.2 430.7,340.2 431.2,340.2 431.7,340.2 432.2,340.2 432.7,340.2 433.2,340.2 433.7,340.2 434.2,340.2 434.7,340.2 435.2,340.2 435.7,340.2 436.2,340.2 436.7,340.2 437.2,340.2 437.7,340.2 438.2,340.2 438.7,340.2" stroke="#3fb88f" class="cv"/>
<polyline points="258.7,340.2 259.2,340.2 259.7,340.2 260.2,340.2 260.7,340.2 261.2,340.2 261.7,340.2 262.2,340.2 262.7,340.2 263.2,340.2 263.7,340.2 264.2,340.2 264.7,340.2 265.2,340.2 265.7,340.2 266.2,340.2 266.7,340.2 267.2,340.2 267.7,340.2 268.2,340.2 268.7,340.2 269.2,340.2 269.7,340.2 270.2,340.2 270.7,340.2 271.2,340.2 271.7,340.2 272.2,340.2 272.7,340.2 273.2,340.2 273.7,340.2 274.2,340.2 274.7,340.2 275.2,340.2 275.7,340.2 276.2,340.2 276.7,340.2 277.2,340.2 277.7,340.2 278.2,340.2 278.7,340.2 279.2,340.2 279.7,340.2 280.2,340.2 280.7,340.2 281.2,340.2 281.7,340.2 282.2,340.2 282.7,340.2 283.2,340.2 283.7,340.2 284.2,340.2 284.7,340.2 285.2,340.2 285.7,340.2 286.2,340.2 286.7,340.2 287.2,340.2 287.7,340.2 288.2,340.2 288.7,340.2 289.2,340.2 289.7,340.2 290.2,340.2 290.7,340.2 291.2,340.2 291.7,340.2 292.2,340.2 292.7,340.2 293.2,340.2 293.7,340.2 294.2,340.2 294.7,340.2 295.2,340.2 295.7,340.2 296.2,340.2 296.7,340.1 297.2,340.1 297.7,340.0 298.2,339.9 298.7,339.8 299.2,339.7 299.7,339.6 300.2,339.5 300.7,339.3 301.2,339.1 301.7,339.0 302.2,338.8 302.7,338.5 303.2,338.0 303.7,337.0 304.2,335.7 304.7,334.3 305.2,332.8 305.7,331.4 306.2,330.3 306.7,329.5 307.2,328.8 307.7,328.3 308.2,327.8 308.7,327.3 309.2,326.9 309.7,326.4 310.2,326.0 310.7,325.5 311.2,325.0 311.7,324.6 312.2,324.2 312.7,323.7 313.2,323.2 313.7,322.7 314.2,322.1 314.7,321.4 315.2,320.6 315.7,319.7 316.2,318.6 316.7,317.5 317.2,316.3 317.7,315.2 318.2,313.8 318.7,312.4 319.2,310.8 319.7,309.3 320.2,307.7 320.7,306.2 321.2,304.7 321.7,303.3 322.2,301.9 322.7,300.5 323.2,299.1 323.7,297.8 324.2,296.7 324.7,295.8 325.2,295.0 325.7,294.3 326.2,293.3 326.7,291.9 327.2,290.1 327.7,288.2 328.2,286.1 328.7,284.3 329.2,282.4 329.7,280.5 330.2,278.6 330.7,276.8 331.2,275.0 331.7,273.0 332.2,271.0 332.7,269.1 333.2,267.3 333.7,265.6 334.2,264.2 334.7,263.1 335.2,262.3 335.7,261.7 336.2,261.2 336.7,260.7 337.2,260.3 337.7,260.0 338.2,259.7 338.7,259.4 339.2,259.2 339.7,259.0 340.2,258.9 340.7,258.7 341.2,258.6 341.7,258.4 342.2,258.3 342.7,258.1 343.2,257.9 343.7,257.6 344.2,257.4 344.7,257.1 345.2,256.9 345.7,256.6 346.2,256.3 346.7,256.0 347.2,255.8 347.7,255.5 348.2,255.2 348.7,254.9 349.2,254.6 349.7,254.2 350.2,253.8 350.7,253.4 351.2,253.1 351.7,252.8 352.2,252.5 352.7,252.4 353.2,252.3 353.7,252.4 354.2,253.0 354.7,253.8 355.2,254.7 355.7,255.6 356.2,256.8 356.7,258.3 357.2,259.9 357.7,261.6 358.2,263.2 358.7,264.5 359.2,265.8 359.7,267.0 360.2,268.2 360.7,269.3 361.2,270.5 361.7,271.6 362.2,272.7 362.7,273.8 363.2,275.0 363.7,276.1 364.2,277.3 364.7,278.4 365.2,279.4 365.7,280.4 366.2,281.3 366.7,282.2 367.2,283.2 367.7,284.1 368.2,285.2 368.7,286.3 369.2,287.5 369.7,288.8 370.2,290.1 370.7,291.5 371.2,292.9 371.7,294.3 372.2,295.8 372.7,297.3 373.2,298.8 373.7,300.3 374.2,301.9 374.7,303.5 375.2,305.1 375.7,306.8 376.2,308.5 376.7,310.2 377.2,311.9 377.7,313.5 378.2,315.1 378.7,316.6 379.2,318.0 379.7,319.4 380.2,320.8 380.7,322.2 381.2,323.5 381.7,324.7 382.2,325.8 382.7,326.8 383.2,327.6 383.7,328.4 384.2,329.1 384.7,329.8 385.2,330.4 385.7,331.0 386.2,331.6 386.7,332.1 387.2,332.6 387.7,333.1 388.2,333.5 388.7,333.9 389.2,334.3 389.7,334.7 390.2,335.2 390.7,336.0 391.2,336.9 391.7,337.7 392.2,338.2 392.7,338.3 393.2,338.4 393.7,338.5 394.2,338.6 394.7,338.7 395.2,338.7 395.7,338.8 396.2,338.8 396.7,338.9 397.2,338.9 397.7,339.0 398.2,339.0 398.7,339.1 399.2,339.2 399.7,339.2 400.2,339.3 400.7,339.4 401.2,339.5 401.7,339.6 402.2,339.7 402.7,339.8 403.2,339.9 403.7,339.9 404.2,340.0 404.7,340.1 405.2,340.2 405.7,340.2 406.2,340.2 406.7,340.2 407.2,340.2 407.7,340.2 408.2,340.2 408.7,340.2 409.2,340.2 409.7,340.2 410.2,340.2 410.7,340.2 411.2,340.2 411.7,340.2 412.2,340.2 412.7,340.2 413.2,340.2 413.7,340.2 414.2,340.2 414.7,340.2 415.2,340.2 415.7,340.2 416.2,340.2 416.7,340.2 417.2,340.2 417.7,340.2 418.2,340.2 418.7,340.2 419.2,340.2 419.7,340.2 420.2,340.2 420.7,340.2 421.2,340.2 421.7,340.2 422.2,340.2 422.7,340.2 423.2,340.2 423.7,340.2 424.2,340.2 424.7,340.2 425.2,340.2 425.7,340.2 426.2,340.2 426.7,340.2 427.2,340.2 427.7,340.2 428.2,340.2 428.7,340.2 429.2,340.2 429.7,340.2 430.2,340.2 430.7,340.2 431.2,340.2 431.7,340.2 432.2,340.2 432.7,340.2 433.2,340.2 433.7,340.2 434.2,340.2 434.7,340.2 435.2,340.2 435.7,340.2 436.2,340.2 436.7,340.2 437.2,340.2 437.7,340.2 438.2,340.2 438.7,340.2" stroke="#7cc8f0" class="cv"/>
<polyline points="258.7,340.2 259.2,340.2 259.7,340.2 260.2,340.2 260.7,340.2 261.2,340.2 261.7,340.2 262.2,340.2 262.7,340.2 263.2,340.2 263.7,340.2 264.2,340.2 264.7,340.2 265.2,340.2 265.7,340.2 266.2,340.2 266.7,340.2 267.2,340.2 267.7,340.2 268.2,340.2 268.7,340.2 269.2,340.2 269.7,340.2 270.2,340.2 270.7,340.2 271.2,340.2 271.7,340.2 272.2,340.2 272.7,340.2 273.2,340.2 273.7,340.2 274.2,340.2 274.7,340.2 275.2,340.2 275.7,340.2 276.2,340.2 276.7,340.2 277.2,340.1 277.7,340.1 278.2,340.1 278.7,340.0 279.2,340.0 279.7,340.0 280.2,339.9 280.7,339.8 281.2,339.8 281.7,339.7 282.2,339.6 282.7,339.6 283.2,339.5 283.7,339.4 284.2,339.3 284.7,339.3 285.2,339.2 285.7,339.0 286.2,338.8 286.7,338.6 287.2,338.3 287.7,338.0 288.2,337.6 288.7,337.3 289.2,336.9 289.7,336.5 290.2,336.1 290.7,335.7 291.2,335.3 291.7,334.9 292.2,334.5 292.7,334.2 293.2,333.8 293.7,333.5 294.2,333.3 294.7,333.1 295.2,332.9 295.7,332.7 296.2,332.5 296.7,332.3 297.2,332.0 297.7,331.8 298.2,331.5 298.7,331.2 299.2,330.8 299.7,330.3 300.2,329.6 300.7,328.9 301.2,328.0 301.7,327.1 302.2,326.1 302.7,325.2 303.2,324.4 303.7,323.6 304.2,323.0 304.7,322.5 305.2,322.1 305.7,321.8 306.2,321.5 306.7,321.2 307.2,321.0 307.7,320.7 308.2,320.4 308.7,320.0 309.2,319.6 309.7,319.0 310.2,318.3 310.7,317.0 311.2,315.4 311.7,313.6 312.2,311.9 312.7,310.5 313.2,309.2 313.7,308.0 314.2,306.8 314.7,305.5 315.2,304.3 315.7,303.0 316.2,301.6 316.7,300.4 317.2,299.3 317.7,298.3 318.2,297.6 318.7,296.9 319.2,296.3 319.7,295.7 320.2,295.1 320.7,294.6 321.2,294.0 321.7,293.4 322.2,292.8 322.7,292.1 323.2,291.3 323.7,290.6 324.2,289.8 324.7,289.1 325.2,288.2 325.7,287.3 326.2,286.4 326.7,285.4 327.2,284.4 327.7,283.5 328.2,282.5 328.7,281.6 329.2,280.7 329.7,279.9 330.2,279.2 330.7,278.6 331.2,278.0 331.7,277.5 332.2,277.0 332.7,276.6 333.2,276.1 333.7,275.7 334.2,275.3 334.7,274.9 335.2,274.5 335.7,274.2 336.2,273.9 336.7,273.5 337.2,273.2 337.7,273.0 338.2,272.7 338.7,272.4 339.2,272.2 339.7,272.0 340.2,271.8 340.7,271.6 341.2,271.4 341.7,271.2 342.2,271.0 342.7,270.9 343.2,270.7 343.7,270.5 344.2,270.3 344.7,270.1 345.2,269.9 345.7,269.7 346.2,269.5 346.7,269.2 347.2,268.9 347.7,268.6 348.2,268.4 348.7,268.1 349.2,267.9 349.7,267.8 350.2,267.7 350.7,267.7 351.2,267.7 351.7,267.8 352.2,267.8 352.7,267.9 353.2,267.9 353.7,268.0 354.2,268.1 354.7,268.2 355.2,268.3 355.7,268.5 356.2,268.6 356.7,268.9 357.2,269.2 357.7,269.5 358.2,269.9 358.7,270.3 359.2,270.8 359.7,271.2 360.2,271.7 360.7,272.2 361.2,272.8 361.7,273.4 362.2,274.1 362.7,274.8 363.2,275.5 363.7,276.3 364.2,277.0 364.7,277.8 365.2,278.7 365.7,279.6 366.2,280.5 366.7,281.4 367.2,282.4 367.7,283.4 368.2,284.4 368.7,285.3 369.2,286.3 369.7,287.2 370.2,288.0 370.7,288.8 371.2,289.6 371.7,290.4 372.2,291.2 372.7,292.1 373.2,293.0 373.7,294.0 374.2,295.0 374.7,296.3 375.2,297.6 375.7,299.1 376.2,300.6 376.7,302.1 377.2,303.5 377.7,305.0 378.2,306.3 378.7,307.5 379.2,308.6 379.7,309.7 380.2,310.7 380.7,311.7 381.2,312.6 381.7,313.5 382.2,314.2 382.7,314.9 383.2,315.5 383.7,316.1 384.2,316.7 384.7,317.2 385.2,317.8 385.7,318.4 386.2,319.1 386.7,319.9 387.2,320.9 387.7,322.0 388.2,323.2 388.7,324.3 389.2,325.4 389.7,326.2 390.2,326.8 390.7,327.3 391.2,327.7 391.7,328.1 392.2,328.5 392.7,328.8 393.2,329.1 393.7,329.4 394.2,329.8 394.7,330.2 395.2,330.5 395.7,330.9 396.2,331.3 396.7,331.7 397.2,332.1 397.7,332.6 398.2,333.2 398.7,334.0 399.2,334.9 399.7,335.8 400.2,336.8 400.7,337.6 401.2,338.3 401.7,338.8 402.2,339.3 402.7,339.7 403.2,339.9 403.7,340.0 404.2,340.0 404.7,340.1 405.2,340.1 405.7,340.1 406.2,340.1 406.7,340.2 407.2,340.2 407.7,340.2 408.2,340.2 408.7,340.2 409.2,340.2 409.7,340.2 410.2,340.2 410.7,340.2 411.2,340.2 411.7,340.2 412.2,340.2 412.7,340.2 413.2,340.2 413.7,340.2 414.2,340.2 414.7,340.2 415.2,340.2 415.7,340.2 416.2,340.2 416.7,340.2 417.2,340.2 417.7,340.2 418.2,340.2 418.7,340.2 419.2,340.2 419.7,340.2 420.2,340.2 420.7,340.2 421.2,340.2 421.7,340.2 422.2,340.2 422.7,340.2 423.2,340.2 423.7,340.2 424.2,340.2 424.7,340.2 425.2,340.2 425.7,340.2 426.2,340.2 426.7,340.2 427.2,340.2 427.7,340.2 428.2,340.2 428.7,340.2 429.2,340.2 429.7,340.2 430.2,340.2 430.7,340.2 431.2,340.2 431.7,340.2 432.2,340.2 432.7,340.2 433.2,340.2 433.7,340.2 434.2,340.2 434.7,340.2 435.2,340.2 435.7,340.2 436.2,340.2 436.7,340.2 437.2,340.2 437.7,340.2 438.2,340.2 438.7,340.2" stroke="#eeb23c" class="cv"/>
<polyline points="258.7,340.2 259.2,340.2 259.7,340.2 260.2,340.2 260.7,340.2 261.2,340.2 261.7,340.2 262.2,340.2 262.7,340.2 263.2,340.2 263.7,340.2 264.2,340.2 264.7,340.2 265.2,340.2 265.7,340.2 266.2,340.2 266.7,340.2 267.2,340.2 267.7,340.2 268.2,340.2 268.7,340.2 269.2,340.2 269.7,340.2 270.2,340.2 270.7,340.2 271.2,340.2 271.7,340.2 272.2,340.1 272.7,340.1 273.2,340.1 273.7,340.0 274.2,340.0 274.7,339.9 275.2,339.9 275.7,339.8 276.2,339.7 276.7,339.7 277.2,339.6 277.7,339.5 278.2,339.5 278.7,339.4 279.2,339.3 279.7,339.1 280.2,339.0 280.7,338.8 281.2,338.6 281.7,338.4 282.2,338.2 282.7,338.0 283.2,337.8 283.7,337.5 284.2,337.3 284.7,337.1 285.2,336.9 285.7,336.7 286.2,336.5 286.7,336.3 287.2,336.0 287.7,335.8 288.2,335.6 288.7,335.3 289.2,335.1 289.7,334.9 290.2,334.7 290.7,334.5 291.2,334.4 291.7,334.2 292.2,334.0 292.7,333.8 293.2,333.7 293.7,333.5 294.2,333.3 294.7,333.1 295.2,332.9 295.7,332.7 296.2,332.5 296.7,332.3 297.2,332.1 297.7,331.8 298.2,331.5 298.7,331.2 299.2,330.8 299.7,330.2 300.2,329.4 300.7,328.4 301.2,327.3 301.7,326.3 302.2,325.4 302.7,324.6 303.2,324.0 303.7,323.5 304.2,323.2 304.7,322.8 305.2,322.5 305.7,322.2 306.2,321.9 306.7,321.6 307.2,321.3 307.7,320.9 308.2,320.4 308.7,319.9 309.2,319.1 309.7,318.1 310.2,317.1 310.7,316.1 311.2,315.2 311.7,314.4 312.2,313.6 312.7,312.9 313.2,312.1 313.7,311.4 314.2,310.6 314.7,309.8 315.2,308.9 315.7,308.1 316.2,307.1 316.7,306.1 317.2,305.0 317.7,304.0 318.2,302.9 318.7,301.9 319.2,300.9 319.7,299.9 320.2,299.1 320.7,298.2 321.2,297.4 321.7,296.6 322.2,295.8 322.7,295.1 323.2,294.4 323.7,293.7 324.2,293.1 324.7,292.6 325.2,292.1 325.7,291.6 326.2,291.1 326.7,290.7 327.2,290.3 327.7,289.9 328.2,289.5 328.7,289.1 329.2,288.7 329.7,288.3 330.2,287.9 330.7,287.4 331.2,286.9 331.7,286.5 332.2,286.0 332.7,285.5 333.2,285.0 333.7,284.5 334.2,284.0 334.7,283.5 335.2,282.9 335.7,282.4 336.2,281.9 336.7,281.4 337.2,280.9 337.7,280.4 338.2,279.9 338.7,279.4 339.2,278.9 339.7,278.3 340.2,277.8 340.7,277.3 341.2,276.8 341.7,276.3 342.2,275.8 342.7,275.3 343.2,274.8 343.7,274.4 344.2,274.0 344.7,273.5 345.2,273.0 345.7,272.5 346.2,272.0 346.7,271.6 347.2,271.2 347.7,270.9 348.2,270.7 348.7,270.6 349.2,270.7 349.7,270.9 350.2,271.4 350.7,272.0 351.2,272.7 351.7,273.3 352.2,273.9 352.7,274.4 353.2,274.8 353.7,275.1 354.2,275.5 354.7,275.8 355.2,276.1 355.7,276.4 356.2,276.7 356.7,277.0 357.2,277.3 357.7,277.6 358.2,277.8 358.7,278.1 359.2,278.3 359.7,278.5 360.2,278.8 360.7,279.0 361.2,279.3 361.7,279.6 362.2,279.9 362.7,280.1 363.2,280.4 363.7,280.7 364.2,281.1 364.7,281.4 365.2,281.8 365.7,282.2 366.2,282.7 366.7,283.2 367.2,283.9 367.7,284.6 368.2,285.3 368.7,286.1 369.2,286.9 369.7,287.7 370.2,288.4 370.7,289.2 371.2,289.9 371.7,290.5 372.2,291.1 372.7,291.7 373.2,292.2 373.7,292.8 374.2,293.3 374.7,293.8 375.2,294.4 375.7,295.0 376.2,295.7 376.7,296.4 377.2,297.2 377.7,298.1 378.2,299.0 378.7,299.9 379.2,300.9 379.7,301.9 380.2,302.9 380.7,303.8 381.2,304.7 381.7,305.6 382.2,306.4 382.7,307.1 383.2,307.8 383.7,308.4 384.2,309.1 384.7,309.7 385.2,310.4 385.7,311.0 386.2,311.7 386.7,312.5 387.2,313.3 387.7,314.2 388.2,315.2 388.7,316.4 389.2,317.5 389.7,318.7 390.2,319.7 390.7,320.7 391.2,321.6 391.7,322.5 392.2,323.5 392.7,324.3 393.2,325.2 393.7,326.0 394.2,326.8 394.7,327.5 395.2,328.2 395.7,328.9 396.2,329.6 396.7,330.2 397.2,330.8 397.7,331.4 398.2,332.0 398.7,332.5 399.2,333.0 399.7,333.4 400.2,333.9 400.7,334.3 401.2,334.7 401.7,335.1 402.2,335.4 402.7,335.8 403.2,336.0 403.7,336.3 404.2,336.5 404.7,336.8 405.2,337.0 405.7,337.2 406.2,337.4 406.7,337.6 407.2,337.7 407.7,337.8 408.2,337.9 408.7,338.0 409.2,338.1 409.7,338.1 410.2,338.2 410.7,338.2 411.2,338.2 411.7,338.3 412.2,338.4 412.7,338.4 413.2,338.5 413.7,338.7 414.2,338.8 414.7,339.0 415.2,339.1 415.7,339.3 416.2,339.4 416.7,339.6 417.2,339.7 417.7,339.8 418.2,339.8 418.7,339.9 419.2,339.9 419.7,340.0 420.2,340.0 420.7,340.0 421.2,340.1 421.7,340.1 422.2,340.1 422.7,340.1 423.2,340.2 423.7,340.2 424.2,340.2 424.7,340.2 425.2,340.2 425.7,340.2 426.2,340.2 426.7,340.2 427.2,340.2 427.7,340.2 428.2,340.2 428.7,340.2 429.2,340.2 429.7,340.2 430.2,340.2 430.7,340.2 431.2,340.2 431.7,340.2 432.2,340.2 432.7,340.2 433.2,340.2 433.7,340.2 434.2,340.2 434.7,340.2 435.2,340.2 435.7,340.2 436.2,340.2 436.7,340.2 437.2,340.2 437.7,340.2 438.2,340.2 438.7,340.2" stroke="#f2e46a" class="cv"/>
<polyline points="258.7,338.4 259.2,338.6 259.7,338.8 260.2,339.0 260.7,339.2 261.2,339.3 261.7,339.4 262.2,339.5 262.7,339.6 263.2,339.6 263.7,339.6 264.2,339.6 264.7,339.6 265.2,339.6 265.7,339.6 266.2,339.5 266.7,339.5 267.2,339.5 267.7,339.5 268.2,339.4 268.7,339.4 269.2,339.4 269.7,339.3 270.2,339.3 270.7,339.2 271.2,339.0 271.7,338.8 272.2,338.6 272.7,338.3 273.2,338.1 273.7,337.8 274.2,337.5 274.7,337.2 275.2,336.9 275.7,336.5 276.2,336.1 276.7,335.7 277.2,335.2 277.7,334.8 278.2,334.3 278.7,334.0 279.2,333.7 279.7,333.6 280.2,333.5 280.7,333.4 281.2,333.3 281.7,333.2 282.2,333.1 282.7,333.0 283.2,333.0 283.7,333.0 284.2,333.1 284.7,333.4 285.2,333.8 285.7,334.2 286.2,334.7 286.7,335.1 287.2,335.4 287.7,335.5 288.2,335.2 288.7,334.4 289.2,333.2 289.7,331.9 290.2,330.4 290.7,329.0 291.2,327.8 291.7,327.0 292.2,326.5 292.7,326.1 293.2,325.8 293.7,325.5 294.2,325.2 294.7,324.9 295.2,324.6 295.7,324.3 296.2,323.9 296.7,323.4 297.2,322.9 297.7,322.4 298.2,321.9 298.7,321.3 299.2,320.8 299.7,320.3 300.2,319.7 300.7,319.3 301.2,318.8 301.7,318.4 302.2,318.0 302.7,317.6 303.2,317.2 303.7,316.9 304.2,316.5 304.7,316.2 305.2,315.8 305.7,315.4 306.2,315.0 306.7,314.6 307.2,314.2 307.7,313.8 308.2,313.3 308.7,312.9 309.2,312.4 309.7,312.0 310.2,311.5 310.7,311.0 311.2,310.6 311.7,310.1 312.2,309.6 312.7,309.1 313.2,308.6 313.7,308.1 314.2,307.6 314.7,307.1 315.2,306.6 315.7,306.1 316.2,305.6 316.7,305.1 317.2,304.6 317.7,304.1 318.2,303.5 318.7,303.0 319.2,302.4 319.7,301.9 320.2,301.4 320.7,300.9 321.2,300.3 321.7,299.9 322.2,299.4 322.7,299.0 323.2,298.6 323.7,298.2 324.2,297.9 324.7,297.6 325.2,297.3 325.7,297.0 326.2,296.8 326.7,296.5 327.2,296.2 327.7,295.9 328.2,295.6 328.7,295.3 329.2,294.9 329.7,294.4 330.2,293.9 330.7,293.4 331.2,292.8 331.7,292.3 332.2,291.7 332.7,291.0 333.2,290.4 333.7,289.8 334.2,289.1 334.7,288.5 335.2,287.9 335.7,287.3 336.2,286.7 336.7,286.2 337.2,285.7 337.7,285.2 338.2,284.7 338.7,284.3 339.2,283.8 339.7,283.3 340.2,282.8 340.7,282.2 341.2,281.7 341.7,281.1 342.2,280.5 342.7,279.9 343.2,279.3 343.7,278.7 344.2,278.2 344.7,277.7 345.2,277.3 345.7,276.9 346.2,276.5 346.7,276.2 347.2,275.9 347.7,275.6 348.2,275.3 348.7,275.0 349.2,274.7 349.7,274.4 350.2,274.1 350.7,273.8 351.2,273.5 351.7,273.2 352.2,272.8 352.7,272.4 353.2,272.0 353.7,271.7 354.2,271.5 354.7,271.4 355.2,271.4 355.7,271.6 356.2,271.9 356.7,272.2 357.2,272.6 357.7,273.0 358.2,273.4 358.7,273.7 359.2,274.1 359.7,274.5 360.2,274.8 360.7,275.2 361.2,275.6 361.7,276.1 362.2,276.5 362.7,277.0 363.2,277.5 363.7,278.1 364.2,278.7 364.7,279.3 365.2,279.9 365.7,280.6 366.2,281.2 366.7,281.9 367.2,282.6 367.7,283.3 368.2,284.0 368.7,284.7 369.2,285.4 369.7,286.1 370.2,286.8 370.7,287.5 371.2,288.2 371.7,288.9 372.2,289.5 372.7,290.1 373.2,290.7 373.7,291.2 374.2,291.8 374.7,292.4 375.2,292.9 375.7,293.5 376.2,294.1 376.7,294.8 377.2,295.5 377.7,296.3 378.2,297.2 378.7,298.2 379.2,299.3 379.7,300.4 380.2,301.5 380.7,302.6 381.2,303.6 381.7,304.5 382.2,305.2 382.7,305.9 383.2,306.5 383.7,307.1 384.2,307.6 384.7,308.2 385.2,308.8 385.7,309.4 386.2,310.1 386.7,310.9 387.2,311.9 387.7,312.9 388.2,314.1 388.7,315.2 389.2,316.3 389.7,317.4 390.2,318.4 390.7,319.4 391.2,320.6 391.7,321.7 392.2,322.8 392.7,323.8 393.2,324.6 393.7,325.3 394.2,325.7 394.7,325.8 395.2,325.9 395.7,325.9 396.2,326.0 396.7,326.0 397.2,326.0 397.7,325.8 398.2,325.7 398.7,325.5 399.2,325.5 399.7,325.6 400.2,325.9 400.7,326.2 401.2,326.7 401.7,327.1 402.2,327.6 402.7,328.2 403.2,328.6 403.7,329.1 404.2,329.6 404.7,330.1 405.2,330.6 405.7,331.1 406.2,331.7 406.7,332.2 407.2,332.7 407.7,333.2 408.2,333.6 408.7,333.9 409.2,334.3 409.7,334.7 410.2,335.0 410.7,335.3 411.2,335.6 411.7,335.9 412.2,336.1 412.7,336.3 413.2,336.4 413.7,336.5 414.2,336.6 414.7,336.7 415.2,336.8 415.7,336.9 416.2,337.0 416.7,337.2 417.2,337.4 417.7,337.9 418.2,338.5 418.7,339.1 419.2,339.4 419.7,339.4 420.2,339.4 420.7,339.5 421.2,339.5 421.7,339.5 422.2,339.5 422.7,339.5 423.2,339.5 423.7,339.5 424.2,339.5 424.7,339.4 425.2,339.3 425.7,339.2 426.2,339.1 426.7,338.9 427.2,338.8 427.7,338.6 428.2,338.5 428.7,338.4 429.2,338.4 429.7,338.4 430.2,338.4 430.7,338.3 431.2,338.3 431.7,338.3 432.2,338.3 432.7,338.3 433.2,338.3 433.7,338.3 434.2,338.3 434.7,338.3 435.2,338.3 435.7,338.3 436.2,338.4 436.7,338.4 437.2,338.4 437.7,338.5 438.2,338.5 438.7,338.6" stroke="#2e86c8" class="cv"/>
<polyline points="258.7,339.7 259.2,339.5 259.7,339.3 260.2,339.1 260.7,338.9 261.2,338.6 261.7,338.4 262.2,338.2 262.7,338.0 263.2,337.8 263.7,337.6 264.2,337.3 264.7,337.0 265.2,336.8 265.7,336.5 266.2,336.2 266.7,335.9 267.2,335.6 267.7,335.4 268.2,335.1 268.7,335.0 269.2,334.8 269.7,334.7 270.2,334.7 270.7,334.7 271.2,334.9 271.7,335.0 272.2,335.3 272.7,335.5 273.2,335.8 273.7,336.1 274.2,336.3 274.7,336.6 275.2,336.8 275.7,337.0 276.2,337.2 276.7,337.4 277.2,337.6 277.7,337.8 278.2,338.0 278.7,338.1 279.2,338.2 279.7,338.2 280.2,338.1 280.7,338.0 281.2,337.7 281.7,337.5 282.2,337.1 282.7,336.7 283.2,336.4 283.7,336.0 284.2,335.6 284.7,335.2 285.2,334.9 285.7,334.5 286.2,334.2 286.7,333.9 287.2,333.6 287.7,333.2 288.2,332.8 288.7,332.5 289.2,332.1 289.7,331.6 290.2,331.2 290.7,330.7 291.2,330.1 291.7,329.5 292.2,328.8 292.7,328.0 293.2,327.3 293.7,326.5 294.2,325.8 294.7,325.0 295.2,324.3 295.7,323.6 296.2,323.0 296.7,322.4 297.2,321.9 297.7,321.3 298.2,320.8 298.7,320.2 299.2,319.7 299.7,319.1 300.2,318.4 300.7,317.6 301.2,316.8 301.7,315.9 302.2,315.0 302.7,314.2 303.2,313.5 303.7,312.9 304.2,312.4 304.7,312.0 305.2,311.7 305.7,311.3 306.2,311.0 306.7,310.7 307.2,310.4 307.7,310.2 308.2,309.9 308.7,309.7 309.2,309.4 309.7,309.2 310.2,308.9 310.7,308.7 311.2,308.5 311.7,308.3 312.2,308.0 312.7,307.7 313.2,307.4 313.7,307.1 314.2,306.7 314.7,306.4 315.2,306.0 315.7,305.6 316.2,305.2 316.7,304.8 317.2,304.4 317.7,304.0 318.2,303.6 318.7,303.1 319.2,302.6 319.7,302.1 320.2,301.5 320.7,301.0 321.2,300.4 321.7,299.9 322.2,299.4 322.7,299.0 323.2,298.6 323.7,298.2 324.2,297.9 324.7,297.6 325.2,297.3 325.7,297.1 326.2,296.8 326.7,296.5 327.2,296.3 327.7,296.0 328.2,295.6 328.7,295.3 329.2,294.8 329.7,294.3 330.2,293.7 330.7,293.1 331.2,292.4 331.7,291.7 332.2,291.0 332.7,290.4 333.2,289.7 333.7,289.1 334.2,288.5 334.7,287.9 335.2,287.3 335.7,286.7 336.2,286.1 336.7,285.6 337.2,285.1 337.7,284.7 338.2,284.4 338.7,284.1 339.2,283.9 339.7,283.6 340.2,283.4 340.7,283.2 341.2,283.1 341.7,282.9 342.2,282.7 342.7,282.6 343.2,282.4 343.7,282.2 344.2,282.0 344.7,281.9 345.2,281.6 345.7,281.4 346.2,281.2 346.7,280.9 347.2,280.7 347.7,280.4 348.2,280.1 348.7,279.9 349.2,279.6 349.7,279.4 350.2,279.1 350.7,278.9 351.2,278.6 351.7,278.3 352.2,278.0 352.7,277.8 353.2,277.6 353.7,277.5 354.2,277.5 354.7,277.6 355.2,277.7 355.7,277.9 356.2,278.2 356.7,278.4 357.2,278.7 357.7,279.0 358.2,279.3 358.7,279.5 359.2,279.7 359.7,280.0 360.2,280.3 360.7,280.6 361.2,280.8 361.7,280.9 362.2,281.0 362.7,281.1 363.2,281.1 363.7,281.2 364.2,281.2 364.7,281.3 365.2,281.3 365.7,281.6 366.2,282.0 366.7,282.5 367.2,283.1 367.7,283.8 368.2,284.6 368.7,285.3 369.2,286.1 369.7,286.8 370.2,287.4 370.7,288.0 371.2,288.5 371.7,289.0 372.2,289.5 372.7,289.9 373.2,290.4 373.7,290.8 374.2,291.3 374.7,291.8 375.2,292.3 375.7,292.8 376.2,293.4 376.7,294.0 377.2,294.7 377.7,295.4 378.2,296.1 378.7,296.9 379.2,297.7 379.7,298.5 380.2,299.3 380.7,300.1 381.2,301.0 381.7,301.8 382.2,302.7 382.7,303.6 383.2,304.5 383.7,305.4 384.2,306.3 384.7,307.2 385.2,308.0 385.7,308.8 386.2,309.6 386.7,310.4 387.2,311.2 387.7,312.0 388.2,312.7 388.7,313.5 389.2,314.1 389.7,314.8 390.2,315.4 390.7,316.0 391.2,316.5 391.7,317.0 392.2,317.6 392.7,318.1 393.2,318.5 393.7,319.0 394.2,319.5 394.7,320.0 395.2,320.5 395.7,320.9 396.2,321.3 396.7,321.8 397.2,322.2 397.7,322.6 398.2,323.1 398.7,323.5 399.2,324.0 399.7,324.5 400.2,325.0 400.7,325.5 401.2,326.0 401.7,326.6 402.2,327.1 402.7,327.6 403.2,328.1 403.7,328.6 404.2,329.0 404.7,329.5 405.2,329.9 405.7,330.3 406.2,330.7 406.7,331.1 407.2,331.5 407.7,331.9 408.2,332.2 408.7,332.6 409.2,332.9 409.7,333.2 410.2,333.5 410.7,333.8 411.2,334.1 411.7,334.4 412.2,334.7 412.7,334.9 413.2,335.0 413.7,335.0 414.2,335.0 414.7,335.0 415.2,335.0 415.7,335.0 416.2,335.0 416.7,335.0 417.2,335.0 417.7,334.9 418.2,334.8 418.7,334.7 419.2,334.6 419.7,334.5 420.2,334.6 420.7,335.0 421.2,335.5 421.7,336.1 422.2,336.8 422.7,337.3 423.2,337.8 423.7,338.4 424.2,339.0 424.7,339.5 425.2,339.8 425.7,339.9 426.2,340.0 426.7,340.0 427.2,340.0 427.7,340.1 428.2,340.1 428.7,340.1 429.2,340.1 429.7,340.2 430.2,340.2 430.7,340.2 431.2,340.2 431.7,340.2 432.2,340.2 432.7,340.2 433.2,340.2 433.7,340.2 434.2,340.2 434.7,340.2 435.2,340.2 435.7,340.2 436.2,340.2 436.7,340.2 437.2,340.2 437.7,340.2 438.2,340.2 438.7,340.2" stroke="#ee4a3a" class="cv"/>
</g>
<rect x="258.7" y="191.0" width="180.3" height="149.6" class="fr"/>
<line x1="409.7" y1="201.70" x2="429.7" y2="201.70" stroke="#c77cf0" class="lg"/>
<text y="205.00" class="lt"><tspan x="370.60" class="it">t</tspan><tspan x="374.40" class="dj">/</tspan><tspan x="378.70" class="dj it">τ</tspan><tspan x="385.90" class="dj" style="font-size:9.4px">=</tspan><tspan x="395.90">1</tspan></text>
<line x1="409.7" y1="212.68" x2="429.7" y2="212.68" stroke="#7dcdaf" class="lg"/>
<text x="400.70" y="215.98" class="lt" text-anchor="end">2</text>
<line x1="409.7" y1="223.66" x2="429.7" y2="223.66" stroke="#a6daf5" class="lg"/>
<text x="400.70" y="226.96" class="lt" text-anchor="end">3</text>
<line x1="409.7" y1="234.64" x2="429.7" y2="234.64" stroke="#f2c872" class="lg"/>
<text x="400.70" y="237.94" class="lt" text-anchor="end">4</text>
<line x1="409.7" y1="245.62" x2="429.7" y2="245.62" stroke="#f5ec9a" class="lg"/>
<text x="400.70" y="248.92" class="lt" text-anchor="end">5</text>
<line x1="409.7" y1="256.60" x2="429.7" y2="256.60" stroke="#6aaad8" class="lg"/>
<text x="400.70" y="259.90" class="lt" text-anchor="end">6</text>
<line x1="409.7" y1="267.58" x2="429.7" y2="267.58" stroke="#f27a6a" class="lg"/>
<text x="400.70" y="270.88" class="lt" text-anchor="end">7</text>
<text x="269.7" y="211.30" class="pl">(d)</text>
<text x="269.3" y="228.80" class="st">St = 1.0</text>
<text class="ax"><tspan x="316.45" y="362.20">(</tspan><tspan x="320.05" y="362.20" class="it">x</tspan><tspan x="325.85" y="365.10" class="sb">3</tspan><tspan x="333.55" y="362.20">−</tspan><tspan x="344.05" y="362.20" class="it">L</tspan><tspan x="351.05" y="365.10" class="sb">3</tspan><tspan x="354.45" y="363.10" class="sl">/</tspan><tspan x="359.15" y="362.20">2</tspan><tspan x="363.75" y="362.20">)</tspan><tspan x="368.15" y="363.10" class="sl">/</tspan><tspan x="373.05" y="362.20" class="it">ℓ</tspan></text>
<text transform="translate(236.60,277.20) rotate(-90)" class="yl2"><tspan class="br2" x="-0.9" y="0.3">⟨</tspan><tspan class="it" x="3.7" y="0">v</tspan><tspan x="7.2" y="0">′</tspan><tspan class="sb2" x="8.2" y="1.9">3</tspan><tspan class="it" x="11.5" y="0">θ</tspan><tspan x="16.9" y="0">′</tspan><tspan class="br2" x="19.1" y="0.3">⟩</tspan></text>
<text x="32.20" y="525.90" class="tk" text-anchor="end">0</text>
<text x="32.20" y="504.53" class="tk" text-anchor="end">0.05</text>
<line x1="37.1" y1="501.73" x2="39.6" y2="501.73" class="tm"/>
<text x="32.20" y="483.16" class="tk" text-anchor="end">0.1</text>
<line x1="37.1" y1="480.36" x2="39.6" y2="480.36" class="tm"/>
<text x="32.20" y="461.79" class="tk" text-anchor="end">0.15</text>
<line x1="37.1" y1="458.99" x2="39.6" y2="458.99" class="tm"/>
<text x="32.20" y="440.41" class="tk" text-anchor="end">0.2</text>
<line x1="37.1" y1="437.61" x2="39.6" y2="437.61" class="tm"/>
<text x="32.20" y="419.04" class="tk" text-anchor="end">0.25</text>
<line x1="37.1" y1="416.24" x2="39.6" y2="416.24" class="tm"/>
<text x="32.20" y="397.67" class="tk" text-anchor="end">0.3</text>
<line x1="37.1" y1="394.87" x2="39.6" y2="394.87" class="tm"/>
<text x="32.20" y="376.30" class="tk" text-anchor="end">0.35</text>
<text x="42.90" y="532.90" class="tk" text-anchor="middle">-8</text>
<line x1="42.40" y1="523.1" x2="42.40" y2="520.6" class="tm"/>
<text x="64.11" y="532.90" class="tk" text-anchor="middle">-6</text>
<line x1="63.61" y1="523.1" x2="63.61" y2="520.6" class="tm"/>
<text x="85.33" y="532.90" class="tk" text-anchor="middle">-4</text>
<line x1="84.83" y1="523.1" x2="84.83" y2="520.6" class="tm"/>
<text x="106.54" y="532.90" class="tk" text-anchor="middle">-2</text>
<line x1="106.04" y1="523.1" x2="106.04" y2="520.6" class="tm"/>
<text x="127.75" y="532.90" class="tk" text-anchor="middle">0</text>
<line x1="127.25" y1="523.1" x2="127.25" y2="520.6" class="tm"/>
<text x="148.96" y="532.90" class="tk" text-anchor="middle">2</text>
<line x1="148.46" y1="523.1" x2="148.46" y2="520.6" class="tm"/>
<text x="170.17" y="532.90" class="tk" text-anchor="middle">4</text>
<line x1="169.67" y1="523.1" x2="169.67" y2="520.6" class="tm"/>
<text x="191.39" y="532.90" class="tk" text-anchor="middle">6</text>
<line x1="190.89" y1="523.1" x2="190.89" y2="520.6" class="tm"/>
<text x="212.60" y="532.90" class="tk" text-anchor="middle">8</text>
<line x1="212.10" y1="523.1" x2="212.10" y2="520.6" class="tm"/>
<clipPath id="c4"><rect x="37.1" y="372.5" width="180.3" height="150.2"/></clipPath>
<g clip-path="url(#c4)">
<polyline points="37.1,522.7 37.6,522.7 38.1,522.7 38.6,522.7 39.1,522.7 39.6,522.7 40.1,522.7 40.6,522.7 41.1,522.7 41.6,522.7 42.1,522.7 42.6,522.7 43.1,522.7 43.6,522.7 44.1,522.7 44.6,522.7 45.1,522.7 45.6,522.7 46.1,522.7 46.6,522.7 47.1,522.7 47.6,522.7 48.1,522.7 48.6,522.7 49.1,522.7 49.6,522.7 50.1,522.7 50.6,522.7 51.1,522.7 51.6,522.7 52.1,522.7 52.6,522.7 53.1,522.7 53.6,522.7 54.1,522.7 54.6,522.7 55.1,522.7 55.6,522.7 56.1,522.7 56.6,522.7 57.1,522.7 57.6,522.7 58.1,522.7 58.6,522.7 59.1,522.7 59.6,522.7 60.1,522.7 60.6,522.7 61.1,522.7 61.6,522.7 62.1,522.7 62.6,522.7 63.1,522.7 63.6,522.7 64.1,522.7 64.6,522.7 65.1,522.7 65.6,522.7 66.1,522.7 66.6,522.7 67.1,522.7 67.6,522.7 68.1,522.7 68.6,522.7 69.1,522.7 69.6,522.7 70.1,522.7 70.6,522.7 71.1,522.7 71.6,522.7 72.1,522.7 72.6,522.7 73.1,522.7 73.6,522.7 74.1,522.7 74.6,522.7 75.1,522.7 75.6,522.7 76.1,522.7 76.6,522.7 77.1,522.7 77.6,522.7 78.1,522.7 78.6,522.7 79.1,522.7 79.6,522.7 80.1,522.7 80.6,522.7 81.1,522.7 81.6,522.7 82.1,522.7 82.6,522.7 83.1,522.7 83.6,522.7 84.1,522.7 84.6,522.7 85.1,522.7 85.6,522.7 86.1,522.7 86.6,522.7 87.1,522.7 87.6,522.7 88.1,522.7 88.6,522.7 89.1,522.7 89.6,522.7 90.1,522.7 90.6,522.7 91.1,522.7 91.6,522.7 92.1,522.7 92.6,522.7 93.1,522.7 93.6,522.7 94.1,522.7 94.6,522.7 95.1,522.7 95.6,522.7 96.1,522.7 96.6,522.7 97.1,522.7 97.6,522.7 98.1,522.7 98.6,522.7 99.1,522.7 99.6,522.7 100.1,522.7 100.6,522.7 101.1,522.6 101.6,522.6 102.1,522.5 102.6,522.5 103.1,522.4 103.6,522.3 104.1,522.3 104.6,522.1 105.1,521.8 105.6,521.1 106.1,520.3 106.6,519.3 107.1,518.2 107.6,517.0 108.1,515.7 108.6,514.1 109.1,512.2 109.6,510.0 110.1,507.7 110.6,505.3 111.1,502.7 111.6,499.7 112.1,496.6 112.6,493.2 113.1,489.6 113.6,485.5 114.1,481.4 114.6,477.6 115.1,474.3 115.6,471.1 116.1,467.7 116.6,463.8 117.1,459.5 117.6,455.0 118.1,450.8 118.6,446.0 119.1,438.5 119.6,431.5 120.1,426.1 120.6,421.4 121.1,417.2 121.6,413.2 122.1,409.1 122.6,405.1 123.1,401.7 123.6,398.7 124.1,396.1 124.6,393.5 125.1,390.8 125.6,387.5 126.1,385.6 126.6,384.8 127.1,384.4 127.6,384.3 128.1,384.7 128.6,385.4 129.1,386.8 129.6,389.6 130.1,392.5 130.6,395.1 131.1,397.9 131.6,401.0 132.1,404.5 132.6,408.8 133.1,413.2 133.6,417.7 134.1,422.3 134.6,426.8 135.1,431.2 135.6,436.1 136.1,441.7 136.6,447.0 137.1,452.2 137.6,456.7 138.1,459.5 138.6,461.3 139.1,463.7 139.6,467.9 140.1,472.6 140.6,477.1 141.1,481.7 141.6,486.0 142.1,489.7 142.6,493.1 143.1,496.2 143.6,499.1 144.1,501.6 144.6,503.9 145.1,506.2 145.6,508.3 146.1,510.3 146.6,512.0 147.1,513.5 147.6,514.7 148.1,515.7 148.6,516.6 149.1,517.5 149.6,518.3 150.1,519.0 150.6,519.6 151.1,520.2 151.6,520.6 152.1,520.9 152.6,521.2 153.1,521.4 153.6,521.6 154.1,521.8 154.6,522.0 155.1,522.2 155.6,522.3 156.1,522.4 156.6,522.5 157.1,522.6 157.6,522.7 158.1,522.7 158.6,522.7 159.1,522.7 159.6,522.7 160.1,522.7 160.6,522.7 161.1,522.7 161.6,522.7 162.1,522.7 162.6,522.7 163.1,522.7 163.6,522.7 164.1,522.7 164.6,522.7 165.1,522.7 165.6,522.7 166.1,522.7 166.6,522.7 167.1,522.7 167.6,522.7 168.1,522.7 168.6,522.7 169.1,522.7 169.6,522.7 170.1,522.7 170.6,522.7 171.1,522.7 171.6,522.7 172.1,522.7 172.6,522.7 173.1,522.7 173.6,522.7 174.1,522.7 174.6,522.7 175.1,522.7 175.6,522.7 176.1,522.7 176.6,522.7 177.1,522.7 177.6,522.7 178.1,522.7 178.6,522.7 179.1,522.7 179.6,522.7 180.1,522.7 180.6,522.7 181.1,522.7 181.6,522.7 182.1,522.7 182.6,522.7 183.1,522.7 183.6,522.7 184.1,522.7 184.6,522.7 185.1,522.7 185.6,522.7 186.1,522.7 186.6,522.7 187.1,522.7 187.6,522.7 188.1,522.7 188.6,522.7 189.1,522.7 189.6,522.7 190.1,522.7 190.6,522.7 191.1,522.7 191.6,522.7 192.1,522.7 192.6,522.7 193.1,522.7 193.6,522.7 194.1,522.7 194.6,522.7 195.1,522.7 195.6,522.7 196.1,522.7 196.6,522.5 197.1,522.3 197.6,522.1 198.1,521.9 198.6,521.7 199.1,521.6 199.6,521.6 200.1,521.6 200.6,521.7 201.1,521.9 201.6,522.1 202.1,522.4 202.6,522.6 203.1,522.7 203.6,522.7 204.1,522.7 204.6,522.7 205.1,522.7 205.6,522.7 206.1,522.7 206.6,522.7 207.1,522.7 207.6,522.7 208.1,522.7 208.6,522.7 209.1,522.7 209.6,522.7 210.1,522.7 210.6,522.7 211.1,522.7 211.6,522.7 212.1,522.7 212.6,522.7 213.1,522.7 213.6,522.7 214.1,522.7 214.6,522.7 215.1,522.7 215.6,522.7 216.1,522.7 216.6,522.7 217.1,522.7" stroke="#b44ef0" class="cv"/>
<polyline points="37.1,522.7 37.6,522.7 38.1,522.7 38.6,522.7 39.1,522.7 39.6,522.7 40.1,522.7 40.6,522.7 41.1,522.7 41.6,522.7 42.1,522.7 42.6,522.7 43.1,522.7 43.6,522.7 44.1,522.7 44.6,522.7 45.1,522.7 45.6,522.7 46.1,522.7 46.6,522.7 47.1,522.7 47.6,522.7 48.1,522.7 48.6,522.7 49.1,522.7 49.6,522.7 50.1,522.7 50.6,522.7 51.1,522.7 51.6,522.7 52.1,522.7 52.6,522.7 53.1,522.7 53.6,522.7 54.1,522.7 54.6,522.7 55.1,522.7 55.6,522.7 56.1,522.7 56.6,522.7 57.1,522.7 57.6,522.7 58.1,522.7 58.6,522.7 59.1,522.7 59.6,522.7 60.1,522.7 60.6,522.7 61.1,522.7 61.6,522.7 62.1,522.7 62.6,522.7 63.1,522.7 63.6,522.7 64.1,522.7 64.6,522.7 65.1,522.7 65.6,522.7 66.1,522.7 66.6,522.6 67.1,522.6 67.6,522.5 68.1,522.5 68.6,522.3 69.1,522.0 69.6,521.5 70.1,521.0 70.6,520.4 71.1,519.8 71.6,519.2 72.1,518.7 72.6,518.3 73.1,518.1 73.6,518.0 74.1,518.1 74.6,518.4 75.1,518.8 75.6,519.2 76.1,519.6 76.6,520.0 77.1,520.3 77.6,520.4 78.1,520.5 78.6,520.6 79.1,520.7 79.6,520.8 80.1,520.9 80.6,520.9 81.1,521.0 81.6,521.0 82.1,521.1 82.6,521.1 83.1,521.1 83.6,521.1 84.1,521.0 84.6,520.9 85.1,520.8 85.6,520.6 86.1,520.4 86.6,520.3 87.1,520.1 87.6,519.9 88.1,519.8 88.6,519.7 89.1,519.5 89.6,519.4 90.1,519.3 90.6,519.2 91.1,519.1 91.6,518.9 92.1,518.8 92.6,518.6 93.1,518.4 93.6,518.1 94.1,517.8 94.6,517.5 95.1,517.2 95.6,516.8 96.1,516.3 96.6,515.8 97.1,515.3 97.6,514.8 98.1,514.1 98.6,513.5 99.1,512.8 99.6,511.9 100.1,510.9 100.6,509.9 101.1,508.7 101.6,507.4 102.1,506.0 102.6,504.5 103.1,502.8 103.6,500.8 104.1,498.5 104.6,496.1 105.1,493.7 105.6,491.3 106.1,489.1 106.6,486.8 107.1,484.5 107.6,482.0 108.1,479.4 108.6,476.5 109.1,473.1 109.6,469.7 110.1,466.4 110.6,463.3 111.1,460.2 111.6,457.2 112.1,454.3 112.6,451.4 113.1,448.5 113.6,445.6 114.1,442.9 114.6,440.6 115.1,438.7 115.6,437.0 116.1,435.3 116.6,433.7 117.1,432.0 117.6,430.3 118.1,428.6 118.6,427.0 119.1,425.4 119.6,423.8 120.1,422.1 120.6,420.5 121.1,419.0 121.6,417.8 122.1,416.6 122.6,415.4 123.1,414.4 123.6,413.7 124.1,413.4 124.6,413.5 125.1,413.7 125.6,414.1 126.1,414.6 126.6,415.1 127.1,415.6 127.6,416.4 128.1,417.4 128.6,418.6 129.1,419.9 129.6,421.3 130.1,422.6 130.6,423.9 131.1,425.0 131.6,426.1 132.1,427.2 132.6,428.2 133.1,429.3 133.6,430.4 134.1,431.6 134.6,432.9 135.1,434.3 135.6,435.8 136.1,437.6 136.6,439.4 137.1,441.3 137.6,443.3 138.1,445.2 138.6,447.2 139.1,449.2 139.6,451.2 140.1,453.3 140.6,455.4 141.1,457.8 141.6,460.2 142.1,462.5 142.6,464.6 143.1,466.4 143.6,468.0 144.1,469.5 144.6,471.0 145.1,472.7 145.6,474.8 146.1,477.2 146.6,479.9 147.1,482.6 147.6,485.3 148.1,487.8 148.6,490.1 149.1,492.3 149.6,494.4 150.1,496.5 150.6,498.5 151.1,500.4 151.6,502.1 152.1,503.8 152.6,505.5 153.1,507.2 153.6,508.8 154.1,510.3 154.6,511.6 155.1,512.7 155.6,513.5 156.1,514.2 156.6,514.8 157.1,515.3 157.6,515.8 158.1,516.2 158.6,516.6 159.1,517.0 159.6,517.3 160.1,517.6 160.6,517.8 161.1,517.9 161.6,518.0 162.1,518.2 162.6,518.3 163.1,518.5 163.6,518.7 164.1,519.3 164.6,520.4 165.1,521.6 165.6,522.4 166.1,522.6 166.6,522.7 167.1,522.7 167.6,522.7 168.1,522.7 168.6,522.7 169.1,522.7 169.6,522.7 170.1,522.7 170.6,522.7 171.1,522.7 171.6,522.7 172.1,522.7 172.6,522.7 173.1,522.7 173.6,522.7 174.1,522.7 174.6,522.7 175.1,522.7 175.6,522.7 176.1,522.7 176.6,522.7 177.1,522.7 177.6,522.7 178.1,522.7 178.6,522.7 179.1,522.7 179.6,522.7 180.1,522.7 180.6,522.7 181.1,522.7 181.6,522.7 182.1,522.7 182.6,522.7 183.1,522.7 183.6,522.7 184.1,522.7 184.6,522.7 185.1,522.7 185.6,522.7 186.1,522.7 186.6,522.7 187.1,522.7 187.6,522.7 188.1,522.7 188.6,522.7 189.1,522.4 189.6,522.1 190.1,521.7 190.6,521.5 191.1,521.4 191.6,521.5 192.1,521.6 192.6,521.8 193.1,522.1 193.6,522.5 194.1,522.7 194.6,522.7 195.1,522.7 195.6,522.7 196.1,522.7 196.6,522.7 197.1,522.7 197.6,522.7 198.1,522.7 198.6,522.7 199.1,522.7 199.6,522.7 200.1,522.7 200.6,522.7 201.1,522.7 201.6,522.7 202.1,522.7 202.6,522.7 203.1,522.7 203.6,522.7 204.1,522.7 204.6,522.7 205.1,522.7 205.6,522.7 206.1,522.7 206.6,522.7 207.1,522.7 207.6,522.7 208.1,522.7 208.6,522.7 209.1,522.7 209.6,522.7 210.1,522.7 210.6,522.7 211.1,522.7 211.6,522.7 212.1,522.7 212.6,522.7 213.1,522.7 213.6,522.7 214.1,522.7 214.6,522.7 215.1,522.7 215.6,522.7 216.1,522.7 216.6,522.7 217.1,522.7" stroke="#3fb88f" class="cv"/>
<polyline points="37.1,522.7 37.6,522.7 38.1,522.7 38.6,522.7 39.1,522.7 39.6,522.7 40.1,522.7 40.6,522.7 41.1,522.7 41.6,522.7 42.1,522.7 42.6,522.7 43.1,522.7 43.6,522.7 44.1,522.7 44.6,522.7 45.1,522.7 45.6,522.7 46.1,522.7 46.6,522.7 47.1,522.7 47.6,522.7 48.1,522.7 48.6,522.7 49.1,522.7 49.6,522.7 50.1,522.7 50.6,522.7 51.1,522.7 51.6,522.7 52.1,522.7 52.6,522.7 53.1,522.7 53.6,522.7 54.1,522.7 54.6,522.7 55.1,522.7 55.6,522.7 56.1,522.7 56.6,522.7 57.1,522.7 57.6,522.7 58.1,522.7 58.6,522.7 59.1,522.7 59.6,522.7 60.1,522.7 60.6,522.7 61.1,522.7 61.6,522.7 62.1,522.7 62.6,522.7 63.1,522.7 63.6,522.7 64.1,522.7 64.6,522.7 65.1,522.7 65.6,522.7 66.1,522.7 66.6,522.7 67.1,522.7 67.6,522.7 68.1,522.7 68.6,522.7 69.1,522.7 69.6,522.7 70.1,522.7 70.6,522.7 71.1,522.7 71.6,522.7 72.1,522.7 72.6,522.7 73.1,522.7 73.6,522.7 74.1,522.6 74.6,522.5 75.1,522.5 75.6,522.4 76.1,522.3 76.6,522.2 77.1,522.0 77.6,521.9 78.1,521.8 78.6,521.6 79.1,521.5 79.6,521.3 80.1,521.1 80.6,520.8 81.1,520.3 81.6,519.4 82.1,518.5 82.6,517.4 83.1,516.4 83.6,515.4 84.1,514.6 84.6,513.9 85.1,513.4 85.6,512.8 86.1,512.3 86.6,511.8 87.1,511.3 87.6,510.9 88.1,510.5 88.6,510.0 89.1,509.6 89.6,509.2 90.1,508.9 90.6,508.5 91.1,508.1 91.6,507.8 92.1,507.4 92.6,507.1 93.1,506.8 93.6,506.4 94.1,505.7 94.6,504.3 95.1,502.5 95.6,500.5 96.1,498.7 96.6,497.1 97.1,495.9 97.6,494.7 98.1,493.7 98.6,492.6 99.1,491.5 99.6,490.3 100.1,488.9 100.6,487.5 101.1,485.9 101.6,484.2 102.1,482.4 102.6,480.7 103.1,479.0 103.6,477.3 104.1,475.5 104.6,473.7 105.1,471.8 105.6,470.1 106.1,468.5 106.6,467.0 107.1,465.7 107.6,464.6 108.1,463.5 108.6,462.4 109.1,461.2 109.6,459.7 110.1,458.1 110.6,456.3 111.1,454.5 111.6,452.8 112.1,451.1 112.6,449.6 113.1,448.4 113.6,447.5 114.1,446.9 114.6,446.6 115.1,446.3 115.6,446.0 116.1,445.8 116.6,445.6 117.1,445.4 117.6,445.2 118.1,445.0 118.6,444.7 119.1,444.3 119.6,443.9 120.1,443.5 120.6,443.0 121.1,442.5 121.6,442.0 122.1,441.5 122.6,441.1 123.1,440.6 123.6,440.2 124.1,439.8 124.6,439.5 125.1,439.2 125.6,438.8 126.1,438.5 126.6,438.2 127.1,437.9 127.6,437.6 128.1,437.3 128.6,437.1 129.1,436.9 129.6,436.8 130.1,436.8 130.6,436.9 131.1,437.0 131.6,437.2 132.1,437.5 132.6,437.8 133.1,438.2 133.6,438.8 134.1,439.6 134.6,440.7 135.1,441.9 135.6,443.1 136.1,444.3 136.6,445.7 137.1,447.2 137.6,448.8 138.1,450.5 138.6,452.0 139.1,453.5 139.6,454.9 140.1,456.4 140.6,457.9 141.1,459.4 141.6,460.7 142.1,462.0 142.6,463.2 143.1,464.2 143.6,465.1 144.1,465.8 144.6,466.4 145.1,467.0 145.6,467.6 146.1,468.2 146.6,469.1 147.1,470.1 147.6,471.4 148.1,472.7 148.6,474.2 149.1,475.7 149.6,477.1 150.1,478.6 150.6,480.0 151.1,481.5 151.6,483.0 152.1,484.6 152.6,486.1 153.1,487.7 153.6,489.3 154.1,490.9 154.6,492.6 155.1,494.3 155.6,496.0 156.1,497.7 156.6,499.2 157.1,500.7 157.6,502.2 158.1,503.6 158.6,505.1 159.1,506.5 159.6,507.8 160.1,509.0 160.6,510.1 161.1,511.0 161.6,511.7 162.1,512.4 162.6,512.9 163.1,513.5 163.6,514.0 164.1,514.4 164.6,514.8 165.1,515.2 165.6,515.6 166.1,515.9 166.6,516.2 167.1,516.4 167.6,516.7 168.1,517.1 168.6,517.9 169.1,519.0 169.6,520.2 170.1,521.1 170.6,521.4 171.1,521.5 171.6,521.6 172.1,521.7 172.6,521.8 173.1,521.8 173.6,521.9 174.1,521.9 174.6,521.9 175.1,522.0 175.6,522.0 176.1,522.0 176.6,522.1 177.1,522.1 177.6,522.2 178.1,522.2 178.6,522.3 179.1,522.3 179.6,522.4 180.1,522.4 180.6,522.5 181.1,522.5 181.6,522.6 182.1,522.6 182.6,522.7 183.1,522.7 183.6,522.7 184.1,522.7 184.6,522.7 185.1,522.7 185.6,522.7 186.1,522.7 186.6,522.7 187.1,522.7 187.6,522.7 188.1,522.7 188.6,522.7 189.1,522.7 189.6,522.7 190.1,522.7 190.6,522.7 191.1,522.7 191.6,522.7 192.1,522.7 192.6,522.7 193.1,522.7 193.6,522.7 194.1,522.7 194.6,522.7 195.1,522.7 195.6,522.7 196.1,522.7 196.6,522.7 197.1,522.7 197.6,522.7 198.1,522.7 198.6,522.7 199.1,522.7 199.6,522.7 200.1,522.7 200.6,522.7 201.1,522.7 201.6,522.7 202.1,522.7 202.6,522.7 203.1,522.7 203.6,522.7 204.1,522.7 204.6,522.7 205.1,522.7 205.6,522.7 206.1,522.7 206.6,522.7 207.1,522.7 207.6,522.7 208.1,522.7 208.6,522.7 209.1,522.7 209.6,522.7 210.1,522.7 210.6,522.7 211.1,522.7 211.6,522.7 212.1,522.7 212.6,522.7 213.1,522.7 213.6,522.7 214.1,522.7 214.6,522.7 215.1,522.7 215.6,522.7 216.1,522.7 216.6,522.7 217.1,522.7" stroke="#7cc8f0" class="cv"/>
<polyline points="37.1,522.7 37.6,522.7 38.1,522.7 38.6,522.7 39.1,522.7 39.6,522.7 40.1,522.7 40.6,522.7 41.1,522.7 41.6,522.7 42.1,522.7 42.6,522.7 43.1,522.7 43.6,522.7 44.1,522.7 44.6,522.7 45.1,522.7 45.6,522.7 46.1,522.7 46.6,522.7 47.1,522.7 47.6,522.7 48.1,522.7 48.6,522.7 49.1,522.7 49.6,522.7 50.1,522.7 50.6,522.7 51.1,522.7 51.6,522.7 52.1,522.7 52.6,522.7 53.1,522.7 53.6,522.7 54.1,522.7 54.6,522.7 55.1,522.7 55.6,522.7 56.1,522.7 56.6,522.7 57.1,522.7 57.6,522.7 58.1,522.7 58.6,522.7 59.1,522.7 59.6,522.6 60.1,522.6 60.6,522.5 61.1,522.4 61.6,522.4 62.1,522.3 62.6,522.2 63.1,522.0 63.6,521.8 64.1,521.6 64.6,521.4 65.1,521.1 65.6,520.8 66.1,520.5 66.6,520.1 67.1,519.8 67.6,519.4 68.1,519.1 68.6,518.7 69.1,518.4 69.6,518.0 70.1,517.7 70.6,517.4 71.1,517.1 71.6,516.8 72.1,516.6 72.6,516.4 73.1,516.1 73.6,515.9 74.1,515.7 74.6,515.5 75.1,515.2 75.6,515.0 76.1,514.7 76.6,514.4 77.1,514.0 77.6,513.6 78.1,513.2 78.6,512.7 79.1,512.2 79.6,511.7 80.1,511.1 80.6,510.6 81.1,510.0 81.6,509.5 82.1,508.9 82.6,508.3 83.1,507.8 83.6,507.2 84.1,506.7 84.6,506.1 85.1,505.5 85.6,504.9 86.1,504.2 86.6,503.5 87.1,502.7 87.6,501.9 88.1,501.0 88.6,500.0 89.1,498.8 89.6,497.6 90.1,496.4 90.6,495.1 91.1,493.9 91.6,492.6 92.1,491.5 92.6,490.4 93.1,489.4 93.6,488.4 94.1,487.3 94.6,486.0 95.1,484.7 95.6,483.5 96.1,482.3 96.6,481.4 97.1,480.7 97.6,480.0 98.1,479.4 98.6,478.9 99.1,478.4 99.6,477.8 100.1,477.2 100.6,476.6 101.1,475.8 101.6,475.0 102.1,474.0 102.6,473.0 103.1,471.9 103.6,470.9 104.1,469.9 104.6,468.9 105.1,467.8 105.6,466.6 106.1,465.5 106.6,464.4 107.1,463.3 107.6,462.3 108.1,461.4 108.6,460.6 109.1,460.0 109.6,459.5 110.1,459.1 110.6,458.8 111.1,458.5 111.6,458.2 112.1,457.9 112.6,457.7 113.1,457.4 113.6,457.2 114.1,457.0 114.6,456.8 115.1,456.6 115.6,456.4 116.1,456.2 116.6,456.0 117.1,455.7 117.6,455.5 118.1,455.2 118.6,454.9 119.1,454.7 119.6,454.4 120.1,454.1 120.6,453.9 121.1,453.6 121.6,453.4 122.1,453.2 122.6,453.0 123.1,452.8 123.6,452.6 124.1,452.4 124.6,452.3 125.1,452.1 125.6,451.9 126.1,451.8 126.6,451.7 127.1,451.6 127.6,451.5 128.1,451.4 128.6,451.4 129.1,451.4 129.6,451.5 130.1,451.6 130.6,451.7 131.1,451.9 131.6,452.1 132.1,452.2 132.6,452.4 133.1,452.6 133.6,452.8 134.1,453.0 134.6,453.2 135.1,453.4 135.6,453.5 136.1,453.7 136.6,453.9 137.1,454.1 137.6,454.4 138.1,454.6 138.6,454.9 139.1,455.2 139.6,455.6 140.1,456.1 140.6,456.6 141.1,457.2 141.6,457.8 142.1,458.4 142.6,459.2 143.1,459.9 143.6,460.7 144.1,461.7 144.6,462.8 145.1,464.0 145.6,465.2 146.1,466.5 146.6,467.8 147.1,468.9 147.6,470.0 148.1,470.9 148.6,471.8 149.1,472.7 149.6,473.5 150.1,474.3 150.6,475.1 151.1,475.9 151.6,476.8 152.1,477.8 152.6,478.9 153.1,480.0 153.6,481.3 154.1,482.6 154.6,483.9 155.1,485.3 155.6,486.6 156.1,487.8 156.6,489.0 157.1,490.2 157.6,491.3 158.1,492.3 158.6,493.4 159.1,494.4 159.6,495.3 160.1,496.2 160.6,497.1 161.1,497.8 161.6,498.5 162.1,499.2 162.6,499.9 163.1,500.5 163.6,501.2 164.1,502.0 164.6,502.8 165.1,503.8 165.6,505.2 166.1,506.7 166.6,508.2 167.1,509.5 167.6,510.5 168.1,510.9 168.6,511.1 169.1,511.3 169.6,511.4 170.1,511.5 170.6,511.5 171.1,511.6 171.6,511.7 172.1,511.9 172.6,512.0 173.1,512.4 173.6,512.9 174.1,513.5 174.6,514.1 175.1,514.8 175.6,515.5 176.1,516.2 176.6,516.8 177.1,517.5 177.6,518.2 178.1,518.9 178.6,519.5 179.1,520.2 179.6,520.8 180.1,521.4 180.6,522.0 181.1,522.5 181.6,522.6 182.1,522.6 182.6,522.7 183.1,522.7 183.6,522.7 184.1,522.7 184.6,522.7 185.1,522.7 185.6,522.7 186.1,522.7 186.6,522.7 187.1,522.7 187.6,522.7 188.1,522.7 188.6,522.7 189.1,522.7 189.6,522.7 190.1,522.7 190.6,522.7 191.1,522.7 191.6,522.7 192.1,522.7 192.6,522.7 193.1,522.7 193.6,522.7 194.1,522.7 194.6,522.7 195.1,522.7 195.6,522.7 196.1,522.7 196.6,522.7 197.1,522.7 197.6,522.7 198.1,522.7 198.6,522.7 199.1,522.7 199.6,522.7 200.1,522.7 200.6,522.7 201.1,522.7 201.6,522.7 202.1,522.7 202.6,522.7 203.1,522.7 203.6,522.7 204.1,522.7 204.6,522.7 205.1,522.7 205.6,522.7 206.1,522.7 206.6,522.7 207.1,522.7 207.6,522.7 208.1,522.7 208.6,522.7 209.1,522.7 209.6,522.7 210.1,522.7 210.6,522.7 211.1,522.7 211.6,522.7 212.1,522.7 212.6,522.7 213.1,522.7 213.6,522.7 214.1,522.7 214.6,522.7 215.1,522.7 215.6,522.7 216.1,522.7 216.6,522.7 217.1,522.7" stroke="#eeb23c" class="cv"/>
<polyline points="37.1,522.7 37.6,522.7 38.1,522.7 38.6,522.7 39.1,522.7 39.6,522.7 40.1,522.7 40.6,522.7 41.1,522.7 41.6,522.7 42.1,522.7 42.6,522.7 43.1,522.7 43.6,522.7 44.1,522.7 44.6,522.7 45.1,522.7 45.6,522.7 46.1,522.7 46.6,522.7 47.1,522.7 47.6,522.7 48.1,522.7 48.6,522.7 49.1,522.7 49.6,522.7 50.1,522.7 50.6,522.7 51.1,522.7 51.6,522.7 52.1,522.7 52.6,522.7 53.1,522.7 53.6,522.7 54.1,522.6 54.6,522.6 55.1,522.6 55.6,522.6 56.1,522.5 56.6,522.5 57.1,522.4 57.6,522.4 58.1,522.3 58.6,522.2 59.1,522.1 59.6,522.0 60.1,521.9 60.6,521.8 61.1,521.7 61.6,521.6 62.1,521.5 62.6,521.3 63.1,521.0 63.6,520.6 64.1,520.2 64.6,519.8 65.1,519.3 65.6,518.9 66.1,518.4 66.6,518.1 67.1,517.8 67.6,517.5 68.1,517.3 68.6,517.1 69.1,516.9 69.6,516.8 70.1,516.6 70.6,516.5 71.1,516.3 71.6,516.1 72.1,515.9 72.6,515.6 73.1,515.3 73.6,514.9 74.1,514.4 74.6,513.9 75.1,513.4 75.6,512.9 76.1,512.3 76.6,511.7 77.1,511.2 77.6,510.6 78.1,510.1 78.6,509.6 79.1,509.1 79.6,508.6 80.1,508.1 80.6,507.6 81.1,507.1 81.6,506.6 82.1,506.1 82.6,505.6 83.1,505.1 83.6,504.6 84.1,504.1 84.6,503.7 85.1,503.3 85.6,502.9 86.1,502.4 86.6,502.0 87.1,501.5 87.6,501.0 88.1,500.4 88.6,499.7 89.1,498.9 89.6,497.8 90.1,496.5 90.6,495.2 91.1,494.0 91.6,493.0 92.1,492.0 92.6,491.0 93.1,490.0 93.6,489.1 94.1,488.2 94.6,487.4 95.1,486.6 95.6,485.8 96.1,485.1 96.6,484.5 97.1,483.9 97.6,483.3 98.1,482.7 98.6,482.1 99.1,481.5 99.6,480.9 100.1,480.2 100.6,479.5 101.1,478.8 101.6,478.1 102.1,477.3 102.6,476.5 103.1,475.8 103.6,475.0 104.1,474.2 104.6,473.5 105.1,472.7 105.6,471.8 106.1,471.0 106.6,470.1 107.1,469.2 107.6,468.4 108.1,467.7 108.6,467.0 109.1,466.5 109.6,466.1 110.1,465.8 110.6,465.5 111.1,465.3 111.6,465.1 112.1,464.9 112.6,464.7 113.1,464.5 113.6,464.4 114.1,464.2 114.6,464.1 115.1,463.9 115.6,463.7 116.1,463.5 116.6,463.3 117.1,463.0 117.6,462.8 118.1,462.4 118.6,462.1 119.1,461.7 119.6,461.3 120.1,460.9 120.6,460.5 121.1,460.1 121.6,459.7 122.1,459.3 122.6,458.9 123.1,458.4 123.6,458.0 124.1,457.4 124.6,456.9 125.1,456.4 125.6,455.9 126.1,455.5 126.6,455.2 127.1,455.1 127.6,455.1 128.1,455.3 128.6,455.6 129.1,455.9 129.6,456.3 130.1,456.7 130.6,457.1 131.1,457.4 131.6,457.9 132.1,458.3 132.6,458.8 133.1,459.3 133.6,459.8 134.1,460.3 134.6,460.7 135.1,461.1 135.6,461.5 136.1,461.7 136.6,461.9 137.1,462.1 137.6,462.2 138.1,462.4 138.6,462.5 139.1,462.6 139.6,462.8 140.1,463.0 140.6,463.2 141.1,463.5 141.6,464.0 142.1,464.5 142.6,465.0 143.1,465.6 143.6,466.2 144.1,466.8 144.6,467.3 145.1,467.8 145.6,468.2 146.1,468.7 146.6,469.1 147.1,469.5 147.6,470.0 148.1,470.5 148.6,471.1 149.1,471.7 149.6,472.5 150.1,473.3 150.6,474.2 151.1,475.1 151.6,476.0 152.1,477.0 152.6,477.9 153.1,478.8 153.6,479.7 154.1,480.6 154.6,481.5 155.1,482.3 155.6,483.2 156.1,484.1 156.6,484.9 157.1,485.8 157.6,486.7 158.1,487.6 158.6,488.4 159.1,489.4 159.6,490.3 160.1,491.2 160.6,492.1 161.1,493.0 161.6,493.8 162.1,494.6 162.6,495.3 163.1,496.0 163.6,496.7 164.1,497.3 164.6,497.9 165.1,498.4 165.6,499.0 166.1,499.6 166.6,500.2 167.1,500.9 167.6,501.6 168.1,502.3 168.6,503.1 169.1,503.8 169.6,504.6 170.1,505.4 170.6,506.2 171.1,507.0 171.6,507.8 172.1,508.6 172.6,509.4 173.1,510.2 173.6,511.2 174.1,512.2 174.6,513.2 175.1,514.2 175.6,515.0 176.1,515.7 176.6,516.2 177.1,516.5 177.6,516.7 178.1,516.9 178.6,517.0 179.1,517.2 179.6,517.3 180.1,517.4 180.6,517.4 181.1,517.5 181.6,517.6 182.1,517.7 182.6,517.8 183.1,517.8 183.6,517.9 184.1,517.9 184.6,518.0 185.1,518.0 185.6,518.1 186.1,518.2 186.6,518.4 187.1,518.6 187.6,518.8 188.1,519.1 188.6,519.4 189.1,519.7 189.6,519.9 190.1,520.2 190.6,520.4 191.1,520.7 191.6,520.9 192.1,521.2 192.6,521.4 193.1,521.7 193.6,521.9 194.1,522.1 194.6,522.2 195.1,522.3 195.6,522.4 196.1,522.5 196.6,522.5 197.1,522.6 197.6,522.6 198.1,522.7 198.6,522.7 199.1,522.7 199.6,522.7 200.1,522.7 200.6,522.7 201.1,522.7 201.6,522.7 202.1,522.7 202.6,522.7 203.1,522.7 203.6,522.7 204.1,522.7 204.6,522.7 205.1,522.7 205.6,522.7 206.1,522.7 206.6,522.7 207.1,522.7 207.6,522.7 208.1,522.7 208.6,522.7 209.1,522.7 209.6,522.7 210.1,522.7 210.6,522.7 211.1,522.7 211.6,522.7 212.1,522.7 212.6,522.7 213.1,522.7 213.6,522.7 214.1,522.7 214.6,522.7 215.1,522.7 215.6,522.7 216.1,522.7 216.6,522.7 217.1,522.7" stroke="#f2e46a" class="cv"/>
<polyline points="37.1,521.1 37.6,521.4 38.1,521.6 38.6,521.9 39.1,522.1 39.6,522.3 40.1,522.5 40.6,522.6 41.1,522.6 41.6,522.6 42.1,522.6 42.6,522.6 43.1,522.6 43.6,522.6 44.1,522.6 44.6,522.5 45.1,522.5 45.6,522.5 46.1,522.5 46.6,522.5 47.1,522.4 47.6,522.4 48.1,522.4 48.6,522.3 49.1,522.2 49.6,522.0 50.1,521.8 50.6,521.5 51.1,521.2 51.6,520.9 52.1,520.6 52.6,520.3 53.1,519.9 53.6,519.5 54.1,518.9 54.6,518.2 55.1,517.5 55.6,516.9 56.1,516.3 56.6,515.8 57.1,515.6 57.6,515.6 58.1,515.6 58.6,515.6 59.1,515.6 59.6,515.6 60.1,515.6 60.6,515.6 61.1,515.6 61.6,515.6 62.1,515.7 62.6,515.9 63.1,516.2 63.6,516.4 64.1,516.7 64.6,516.9 65.1,517.0 65.6,517.0 66.1,516.6 66.6,515.8 67.1,514.8 67.6,513.7 68.1,512.5 68.6,511.4 69.1,510.6 69.6,510.0 70.1,509.5 70.6,509.1 71.1,508.7 71.6,508.3 72.1,508.0 72.6,507.7 73.1,507.4 73.6,507.0 74.1,506.7 74.6,506.3 75.1,506.0 75.6,505.6 76.1,505.2 76.6,504.9 77.1,504.5 77.6,504.2 78.1,503.8 78.6,503.4 79.1,503.0 79.6,502.6 80.1,502.2 80.6,501.7 81.1,501.3 81.6,500.8 82.1,500.3 82.6,499.8 83.1,499.3 83.6,498.8 84.1,498.2 84.6,497.7 85.1,497.2 85.6,496.7 86.1,496.2 86.6,495.7 87.1,495.2 87.6,494.7 88.1,494.2 88.6,493.7 89.1,493.2 89.6,492.7 90.1,492.3 90.6,491.8 91.1,491.3 91.6,490.8 92.1,490.2 92.6,489.7 93.1,489.2 93.6,488.7 94.1,488.5 94.6,488.3 95.1,488.2 95.6,488.2 96.1,488.1 96.6,488.1 97.1,488.1 97.6,488.0 98.1,487.9 98.6,487.8 99.1,487.7 99.6,487.4 100.1,486.9 100.6,486.3 101.1,485.7 101.6,485.0 102.1,484.3 102.6,483.6 103.1,483.0 103.6,482.5 104.1,482.0 104.6,481.5 105.1,481.0 105.6,480.5 106.1,480.0 106.6,479.5 107.1,479.0 107.6,478.5 108.1,478.0 108.6,477.4 109.1,476.9 109.6,476.2 110.1,475.6 110.6,474.9 111.1,474.2 111.6,473.4 112.1,472.7 112.6,472.0 113.1,471.3 113.6,470.6 114.1,469.9 114.6,469.2 115.1,468.6 115.6,468.1 116.1,467.6 116.6,467.2 117.1,466.7 117.6,466.3 118.1,465.9 118.6,465.5 119.1,465.1 119.6,464.6 120.1,464.2 120.6,463.8 121.1,463.3 121.6,462.9 122.1,462.5 122.6,462.1 123.1,461.7 123.6,461.4 124.1,461.0 124.6,460.7 125.1,460.4 125.6,460.0 126.1,459.6 126.6,459.3 127.1,458.9 127.6,458.6 128.1,458.2 128.6,458.0 129.1,457.7 129.6,457.5 130.1,457.4 130.6,457.3 131.1,457.3 131.6,457.4 132.1,457.5 132.6,457.8 133.1,458.0 133.6,458.3 134.1,458.5 134.6,458.7 135.1,459.0 135.6,459.2 136.1,459.4 136.6,459.6 137.1,459.9 137.6,460.2 138.1,460.4 138.6,460.7 139.1,461.0 139.6,461.4 140.1,461.7 140.6,462.1 141.1,462.5 141.6,462.9 142.1,463.4 142.6,463.9 143.1,464.3 143.6,464.8 144.1,465.3 144.6,465.8 145.1,466.3 145.6,466.9 146.1,467.5 146.6,468.1 147.1,468.7 147.6,469.3 148.1,470.0 148.6,470.6 149.1,471.3 149.6,471.9 150.1,472.6 150.6,473.2 151.1,473.9 151.6,474.5 152.1,475.2 152.6,475.9 153.1,476.6 153.6,477.3 154.1,478.0 154.6,478.8 155.1,479.5 155.6,480.3 156.1,481.1 156.6,482.0 157.1,482.8 157.6,483.7 158.1,484.6 158.6,485.5 159.1,486.4 159.6,487.3 160.1,488.1 160.6,488.9 161.1,489.7 161.6,490.4 162.1,491.2 162.6,491.9 163.1,492.6 163.6,493.4 164.1,494.1 164.6,494.9 165.1,495.7 165.6,496.6 166.1,497.4 166.6,498.3 167.1,499.2 167.6,500.1 168.1,500.9 168.6,501.7 169.1,502.5 169.6,503.3 170.1,504.1 170.6,504.9 171.1,505.6 171.6,506.2 172.1,506.6 172.6,507.0 173.1,507.2 173.6,507.4 174.1,507.6 174.6,507.8 175.1,507.9 175.6,508.0 176.1,508.0 176.6,507.9 177.1,507.9 177.6,507.8 178.1,507.6 178.6,507.6 179.1,507.5 179.6,507.6 180.1,507.9 180.6,508.5 181.1,509.2 181.6,509.9 182.1,510.7 182.6,511.4 183.1,512.0 183.6,512.7 184.1,513.4 184.6,514.1 185.1,514.7 185.6,515.4 186.1,516.0 186.6,516.7 187.1,517.4 187.6,518.1 188.1,518.8 188.6,519.3 189.1,519.7 189.6,520.0 190.1,520.2 190.6,520.3 191.1,520.5 191.6,520.6 192.1,520.7 192.6,520.8 193.1,520.9 193.6,521.0 194.1,521.0 194.6,521.1 195.1,521.2 195.6,521.2 196.1,521.2 196.6,521.3 197.1,521.3 197.6,521.4 198.1,521.5 198.6,521.5 199.1,521.6 199.6,521.8 200.1,521.9 200.6,522.1 201.1,522.2 201.6,522.3 202.1,522.4 202.6,522.5 203.1,522.5 203.6,522.5 204.1,522.4 204.6,522.3 205.1,522.2 205.6,522.1 206.1,522.0 206.6,521.9 207.1,521.7 207.6,521.6 208.1,521.6 208.6,521.5 209.1,521.4 209.6,521.4 210.1,521.3 210.6,521.3 211.1,521.2 211.6,521.2 212.1,521.2 212.6,521.2 213.1,521.3 213.6,521.3 214.1,521.4 214.6,521.5 215.1,521.6 215.6,521.6 216.1,521.7 216.6,521.8 217.1,521.9" stroke="#2e86c8" class="cv"/>
<polyline points="37.1,522.4 37.6,522.1 38.1,521.9 38.6,521.6 39.1,521.3 39.6,521.1 40.1,520.8 40.6,520.6 41.1,520.3 41.6,520.1 42.1,519.8 42.6,519.6 43.1,519.3 43.6,519.1 44.1,518.8 44.6,518.5 45.1,518.2 45.6,517.9 46.1,517.7 46.6,517.5 47.1,517.4 47.6,517.3 48.1,517.3 48.6,517.4 49.1,517.5 49.6,517.6 50.1,517.7 50.6,517.9 51.1,518.1 51.6,518.3 52.1,518.5 52.6,518.8 53.1,519.0 53.6,519.2 54.1,519.5 54.6,519.8 55.1,520.1 55.6,520.4 56.1,520.7 56.6,520.9 57.1,521.0 57.6,521.0 58.1,520.8 58.6,520.5 59.1,520.2 59.6,519.8 60.1,519.3 60.6,518.9 61.1,518.5 61.6,518.2 62.1,517.9 62.6,517.6 63.1,517.3 63.6,517.0 64.1,516.7 64.6,516.4 65.1,516.1 65.6,515.8 66.1,515.4 66.6,515.1 67.1,514.7 67.6,514.4 68.1,514.0 68.6,513.6 69.1,513.3 69.6,512.8 70.1,512.4 70.6,511.8 71.1,511.2 71.6,510.3 72.1,509.2 72.6,508.0 73.1,506.8 73.6,505.6 74.1,504.6 74.6,503.8 75.1,503.2 75.6,502.7 76.1,502.3 76.6,501.9 77.1,501.6 77.6,501.2 78.1,500.8 78.6,500.4 79.1,499.9 79.6,499.2 80.1,498.4 80.6,497.5 81.1,496.6 81.6,495.8 82.1,495.0 82.6,494.4 83.1,493.9 83.6,493.6 84.1,493.2 84.6,492.9 85.1,492.6 85.6,492.4 86.1,492.1 86.6,491.9 87.1,491.7 87.6,491.5 88.1,491.4 88.6,491.2 89.1,491.1 89.6,491.1 90.1,491.0 90.6,490.9 91.1,490.8 91.6,490.7 92.1,490.6 92.6,490.4 93.1,490.1 93.6,489.7 94.1,489.4 94.6,489.0 95.1,488.6 95.6,488.3 96.1,487.9 96.6,487.5 97.1,487.1 97.6,486.8 98.1,486.4 98.6,486.0 99.1,485.5 99.6,485.1 100.1,484.7 100.6,484.3 101.1,483.8 101.6,483.4 102.1,482.9 102.6,482.4 103.1,481.9 103.6,481.4 104.1,480.9 104.6,480.4 105.1,479.8 105.6,479.3 106.1,478.8 106.6,478.3 107.1,477.8 107.6,477.3 108.1,476.8 108.6,476.3 109.1,475.8 109.6,475.3 110.1,474.8 110.6,474.3 111.1,473.8 111.6,473.3 112.1,472.8 112.6,472.3 113.1,471.8 113.6,471.3 114.1,470.8 114.6,470.4 115.1,469.9 115.6,469.4 116.1,468.9 116.6,468.5 117.1,468.1 117.6,467.7 118.1,467.3 118.6,466.9 119.1,466.6 119.6,466.3 120.1,465.9 120.6,465.6 121.1,465.3 121.6,465.0 122.1,464.8 122.6,464.5 123.1,464.3 123.6,464.1 124.1,464.0 124.6,463.8 125.1,463.7 125.6,463.6 126.1,463.5 126.6,463.5 127.1,463.4 127.6,463.3 128.1,463.2 128.6,463.1 129.1,463.0 129.6,462.8 130.1,462.6 130.6,462.4 131.1,462.2 131.6,462.1 132.1,462.0 132.6,462.0 133.1,462.1 133.6,462.3 134.1,462.6 134.6,462.8 135.1,463.2 135.6,463.5 136.1,463.8 136.6,464.1 137.1,464.4 137.6,464.6 138.1,464.8 138.6,465.0 139.1,465.2 139.6,465.3 140.1,465.5 140.6,465.6 141.1,465.8 141.6,466.0 142.1,466.2 142.6,466.4 143.1,466.6 143.6,466.8 144.1,467.1 144.6,467.3 145.1,467.6 145.6,467.9 146.1,468.2 146.6,468.6 147.1,469.1 147.6,469.7 148.1,470.3 148.6,470.9 149.1,471.5 149.6,472.0 150.1,472.5 150.6,472.8 151.1,473.1 151.6,473.4 152.1,473.6 152.6,473.8 153.1,474.1 153.6,474.3 154.1,474.6 154.6,474.9 155.1,475.3 155.6,475.7 156.1,476.2 156.6,476.9 157.1,477.8 157.6,478.7 158.1,479.6 158.6,480.6 159.1,481.5 159.6,482.4 160.1,483.4 160.6,484.5 161.1,485.5 161.6,486.5 162.1,487.5 162.6,488.5 163.1,489.4 163.6,490.4 164.1,491.3 164.6,492.3 165.1,493.2 165.6,494.1 166.1,494.9 166.6,495.7 167.1,496.4 167.6,497.1 168.1,497.7 168.6,498.3 169.1,498.9 169.6,499.4 170.1,499.9 170.6,500.4 171.1,501.0 171.6,501.5 172.1,502.0 172.6,502.5 173.1,503.0 173.6,503.5 174.1,504.0 174.6,504.5 175.1,505.0 175.6,505.5 176.1,506.0 176.6,506.5 177.1,507.0 177.6,507.5 178.1,508.0 178.6,508.5 179.1,509.0 179.6,509.5 180.1,510.0 180.6,510.5 181.1,511.0 181.6,511.5 182.1,512.0 182.6,512.4 183.1,512.9 183.6,513.3 184.1,513.8 184.6,514.2 185.1,514.7 185.6,515.1 186.1,515.5 186.6,515.9 187.1,516.3 187.6,516.8 188.1,517.2 188.6,517.6 189.1,518.0 189.6,518.3 190.1,518.6 190.6,518.7 191.1,518.9 191.6,519.0 192.1,519.1 192.6,519.2 193.1,519.3 193.6,519.3 194.1,519.3 194.6,519.2 195.1,518.9 195.6,518.6 196.1,518.3 196.6,518.0 197.1,517.7 197.6,517.6 198.1,517.6 198.6,517.8 199.1,518.1 199.6,518.4 200.1,518.8 200.6,519.2 201.1,519.7 201.6,520.2 202.1,520.9 202.6,521.5 203.1,522.1 203.6,522.5 204.1,522.6 204.6,522.6 205.1,522.7 205.6,522.7 206.1,522.7 206.6,522.7 207.1,522.7 207.6,522.7 208.1,522.7 208.6,522.7 209.1,522.7 209.6,522.7 210.1,522.7 210.6,522.7 211.1,522.7 211.6,522.7 212.1,522.7 212.6,522.7 213.1,522.7 213.6,522.7 214.1,522.7 214.6,522.7 215.1,522.7 215.6,522.7 216.1,522.7 216.6,522.7 217.1,522.7" stroke="#ee4a3a" class="cv"/>
</g>
<rect x="37.1" y="373.5" width="180.3" height="149.6" class="fr"/>
<line x1="188.1" y1="384.20" x2="208.1" y2="384.20" stroke="#c77cf0" class="lg"/>
<text y="387.50" class="lt"><tspan x="149.00" class="it">t</tspan><tspan x="152.80" class="dj">/</tspan><tspan x="157.10" class="dj it">τ</tspan><tspan x="164.30" class="dj" style="font-size:9.4px">=</tspan><tspan x="174.30">1</tspan></text>
<line x1="188.1" y1="395.18" x2="208.1" y2="395.18" stroke="#7dcdaf" class="lg"/>
<text x="179.10" y="398.48" class="lt" text-anchor="end">2</text>
<line x1="188.1" y1="406.16" x2="208.1" y2="406.16" stroke="#a6daf5" class="lg"/>
<text x="179.10" y="409.46" class="lt" text-anchor="end">3</text>
<line x1="188.1" y1="417.14" x2="208.1" y2="417.14" stroke="#f2c872" class="lg"/>
<text x="179.10" y="420.44" class="lt" text-anchor="end">4</text>
<line x1="188.1" y1="428.12" x2="208.1" y2="428.12" stroke="#f5ec9a" class="lg"/>
<text x="179.10" y="431.42" class="lt" text-anchor="end">5</text>
<line x1="188.1" y1="439.10" x2="208.1" y2="439.10" stroke="#6aaad8" class="lg"/>
<text x="179.10" y="442.40" class="lt" text-anchor="end">6</text>
<line x1="188.1" y1="450.08" x2="208.1" y2="450.08" stroke="#f27a6a" class="lg"/>
<text x="179.10" y="453.38" class="lt" text-anchor="end">7</text>
<text x="48.1" y="393.80" class="pl">(e)</text>
<text x="47.7" y="411.30" class="st">St = 1.5</text>
<text class="ax"><tspan x="94.85" y="544.70">(</tspan><tspan x="98.45" y="544.70" class="it">x</tspan><tspan x="104.25" y="547.60" class="sb">3</tspan><tspan x="111.95" y="544.70">−</tspan><tspan x="122.45" y="544.70" class="it">L</tspan><tspan x="129.45" y="547.60" class="sb">3</tspan><tspan x="132.85" y="545.60" class="sl">/</tspan><tspan x="137.55" y="544.70">2</tspan><tspan x="142.15" y="544.70">)</tspan><tspan x="146.55" y="545.60" class="sl">/</tspan><tspan x="151.45" y="544.70" class="it">ℓ</tspan></text>
<text transform="translate(15.00,459.70) rotate(-90)" class="yl2"><tspan class="br2" x="-0.9" y="0.3">⟨</tspan><tspan class="it" x="3.7" y="0">v</tspan><tspan x="7.2" y="0">′</tspan><tspan class="sb2" x="8.2" y="1.9">3</tspan><tspan class="it" x="11.5" y="0">θ</tspan><tspan x="16.9" y="0">′</tspan><tspan class="br2" x="19.1" y="0.3">⟩</tspan></text>
<text x="253.80" y="525.90" class="tk" text-anchor="end">0</text>
<text x="253.80" y="504.53" class="tk" text-anchor="end">0.05</text>
<line x1="258.7" y1="501.73" x2="261.2" y2="501.73" class="tm"/>
<text x="253.80" y="483.16" class="tk" text-anchor="end">0.1</text>
<line x1="258.7" y1="480.36" x2="261.2" y2="480.36" class="tm"/>
<text x="253.80" y="461.79" class="tk" text-anchor="end">0.15</text>
<line x1="258.7" y1="458.99" x2="261.2" y2="458.99" class="tm"/>
<text x="253.80" y="440.41" class="tk" text-anchor="end">0.2</text>
<line x1="258.7" y1="437.61" x2="261.2" y2="437.61" class="tm"/>
<text x="253.80" y="419.04" class="tk" text-anchor="end">0.25</text>
<line x1="258.7" y1="416.24" x2="261.2" y2="416.24" class="tm"/>
<text x="253.80" y="397.67" class="tk" text-anchor="end">0.3</text>
<line x1="258.7" y1="394.87" x2="261.2" y2="394.87" class="tm"/>
<text x="253.80" y="376.30" class="tk" text-anchor="end">0.35</text>
<text x="264.50" y="532.90" class="tk" text-anchor="middle">-8</text>
<line x1="264.00" y1="523.1" x2="264.00" y2="520.6" class="tm"/>
<text x="285.71" y="532.90" class="tk" text-anchor="middle">-6</text>
<line x1="285.21" y1="523.1" x2="285.21" y2="520.6" class="tm"/>
<text x="306.93" y="532.90" class="tk" text-anchor="middle">-4</text>
<line x1="306.43" y1="523.1" x2="306.43" y2="520.6" class="tm"/>
<text x="328.14" y="532.90" class="tk" text-anchor="middle">-2</text>
<line x1="327.64" y1="523.1" x2="327.64" y2="520.6" class="tm"/>
<text x="349.35" y="532.90" class="tk" text-anchor="middle">0</text>
<line x1="348.85" y1="523.1" x2="348.85" y2="520.6" class="tm"/>
<text x="370.56" y="532.90" class="tk" text-anchor="middle">2</text>
<line x1="370.06" y1="523.1" x2="370.06" y2="520.6" class="tm"/>
<text x="391.77" y="532.90" class="tk" text-anchor="middle">4</text>
<line x1="391.27" y1="523.1" x2="391.27" y2="520.6" class="tm"/>
<text x="412.99" y="532.90" class="tk" text-anchor="middle">6</text>
<line x1="412.49" y1="523.1" x2="412.49" y2="520.6" class="tm"/>
<text x="434.20" y="532.90" class="tk" text-anchor="middle">8</text>
<line x1="433.70" y1="523.1" x2="433.70" y2="520.6" class="tm"/>
<clipPath id="c5"><rect x="258.7" y="372.5" width="180.3" height="150.2"/></clipPath>
<g clip-path="url(#c5)">
<polyline points="258.7,522.7 259.2,522.7 259.7,522.7 260.2,522.7 260.7,522.7 261.2,522.7 261.7,522.7 262.2,522.7 262.7,522.7 263.2,522.7 263.7,522.7 264.2,522.7 264.7,522.7 265.2,522.7 265.7,522.7 266.2,522.7 266.7,522.7 267.2,522.7 267.7,522.7 268.2,522.7 268.7,522.7 269.2,522.7 269.7,522.7 270.2,522.7 270.7,522.7 271.2,522.7 271.7,522.7 272.2,522.7 272.7,522.7 273.2,522.7 273.7,522.7 274.2,522.7 274.7,522.7 275.2,522.7 275.7,522.7 276.2,522.7 276.7,522.7 277.2,522.7 277.7,522.7 278.2,522.7 278.7,522.7 279.2,522.7 279.7,522.7 280.2,522.7 280.7,522.7 281.2,522.7 281.7,522.7 282.2,522.7 282.7,522.7 283.2,522.7 283.7,522.7 284.2,522.7 284.7,522.7 285.2,522.7 285.7,522.7 286.2,522.7 286.7,522.7 287.2,522.7 287.7,522.7 288.2,522.7 288.7,522.7 289.2,522.7 289.7,522.7 290.2,522.7 290.7,522.7 291.2,522.7 291.7,522.7 292.2,522.7 292.7,522.7 293.2,522.7 293.7,522.7 294.2,522.7 294.7,522.7 295.2,522.7 295.7,522.7 296.2,522.7 296.7,522.7 297.2,522.7 297.7,522.7 298.2,522.7 298.7,522.7 299.2,522.7 299.7,522.7 300.2,522.7 300.7,522.7 301.2,522.7 301.7,522.7 302.2,522.7 302.7,522.7 303.2,522.7 303.7,522.7 304.2,522.7 304.7,522.7 305.2,522.7 305.7,522.7 306.2,522.7 306.7,522.7 307.2,522.7 307.7,522.7 308.2,522.7 308.7,522.7 309.2,522.7 309.7,522.7 310.2,522.7 310.7,522.7 311.2,522.7 311.7,522.7 312.2,522.7 312.7,522.7 313.2,522.7 313.7,522.7 314.2,522.7 314.7,522.7 315.2,522.7 315.7,522.7 316.2,522.7 316.7,522.7 317.2,522.7 317.7,522.7 318.2,522.7 318.7,522.7 319.2,522.7 319.7,522.7 320.2,522.7 320.7,522.7 321.2,522.7 321.7,522.7 322.2,522.7 322.7,522.6 323.2,522.6 323.7,522.6 324.2,522.5 324.7,522.4 325.2,522.4 325.7,522.3 326.2,522.2 326.7,521.8 327.2,521.2 327.7,520.4 328.2,519.4 328.7,518.3 329.2,517.2 329.7,515.9 330.2,514.4 330.7,512.5 331.2,510.4 331.7,508.2 332.2,505.8 332.7,503.3 333.2,500.4 333.7,497.3 334.2,494.0 334.7,490.6 335.2,486.6 335.7,482.6 336.2,478.9 336.7,475.7 337.2,472.6 337.7,469.3 338.2,465.5 338.7,461.3 339.2,457.0 339.7,452.9 340.2,448.2 340.7,440.9 341.2,434.2 341.7,428.9 342.2,424.3 342.7,420.3 343.2,416.4 343.7,412.4 344.2,408.5 344.7,405.2 345.2,402.3 345.7,399.8 346.2,397.3 346.7,394.6 347.2,391.4 347.7,389.6 348.2,388.8 348.7,388.4 349.2,388.4 349.7,388.7 350.2,389.4 350.7,390.7 351.2,393.5 351.7,396.2 352.2,398.8 352.7,401.5 353.2,404.5 353.7,408.0 354.2,412.1 354.7,416.4 355.2,420.7 355.7,425.2 356.2,429.5 356.7,433.8 357.2,438.6 357.7,444.0 358.2,449.2 358.7,454.2 359.2,458.6 359.7,461.3 360.2,463.1 360.7,465.4 361.2,469.4 361.7,474.1 362.2,478.4 362.7,482.9 363.2,487.1 363.7,490.7 364.2,494.0 364.7,497.0 365.2,499.8 365.7,502.2 366.2,504.5 366.7,506.7 367.2,508.7 367.7,510.6 368.2,512.3 368.7,513.8 369.2,514.9 369.7,515.9 370.2,516.8 370.7,517.7 371.2,518.4 371.7,519.1 372.2,519.7 372.7,520.3 373.2,520.7 373.7,521.0 374.2,521.2 374.7,521.5 375.2,521.7 375.7,521.9 376.2,522.0 376.7,522.2 377.2,522.3 377.7,522.5 378.2,522.6 378.7,522.6 379.2,522.7 379.7,522.7 380.2,522.7 380.7,522.7 381.2,522.7 381.7,522.7 382.2,522.7 382.7,522.7 383.2,522.7 383.7,522.7 384.2,522.7 384.7,522.7 385.2,522.7 385.7,522.7 386.2,522.7 386.7,522.7 387.2,522.7 387.7,522.7 388.2,522.7 388.7,522.7 389.2,522.7 389.7,522.7 390.2,522.7 390.7,522.7 391.2,522.7 391.7,522.7 392.2,522.7 392.7,522.7 393.2,522.7 393.7,522.7 394.2,522.7 394.7,522.7 395.2,522.7 395.7,522.7 396.2,522.7 396.7,522.7 397.2,522.7 397.7,522.7 398.2,522.7 398.7,522.7 399.2,522.7 399.7,522.7 400.2,522.7 400.7,522.7 401.2,522.7 401.7,522.7 402.2,522.7 402.7,522.7 403.2,522.7 403.7,522.7 404.2,522.7 404.7,522.7 405.2,522.7 405.7,522.7 406.2,522.7 406.7,522.7 407.2,522.7 407.7,522.7 408.2,522.7 408.7,522.7 409.2,522.7 409.7,522.7 410.2,522.7 410.7,522.7 411.2,522.7 411.7,522.7 412.2,522.7 412.7,522.7 413.2,522.7 413.7,522.7 414.2,522.7 414.7,522.7 415.2,522.7 415.7,522.7 416.2,522.7 416.7,522.7 417.2,522.7 417.7,522.7 418.2,522.5 418.7,522.3 419.2,522.1 419.7,521.9 420.2,521.8 420.7,521.7 421.2,521.6 421.7,521.7 422.2,521.8 422.7,521.9 423.2,522.1 423.7,522.4 424.2,522.7 424.7,522.7 425.2,522.7 425.7,522.7 426.2,522.7 426.7,522.7 427.2,522.7 427.7,522.7 428.2,522.7 428.7,522.7 429.2,522.7 429.7,522.7 430.2,522.7 430.7,522.7 431.2,522.7 431.7,522.7 432.2,522.7 432.7,522.7 433.2,522.7 433.7,522.7 434.2,522.7 434.7,522.7 435.2,522.7 435.7,522.7 436.2,522.7 436.7,522.7 437.2,522.7 437.7,522.7 438.2,522.7 438.7,522.7" stroke="#b44ef0" class="cv"/>
<polyline points="258.7,522.7 259.2,522.7 259.7,522.7 260.2,522.7 260.7,522.7 261.2,522.7 261.7,522.7 262.2,522.7 262.7,522.7 263.2,522.7 263.7,522.7 264.2,522.7 264.7,522.7 265.2,522.7 265.7,522.7 266.2,522.7 266.7,522.7 267.2,522.7 267.7,522.7 268.2,522.7 268.7,522.7 269.2,522.7 269.7,522.7 270.2,522.7 270.7,522.7 271.2,522.7 271.7,522.7 272.2,522.7 272.7,522.7 273.2,522.7 273.7,522.7 274.2,522.7 274.7,522.7 275.2,522.7 275.7,522.7 276.2,522.7 276.7,522.7 277.2,522.7 277.7,522.7 278.2,522.7 278.7,522.7 279.2,522.7 279.7,522.7 280.2,522.7 280.7,522.7 281.2,522.7 281.7,522.7 282.2,522.7 282.7,522.7 283.2,522.7 283.7,522.7 284.2,522.7 284.7,522.7 285.2,522.7 285.7,522.7 286.2,522.7 286.7,522.7 287.2,522.7 287.7,522.7 288.2,522.6 288.7,522.6 289.2,522.5 289.7,522.5 290.2,522.3 290.7,522.0 291.2,521.5 291.7,521.0 292.2,520.4 292.7,519.8 293.2,519.3 293.7,518.8 294.2,518.4 294.7,518.2 295.2,518.1 295.7,518.3 296.2,518.5 296.7,518.9 297.2,519.3 297.7,519.7 298.2,520.0 298.7,520.3 299.2,520.5 299.7,520.6 300.2,520.7 300.7,520.8 301.2,520.9 301.7,520.9 302.2,521.0 302.7,521.0 303.2,521.1 303.7,521.1 304.2,521.1 304.7,521.1 305.2,521.1 305.7,521.0 306.2,520.9 306.7,520.8 307.2,520.7 307.7,520.5 308.2,520.3 308.7,520.2 309.2,520.0 309.7,519.9 310.2,519.7 310.7,519.6 311.2,519.5 311.7,519.4 312.2,519.3 312.7,519.2 313.2,519.0 313.7,518.9 314.2,518.7 314.7,518.5 315.2,518.2 315.7,518.0 316.2,517.6 316.7,517.3 317.2,516.9 317.7,516.5 318.2,516.0 318.7,515.5 319.2,515.0 319.7,514.4 320.2,513.7 320.7,513.0 321.2,512.2 321.7,511.3 322.2,510.2 322.7,509.0 323.2,507.8 323.7,506.4 324.2,505.0 324.7,503.4 325.2,501.4 325.7,499.2 326.2,496.8 326.7,494.5 327.2,492.2 327.7,489.9 328.2,487.7 328.7,485.5 329.2,483.1 329.7,480.5 330.2,477.7 330.7,474.4 331.2,471.0 331.7,467.8 332.2,464.8 332.7,461.8 333.2,458.9 333.7,456.1 334.2,453.3 334.7,450.4 335.2,447.6 335.7,445.0 336.2,442.7 336.7,440.8 337.2,439.2 337.7,437.6 338.2,436.0 338.7,434.3 339.2,432.7 339.7,431.1 340.2,429.5 340.7,427.9 341.2,426.4 341.7,424.8 342.2,423.2 342.7,421.7 343.2,420.5 343.7,419.3 344.2,418.2 344.7,417.2 345.2,416.5 345.7,416.2 346.2,416.3 346.7,416.6 347.2,416.9 347.7,417.4 348.2,417.9 348.7,418.4 349.2,419.1 349.7,420.1 350.2,421.3 350.7,422.6 351.2,423.9 351.7,425.2 352.2,426.4 352.7,427.6 353.2,428.6 353.7,429.7 354.2,430.7 354.7,431.7 355.2,432.8 355.7,434.0 356.2,435.2 356.7,436.6 357.2,438.1 357.7,439.8 358.2,441.6 358.7,443.4 359.2,445.3 359.7,447.2 360.2,449.1 360.7,451.1 361.2,453.1 361.7,455.1 362.2,457.2 362.7,459.4 363.2,461.8 363.7,464.1 364.2,466.1 364.7,467.9 365.2,469.4 365.7,470.8 366.2,472.3 366.7,474.0 367.2,476.0 367.7,478.4 368.2,481.0 368.7,483.7 369.2,486.3 369.7,488.8 370.2,491.0 370.7,493.1 371.2,495.2 371.7,497.2 372.2,499.1 372.7,500.9 373.2,502.6 373.7,504.3 374.2,506.0 374.7,507.6 375.2,509.2 375.7,510.6 376.2,511.9 376.7,512.9 377.2,513.7 377.7,514.4 378.2,515.0 378.7,515.5 379.2,516.0 379.7,516.4 380.2,516.8 380.7,517.1 381.2,517.4 381.7,517.7 382.2,517.9 382.7,518.0 383.2,518.2 383.7,518.3 384.2,518.4 384.7,518.6 385.2,518.8 385.7,519.4 386.2,520.5 386.7,521.6 387.2,522.4 387.7,522.6 388.2,522.7 388.7,522.7 389.2,522.7 389.7,522.7 390.2,522.7 390.7,522.7 391.2,522.7 391.7,522.7 392.2,522.7 392.7,522.7 393.2,522.7 393.7,522.7 394.2,522.7 394.7,522.7 395.2,522.7 395.7,522.7 396.2,522.7 396.7,522.7 397.2,522.7 397.7,522.7 398.2,522.7 398.7,522.7 399.2,522.7 399.7,522.7 400.2,522.7 400.7,522.7 401.2,522.7 401.7,522.7 402.2,522.7 402.7,522.7 403.2,522.7 403.7,522.7 404.2,522.7 404.7,522.7 405.2,522.7 405.7,522.7 406.2,522.7 406.7,522.7 407.2,522.7 407.7,522.7 408.2,522.7 408.7,522.7 409.2,522.7 409.7,522.7 410.2,522.7 410.7,522.5 411.2,522.1 411.7,521.8 412.2,521.5 412.7,521.4 413.2,521.5 413.7,521.6 414.2,521.9 414.7,522.2 415.2,522.5 415.7,522.7 416.2,522.7 416.7,522.7 417.2,522.7 417.7,522.7 418.2,522.7 418.7,522.7 419.2,522.7 419.7,522.7 420.2,522.7 420.7,522.7 421.2,522.7 421.7,522.7 422.2,522.7 422.7,522.7 423.2,522.7 423.7,522.7 424.2,522.7 424.7,522.7 425.2,522.7 425.7,522.7 426.2,522.7 426.7,522.7 427.2,522.7 427.7,522.7 428.2,522.7 428.7,522.7 429.2,522.7 429.7,522.7 430.2,522.7 430.7,522.7 431.2,522.7 431.7,522.7 432.2,522.7 432.7,522.7 433.2,522.7 433.7,522.7 434.2,522.7 434.7,522.7 435.2,522.7 435.7,522.7 436.2,522.7 436.7,522.7 437.2,522.7 437.7,522.7 438.2,522.7 438.7,522.7" stroke="#3fb88f" class="cv"/>
<polyline points="258.7,522.7 259.2,522.7 259.7,522.7 260.2,522.7 260.7,522.7 261.2,522.7 261.7,522.7 262.2,522.7 262.7,522.7 263.2,522.7 263.7,522.7 264.2,522.7 264.7,522.7 265.2,522.7 265.7,522.7 266.2,522.7 266.7,522.7 267.2,522.7 267.7,522.7 268.2,522.7 268.7,522.7 269.2,522.7 269.7,522.7 270.2,522.7 270.7,522.7 271.2,522.7 271.7,522.7 272.2,522.7 272.7,522.7 273.2,522.7 273.7,522.7 274.2,522.7 274.7,522.7 275.2,522.7 275.7,522.7 276.2,522.7 276.7,522.7 277.2,522.7 277.7,522.7 278.2,522.7 278.7,522.7 279.2,522.7 279.7,522.7 280.2,522.7 280.7,522.7 281.2,522.7 281.7,522.7 282.2,522.7 282.7,522.7 283.2,522.7 283.7,522.7 284.2,522.7 284.7,522.7 285.2,522.7 285.7,522.7 286.2,522.7 286.7,522.7 287.2,522.7 287.7,522.7 288.2,522.7 288.7,522.7 289.2,522.7 289.7,522.7 290.2,522.7 290.7,522.7 291.2,522.7 291.7,522.7 292.2,522.7 292.7,522.7 293.2,522.7 293.7,522.7 294.2,522.7 294.7,522.7 295.2,522.7 295.7,522.6 296.2,522.5 296.7,522.5 297.2,522.4 297.7,522.3 298.2,522.2 298.7,522.1 299.2,521.9 299.7,521.8 300.2,521.6 300.7,521.5 301.2,521.3 301.7,521.2 302.2,520.9 302.7,520.3 303.2,519.5 303.7,518.5 304.2,517.5 304.7,516.5 305.2,515.5 305.7,514.7 306.2,514.1 306.7,513.5 307.2,513.0 307.7,512.4 308.2,512.0 308.7,511.5 309.2,511.1 309.7,510.6 310.2,510.2 310.7,509.8 311.2,509.4 311.7,509.1 312.2,508.7 312.7,508.4 313.2,508.0 313.7,507.6 314.2,507.3 314.7,507.0 315.2,506.6 315.7,506.0 316.2,504.6 316.7,502.8 317.2,500.9 317.7,499.0 318.2,497.5 318.7,496.3 319.2,495.1 319.7,494.1 320.2,493.0 320.7,491.9 321.2,490.7 321.7,489.4 322.2,487.9 322.7,486.4 323.2,484.7 323.7,483.0 324.2,481.3 324.7,479.6 325.2,477.9 325.7,476.2 326.2,474.4 326.7,472.6 327.2,470.8 327.7,469.2 328.2,467.8 328.7,466.5 329.2,465.4 329.7,464.4 330.2,463.3 330.7,462.0 331.2,460.6 331.7,459.0 332.2,457.2 332.7,455.5 333.2,453.7 333.7,452.1 334.2,450.7 334.7,449.4 335.2,448.5 335.7,448.0 336.2,447.6 336.7,447.3 337.2,447.1 337.7,446.9 338.2,446.7 338.7,446.5 339.2,446.3 339.7,446.1 340.2,445.8 340.7,445.4 341.2,445.0 341.7,444.6 342.2,444.1 342.7,443.6 343.2,443.1 343.7,442.7 344.2,442.2 344.7,441.8 345.2,441.4 345.7,441.0 346.2,440.7 346.7,440.3 347.2,440.0 347.7,439.7 348.2,439.3 348.7,439.0 349.2,438.8 349.7,438.5 350.2,438.3 350.7,438.1 351.2,438.0 351.7,438.0 352.2,438.1 352.7,438.2 353.2,438.4 353.7,438.7 354.2,439.0 354.7,439.4 355.2,439.9 355.7,440.8 356.2,441.8 356.7,443.0 357.2,444.2 357.7,445.4 358.2,446.8 358.7,448.3 359.2,449.9 359.7,451.5 360.2,453.0 360.7,454.4 361.2,455.9 361.7,457.4 362.2,458.8 362.7,460.2 363.2,461.6 363.7,462.9 364.2,464.0 364.7,465.1 365.2,465.9 365.7,466.6 366.2,467.2 366.7,467.7 367.2,468.3 367.7,469.0 368.2,469.8 368.7,470.9 369.2,472.1 369.7,473.4 370.2,474.8 370.7,476.3 371.2,477.8 371.7,479.2 372.2,480.6 372.7,482.1 373.2,483.6 373.7,485.1 374.2,486.6 374.7,488.2 375.2,489.7 375.7,491.4 376.2,493.0 376.7,494.7 377.2,496.4 377.7,498.0 378.2,499.5 378.7,501.0 379.2,502.4 379.7,503.9 380.2,505.4 380.7,506.7 381.2,508.0 381.7,509.2 382.2,510.3 382.7,511.2 383.2,511.9 383.7,512.5 384.2,513.1 384.7,513.6 385.2,514.1 385.7,514.5 386.2,514.9 386.7,515.3 387.2,515.7 387.7,516.0 388.2,516.3 388.7,516.5 389.2,516.8 389.7,517.2 390.2,518.0 390.7,519.1 391.2,520.2 391.7,521.1 392.2,521.4 392.7,521.5 393.2,521.6 393.7,521.7 394.2,521.8 394.7,521.8 395.2,521.9 395.7,521.9 396.2,522.0 396.7,522.0 397.2,522.0 397.7,522.1 398.2,522.1 398.7,522.1 399.2,522.2 399.7,522.2 400.2,522.3 400.7,522.3 401.2,522.4 401.7,522.4 402.2,522.5 402.7,522.5 403.2,522.6 403.7,522.6 404.2,522.7 404.7,522.7 405.2,522.7 405.7,522.7 406.2,522.7 406.7,522.7 407.2,522.7 407.7,522.7 408.2,522.7 408.7,522.7 409.2,522.7 409.7,522.7 410.2,522.7 410.7,522.7 411.2,522.7 411.7,522.7 412.2,522.7 412.7,522.7 413.2,522.7 413.7,522.7 414.2,522.7 414.7,522.7 415.2,522.7 415.7,522.7 416.2,522.7 416.7,522.7 417.2,522.7 417.7,522.7 418.2,522.7 418.7,522.7 419.2,522.7 419.7,522.7 420.2,522.7 420.7,522.7 421.2,522.7 421.7,522.7 422.2,522.7 422.7,522.7 423.2,522.7 423.7,522.7 424.2,522.7 424.7,522.7 425.2,522.7 425.7,522.7 426.2,522.7 426.7,522.7 427.2,522.7 427.7,522.7 428.2,522.7 428.7,522.7 429.2,522.7 429.7,522.7 430.2,522.7 430.7,522.7 431.2,522.7 431.7,522.7 432.2,522.7 432.7,522.7 433.2,522.7 433.7,522.7 434.2,522.7 434.7,522.7 435.2,522.7 435.7,522.7 436.2,522.7 436.7,522.7 437.2,522.7 437.7,522.7 438.2,522.7 438.7,522.7" stroke="#7cc8f0" class="cv"/>
<polyline points="258.7,522.7 259.2,522.7 259.7,522.7 260.2,522.7 260.7,522.7 261.2,522.7 261.7,522.7 262.2,522.7 262.7,522.7 263.2,522.7 263.7,522.7 264.2,522.7 264.7,522.7 265.2,522.7 265.7,522.7 266.2,522.7 266.7,522.7 267.2,522.7 267.7,522.7 268.2,522.7 268.7,522.7 269.2,522.7 269.7,522.7 270.2,522.7 270.7,522.7 271.2,522.7 271.7,522.7 272.2,522.7 272.7,522.7 273.2,522.7 273.7,522.7 274.2,522.7 274.7,522.7 275.2,522.7 275.7,522.7 276.2,522.7 276.7,522.7 277.2,522.7 277.7,522.7 278.2,522.7 278.7,522.7 279.2,522.7 279.7,522.7 280.2,522.7 280.7,522.7 281.2,522.6 281.7,522.6 282.2,522.5 282.7,522.4 283.2,522.4 283.7,522.3 284.2,522.2 284.7,522.1 285.2,521.9 285.7,521.7 286.2,521.4 286.7,521.1 287.2,520.8 287.7,520.5 288.2,520.2 288.7,519.9 289.2,519.5 289.7,519.2 290.2,518.8 290.7,518.5 291.2,518.1 291.7,517.8 292.2,517.5 292.7,517.2 293.2,517.0 293.7,516.7 294.2,516.5 294.7,516.3 295.2,516.1 295.7,515.8 296.2,515.6 296.7,515.4 297.2,515.1 297.7,514.8 298.2,514.5 298.7,514.2 299.2,513.8 299.7,513.4 300.2,512.9 300.7,512.4 301.2,511.9 301.7,511.4 302.2,510.8 302.7,510.3 303.2,509.7 303.7,509.2 304.2,508.7 304.7,508.1 305.2,507.6 305.7,507.0 306.2,506.4 306.7,505.9 307.2,505.2 307.7,504.6 308.2,503.9 308.7,503.2 309.2,502.4 309.7,501.5 310.2,500.5 310.7,499.4 311.2,498.2 311.7,497.0 312.2,495.7 312.7,494.5 313.2,493.3 313.7,492.1 314.2,491.1 314.7,490.1 315.2,489.1 315.7,488.0 316.2,486.8 316.7,485.5 317.2,484.3 317.7,483.2 318.2,482.3 318.7,481.6 319.2,480.9 319.7,480.4 320.2,479.8 320.7,479.3 321.2,478.8 321.7,478.2 322.2,477.6 322.7,476.8 323.2,476.0 323.7,475.0 324.2,474.0 324.7,473.0 325.2,472.0 325.7,471.0 326.2,470.0 326.7,468.9 327.2,467.8 327.7,466.7 328.2,465.6 328.7,464.6 329.2,463.6 329.7,462.7 330.2,462.0 330.7,461.3 331.2,460.8 331.7,460.5 332.2,460.1 332.7,459.8 333.2,459.5 333.7,459.3 334.2,459.0 334.7,458.8 335.2,458.6 335.7,458.4 336.2,458.2 336.7,458.0 337.2,457.8 337.7,457.6 338.2,457.4 338.7,457.2 339.2,456.9 339.7,456.6 340.2,456.4 340.7,456.1 341.2,455.8 341.7,455.6 342.2,455.3 342.7,455.1 343.2,454.8 343.7,454.6 344.2,454.4 344.7,454.3 345.2,454.1 345.7,453.9 346.2,453.8 346.7,453.6 347.2,453.4 347.7,453.3 348.2,453.2 348.7,453.1 349.2,453.0 349.7,452.9 350.2,452.9 350.7,452.9 351.2,453.0 351.7,453.1 352.2,453.2 352.7,453.4 353.2,453.5 353.7,453.7 354.2,453.9 354.7,454.1 355.2,454.3 355.7,454.5 356.2,454.6 356.7,454.8 357.2,455.0 357.7,455.2 358.2,455.4 358.7,455.6 359.2,455.8 359.7,456.1 360.2,456.3 360.7,456.7 361.2,457.0 361.7,457.5 362.2,458.0 362.7,458.5 363.2,459.1 363.7,459.8 364.2,460.5 364.7,461.2 365.2,462.0 365.7,463.0 366.2,464.0 366.7,465.2 367.2,466.5 367.7,467.7 368.2,468.9 368.7,470.1 369.2,471.1 369.7,472.0 370.2,472.9 370.7,473.7 371.2,474.5 371.7,475.3 372.2,476.1 372.7,476.9 373.2,477.8 373.7,478.7 374.2,479.8 374.7,480.9 375.2,482.2 375.7,483.4 376.2,484.7 376.7,486.0 377.2,487.3 377.7,488.6 378.2,489.8 378.7,490.9 379.2,491.9 379.7,493.0 380.2,494.0 380.7,495.0 381.2,495.9 381.7,496.8 382.2,497.6 382.7,498.3 383.2,499.0 383.7,499.7 384.2,500.3 384.7,501.0 385.2,501.7 385.7,502.4 386.2,503.3 386.7,504.2 387.2,505.5 387.7,507.0 388.2,508.5 388.7,509.8 389.2,510.8 389.7,511.2 390.2,511.4 390.7,511.5 391.2,511.6 391.7,511.7 392.2,511.8 392.7,511.8 393.2,511.9 393.7,512.1 394.2,512.3 394.7,512.6 395.2,513.1 395.7,513.7 396.2,514.3 396.7,515.0 397.2,515.7 397.7,516.3 398.2,516.9 398.7,517.6 399.2,518.3 399.7,519.0 400.2,519.6 400.7,520.2 401.2,520.8 401.7,521.4 402.2,522.0 402.7,522.5 403.2,522.6 403.7,522.7 404.2,522.7 404.7,522.7 405.2,522.7 405.7,522.7 406.2,522.7 406.7,522.7 407.2,522.7 407.7,522.7 408.2,522.7 408.7,522.7 409.2,522.7 409.7,522.7 410.2,522.7 410.7,522.7 411.2,522.7 411.7,522.7 412.2,522.7 412.7,522.7 413.2,522.7 413.7,522.7 414.2,522.7 414.7,522.7 415.2,522.7 415.7,522.7 416.2,522.7 416.7,522.7 417.2,522.7 417.7,522.7 418.2,522.7 418.7,522.7 419.2,522.7 419.7,522.7 420.2,522.7 420.7,522.7 421.2,522.7 421.7,522.7 422.2,522.7 422.7,522.7 423.2,522.7 423.7,522.7 424.2,522.7 424.7,522.7 425.2,522.7 425.7,522.7 426.2,522.7 426.7,522.7 427.2,522.7 427.7,522.7 428.2,522.7 428.7,522.7 429.2,522.7 429.7,522.7 430.2,522.7 430.7,522.7 431.2,522.7 431.7,522.7 432.2,522.7 432.7,522.7 433.2,522.7 433.7,522.7 434.2,522.7 434.7,522.7 435.2,522.7 435.7,522.7 436.2,522.7 436.7,522.7 437.2,522.7 437.7,522.7 438.2,522.7 438.7,522.7" stroke="#eeb23c" class="cv"/>
<polyline points="258.7,522.7 259.2,522.7 259.7,522.7 260.2,522.7 260.7,522.7 261.2,522.7 261.7,522.7 262.2,522.7 262.7,522.7 263.2,522.7 263.7,522.7 264.2,522.7 264.7,522.7 265.2,522.7 265.7,522.7 266.2,522.7 266.7,522.7 267.2,522.7 267.7,522.7 268.2,522.7 268.7,522.7 269.2,522.7 269.7,522.7 270.2,522.7 270.7,522.7 271.2,522.7 271.7,522.7 272.2,522.7 272.7,522.7 273.2,522.7 273.7,522.7 274.2,522.7 274.7,522.7 275.2,522.7 275.7,522.7 276.2,522.6 276.7,522.6 277.2,522.6 277.7,522.5 278.2,522.5 278.7,522.4 279.2,522.4 279.7,522.3 280.2,522.3 280.7,522.2 281.2,522.1 281.7,522.0 282.2,521.9 282.7,521.8 283.2,521.7 283.7,521.5 284.2,521.3 284.7,521.1 285.2,520.7 285.7,520.3 286.2,519.9 286.7,519.5 287.2,519.0 287.7,518.6 288.2,518.3 288.7,518.0 289.2,517.7 289.7,517.5 290.2,517.4 290.7,517.2 291.2,517.0 291.7,516.9 292.2,516.7 292.7,516.6 293.2,516.4 293.7,516.2 294.2,515.9 294.7,515.6 295.2,515.2 295.7,514.8 296.2,514.3 296.7,513.8 297.2,513.3 297.7,512.7 298.2,512.2 298.7,511.7 299.2,511.1 299.7,510.7 300.2,510.2 300.7,509.7 301.2,509.2 301.7,508.7 302.2,508.3 302.7,507.8 303.2,507.3 303.7,506.8 304.2,506.3 304.7,505.9 305.2,505.4 305.7,504.9 306.2,504.5 306.7,504.1 307.2,503.7 307.7,503.3 308.2,502.9 308.7,502.4 309.2,501.9 309.7,501.3 310.2,500.7 310.7,499.9 311.2,498.8 311.7,497.6 312.2,496.4 312.7,495.2 313.2,494.3 313.7,493.3 314.2,492.3 314.7,491.4 315.2,490.5 315.7,489.7 316.2,488.9 316.7,488.1 317.2,487.4 317.7,486.7 318.2,486.1 318.7,485.5 319.2,485.0 319.7,484.4 320.2,483.9 320.7,483.3 321.2,482.7 321.7,482.1 322.2,481.4 322.7,480.7 323.2,480.0 323.7,479.3 324.2,478.5 324.7,477.8 325.2,477.1 325.7,476.3 326.2,475.6 326.7,474.9 327.2,474.0 327.7,473.2 328.2,472.4 328.7,471.6 329.2,470.8 329.7,470.1 330.2,469.4 330.7,468.9 331.2,468.5 331.7,468.2 332.2,468.0 332.7,467.8 333.2,467.6 333.7,467.4 334.2,467.2 334.7,467.1 335.2,466.9 335.7,466.8 336.2,466.6 336.7,466.5 337.2,466.3 337.7,466.1 338.2,465.9 338.7,465.6 339.2,465.3 339.7,465.0 340.2,464.7 340.7,464.3 341.2,464.0 341.7,463.6 342.2,463.2 342.7,462.8 343.2,462.4 343.7,462.0 344.2,461.6 344.7,461.2 345.2,460.8 345.7,460.2 346.2,459.7 346.7,459.2 347.2,458.8 347.7,458.4 348.2,458.1 348.7,458.0 349.2,458.1 349.7,458.2 350.2,458.5 350.7,458.8 351.2,459.2 351.7,459.5 352.2,459.9 352.7,460.3 353.2,460.6 353.7,461.1 354.2,461.6 354.7,462.0 355.2,462.5 355.7,463.0 356.2,463.4 356.7,463.8 357.2,464.1 357.7,464.4 358.2,464.6 358.7,464.7 359.2,464.8 359.7,465.0 360.2,465.1 360.7,465.2 361.2,465.4 361.7,465.5 362.2,465.8 362.7,466.1 363.2,466.5 363.7,467.0 364.2,467.5 364.7,468.1 365.2,468.6 365.7,469.2 366.2,469.7 366.7,470.2 367.2,470.6 367.7,471.0 368.2,471.4 368.7,471.8 369.2,472.3 369.7,472.8 370.2,473.3 370.7,473.9 371.2,474.6 371.7,475.4 372.2,476.3 372.7,477.1 373.2,478.1 373.7,479.0 374.2,479.9 374.7,480.7 375.2,481.6 375.7,482.4 376.2,483.2 376.7,484.1 377.2,484.9 377.7,485.7 378.2,486.6 378.7,487.4 379.2,488.2 379.7,489.1 380.2,489.9 380.7,490.8 381.2,491.7 381.7,492.6 382.2,493.4 382.7,494.3 383.2,495.1 383.7,495.8 384.2,496.5 384.7,497.2 385.2,497.8 385.7,498.4 386.2,498.9 386.7,499.5 387.2,500.0 387.7,500.6 388.2,501.2 388.7,501.8 389.2,502.5 389.7,503.2 390.2,503.9 390.7,504.6 391.2,505.4 391.7,506.1 392.2,506.9 392.7,507.7 393.2,508.4 393.7,509.2 394.2,509.9 394.7,510.8 395.2,511.7 395.7,512.7 396.2,513.6 396.7,514.5 397.2,515.4 397.7,516.0 398.2,516.5 398.7,516.8 399.2,517.0 399.7,517.2 400.2,517.3 400.7,517.4 401.2,517.5 401.7,517.6 402.2,517.7 402.7,517.8 403.2,517.8 403.7,517.9 404.2,518.0 404.7,518.0 405.2,518.1 405.7,518.1 406.2,518.2 406.7,518.3 407.2,518.3 407.7,518.4 408.2,518.6 408.7,518.8 409.2,519.0 409.7,519.2 410.2,519.5 410.7,519.8 411.2,520.1 411.7,520.3 412.2,520.6 412.7,520.8 413.2,521.0 413.7,521.3 414.2,521.5 414.7,521.7 415.2,521.9 415.7,522.1 416.2,522.3 416.7,522.3 417.2,522.4 417.7,522.5 418.2,522.5 418.7,522.6 419.2,522.7 419.7,522.7 420.2,522.7 420.7,522.7 421.2,522.7 421.7,522.7 422.2,522.7 422.7,522.7 423.2,522.7 423.7,522.7 424.2,522.7 424.7,522.7 425.2,522.7 425.7,522.7 426.2,522.7 426.7,522.7 427.2,522.7 427.7,522.7 428.2,522.7 428.7,522.7 429.2,522.7 429.7,522.7 430.2,522.7 430.7,522.7 431.2,522.7 431.7,522.7 432.2,522.7 432.7,522.7 433.2,522.7 433.7,522.7 434.2,522.7 434.7,522.7 435.2,522.7 435.7,522.7 436.2,522.7 436.7,522.7 437.2,522.7 437.7,522.7 438.2,522.7 438.7,522.7" stroke="#f2e46a" class="cv"/>
<polyline points="258.7,521.2 259.2,521.4 259.7,521.7 260.2,521.9 260.7,522.2 261.2,522.3 261.7,522.5 262.2,522.6 262.7,522.6 263.2,522.6 263.7,522.6 264.2,522.6 264.7,522.6 265.2,522.6 265.7,522.6 266.2,522.6 266.7,522.5 267.2,522.5 267.7,522.5 268.2,522.5 268.7,522.5 269.2,522.4 269.7,522.4 270.2,522.3 270.7,522.2 271.2,522.0 271.7,521.8 272.2,521.6 272.7,521.3 273.2,521.0 273.7,520.7 274.2,520.4 274.7,520.0 275.2,519.6 275.7,519.0 276.2,518.4 276.7,517.7 277.2,517.1 277.7,516.5 278.2,516.1 278.7,515.9 279.2,515.8 279.7,515.8 280.2,515.8 280.7,515.8 281.2,515.8 281.7,515.8 282.2,515.8 282.7,515.8 283.2,515.9 283.7,516.0 284.2,516.2 284.7,516.4 285.2,516.6 285.7,516.9 286.2,517.1 286.7,517.2 287.2,517.2 287.7,516.8 288.2,516.0 288.7,515.1 289.2,514.0 289.7,512.9 290.2,511.8 290.7,511.0 291.2,510.4 291.7,510.0 292.2,509.6 292.7,509.2 293.2,508.8 293.7,508.5 294.2,508.2 294.7,507.9 295.2,507.6 295.7,507.2 296.2,506.9 296.7,506.6 297.2,506.2 297.7,505.8 298.2,505.5 298.7,505.1 299.2,504.8 299.7,504.4 300.2,504.1 300.7,503.7 301.2,503.3 301.7,502.9 302.2,502.5 302.7,502.0 303.2,501.6 303.7,501.1 304.2,500.6 304.7,500.1 305.2,499.6 305.7,499.1 306.2,498.6 306.7,498.1 307.2,497.6 307.7,497.1 308.2,496.6 308.7,496.1 309.2,495.7 309.7,495.2 310.2,494.7 310.7,494.2 311.2,493.8 311.7,493.3 312.2,492.8 312.7,492.4 313.2,491.9 313.7,491.3 314.2,490.8 314.7,490.3 315.2,489.9 315.7,489.6 316.2,489.5 316.7,489.4 317.2,489.4 317.7,489.3 318.2,489.3 318.7,489.2 319.2,489.2 319.7,489.1 320.2,489.0 320.7,488.9 321.2,488.6 321.7,488.1 322.2,487.6 322.7,487.0 323.2,486.3 323.7,485.6 324.2,485.0 324.7,484.4 325.2,483.9 325.7,483.4 326.2,482.9 326.7,482.4 327.2,481.9 327.7,481.5 328.2,481.0 328.7,480.5 329.2,480.0 329.7,479.5 330.2,479.0 330.7,478.4 331.2,477.8 331.7,477.2 332.2,476.5 332.7,475.8 333.2,475.1 333.7,474.4 334.2,473.7 334.7,473.0 335.2,472.3 335.7,471.7 336.2,471.1 336.7,470.5 337.2,470.0 337.7,469.5 338.2,469.1 338.7,468.7 339.2,468.3 339.7,467.9 340.2,467.4 340.7,467.0 341.2,466.6 341.7,466.2 342.2,465.8 342.7,465.4 343.2,465.0 343.7,464.6 344.2,464.2 344.7,463.8 345.2,463.5 345.7,463.1 346.2,462.8 346.7,462.5 347.2,462.1 347.7,461.8 348.2,461.4 348.7,461.1 349.2,460.7 349.7,460.4 350.2,460.2 350.7,459.9 351.2,459.8 351.7,459.6 352.2,459.5 352.7,459.5 353.2,459.6 353.7,459.8 354.2,460.0 354.7,460.2 355.2,460.5 355.7,460.7 356.2,460.9 356.7,461.1 357.2,461.4 357.7,461.6 358.2,461.8 358.7,462.0 359.2,462.3 359.7,462.5 360.2,462.8 360.7,463.1 361.2,463.5 361.7,463.8 362.2,464.2 362.7,464.6 363.2,465.0 363.7,465.4 364.2,465.9 364.7,466.3 365.2,466.8 365.7,467.3 366.2,467.7 366.7,468.3 367.2,468.8 367.7,469.4 368.2,469.9 368.7,470.5 369.2,471.1 369.7,471.8 370.2,472.4 370.7,473.0 371.2,473.6 371.7,474.3 372.2,474.9 372.7,475.5 373.2,476.2 373.7,476.8 374.2,477.5 374.7,478.2 375.2,478.9 375.7,479.6 376.2,480.3 376.7,481.0 377.2,481.7 377.7,482.5 378.2,483.3 378.7,484.2 379.2,485.1 379.7,485.9 380.2,486.8 380.7,487.7 381.2,488.5 381.7,489.3 382.2,490.1 382.7,490.8 383.2,491.5 383.7,492.3 384.2,492.9 384.7,493.7 385.2,494.4 385.7,495.1 386.2,495.8 386.7,496.6 387.2,497.4 387.7,498.3 388.2,499.2 388.7,500.0 389.2,500.8 389.7,501.6 390.2,502.4 390.7,503.2 391.2,504.0 391.7,504.8 392.2,505.5 392.7,506.2 393.2,506.8 393.7,507.2 394.2,507.5 394.7,507.7 395.2,508.0 395.7,508.1 396.2,508.3 396.7,508.4 397.2,508.5 397.7,508.5 398.2,508.5 398.7,508.4 399.2,508.3 399.7,508.2 400.2,508.1 400.7,508.0 401.2,508.1 401.7,508.4 402.2,508.9 402.7,509.6 403.2,510.4 403.7,511.1 404.2,511.8 404.7,512.4 405.2,513.0 405.7,513.7 406.2,514.4 406.7,515.0 407.2,515.6 407.7,516.3 408.2,516.9 408.7,517.6 409.2,518.3 409.7,518.9 410.2,519.4 410.7,519.8 411.2,520.1 411.7,520.3 412.2,520.4 412.7,520.5 413.2,520.7 413.7,520.8 414.2,520.9 414.7,520.9 415.2,521.0 415.7,521.1 416.2,521.2 416.7,521.2 417.2,521.3 417.7,521.3 418.2,521.3 418.7,521.4 419.2,521.4 419.7,521.5 420.2,521.6 420.7,521.7 421.2,521.8 421.7,521.9 422.2,522.1 422.7,522.2 423.2,522.3 423.7,522.4 424.2,522.5 424.7,522.5 425.2,522.5 425.7,522.4 426.2,522.4 426.7,522.3 427.2,522.1 427.7,522.0 428.2,521.9 428.7,521.8 429.2,521.7 429.7,521.6 430.2,521.5 430.7,521.5 431.2,521.4 431.7,521.4 432.2,521.3 432.7,521.3 433.2,521.3 433.7,521.3 434.2,521.3 434.7,521.3 435.2,521.4 435.7,521.5 436.2,521.5 436.7,521.6 437.2,521.7 437.7,521.8 438.2,521.9 438.7,522.0" stroke="#2e86c8" class="cv"/>
<polyline points="258.7,522.4 259.2,522.1 259.7,521.9 260.2,521.6 260.7,521.4 261.2,521.1 261.7,520.9 262.2,520.6 262.7,520.4 263.2,520.1 263.7,519.9 264.2,519.7 264.7,519.4 265.2,519.1 265.7,518.8 266.2,518.5 266.7,518.3 267.2,518.0 267.7,517.8 268.2,517.6 268.7,517.5 269.2,517.4 269.7,517.4 270.2,517.5 270.7,517.6 271.2,517.7 271.7,517.8 272.2,518.0 272.7,518.2 273.2,518.4 273.7,518.6 274.2,518.8 274.7,519.0 275.2,519.2 275.7,519.5 276.2,519.8 276.7,520.2 277.2,520.5 277.7,520.7 278.2,520.9 278.7,521.0 279.2,521.0 279.7,520.8 280.2,520.6 280.7,520.2 281.2,519.8 281.7,519.4 282.2,519.0 282.7,518.6 283.2,518.3 283.7,518.0 284.2,517.7 284.7,517.4 285.2,517.1 285.7,516.8 286.2,516.5 286.7,516.2 287.2,515.9 287.7,515.6 288.2,515.2 288.7,514.9 289.2,514.5 289.7,514.2 290.2,513.8 290.7,513.4 291.2,513.0 291.7,512.5 292.2,512.0 292.7,511.4 293.2,510.5 293.7,509.5 294.2,508.3 294.7,507.1 295.2,506.0 295.7,504.9 296.2,504.1 296.7,503.5 297.2,503.0 297.7,502.6 298.2,502.3 298.7,502.0 299.2,501.6 299.7,501.2 300.2,500.8 300.7,500.3 301.2,499.6 301.7,498.8 302.2,498.0 302.7,497.1 303.2,496.3 303.7,495.5 304.2,494.9 304.7,494.4 305.2,494.1 305.7,493.8 306.2,493.5 306.7,493.2 307.2,492.9 307.7,492.7 308.2,492.5 308.7,492.3 309.2,492.1 309.7,492.0 310.2,491.8 310.7,491.7 311.2,491.6 311.7,491.6 312.2,491.5 312.7,491.4 313.2,491.3 313.7,491.2 314.2,490.9 314.7,490.7 315.2,490.3 315.7,490.0 316.2,489.6 316.7,489.2 317.2,488.9 317.7,488.5 318.2,488.2 318.7,487.8 319.2,487.4 319.7,487.0 320.2,486.6 320.7,486.2 321.2,485.8 321.7,485.4 322.2,484.9 322.7,484.5 323.2,484.1 323.7,483.6 324.2,483.1 324.7,482.6 325.2,482.1 325.7,481.6 326.2,481.1 326.7,480.6 327.2,480.1 327.7,479.6 328.2,479.1 328.7,478.6 329.2,478.1 329.7,477.6 330.2,477.1 330.7,476.6 331.2,476.1 331.7,475.6 332.2,475.1 332.7,474.6 333.2,474.2 333.7,473.7 334.2,473.2 334.7,472.7 335.2,472.3 335.7,471.8 336.2,471.3 336.7,470.8 337.2,470.4 337.7,469.9 338.2,469.5 338.7,469.0 339.2,468.6 339.7,468.3 340.2,467.9 340.7,467.6 341.2,467.3 341.7,467.0 342.2,466.7 342.7,466.4 343.2,466.1 343.7,465.8 344.2,465.6 344.7,465.4 345.2,465.2 345.7,465.0 346.2,464.9 346.7,464.8 347.2,464.7 347.7,464.6 348.2,464.5 348.7,464.5 349.2,464.4 349.7,464.3 350.2,464.2 350.7,464.1 351.2,463.9 351.7,463.7 352.2,463.5 352.7,463.3 353.2,463.2 353.7,463.1 354.2,463.1 354.7,463.2 355.2,463.4 355.7,463.6 356.2,463.9 356.7,464.2 357.2,464.6 357.7,464.9 358.2,465.2 358.7,465.5 359.2,465.7 359.7,465.9 360.2,466.0 360.7,466.2 361.2,466.4 361.7,466.5 362.2,466.7 362.7,466.8 363.2,467.0 363.7,467.2 364.2,467.4 364.7,467.6 365.2,467.8 365.7,468.1 366.2,468.3 366.7,468.6 367.2,468.9 367.7,469.2 368.2,469.6 368.7,470.1 369.2,470.7 369.7,471.3 370.2,471.9 370.7,472.5 371.2,473.0 371.7,473.4 372.2,473.7 372.7,474.0 373.2,474.3 373.7,474.5 374.2,474.7 374.7,475.0 375.2,475.2 375.7,475.5 376.2,475.8 376.7,476.1 377.2,476.5 377.7,477.1 378.2,477.8 378.7,478.6 379.2,479.5 379.7,480.4 380.2,481.3 380.7,482.2 381.2,483.2 381.7,484.1 382.2,485.1 382.7,486.2 383.2,487.2 383.7,488.2 384.2,489.1 384.7,490.0 385.2,491.0 385.7,491.9 386.2,492.8 386.7,493.7 387.2,494.6 387.7,495.4 388.2,496.2 388.7,496.9 389.2,497.5 389.7,498.1 390.2,498.7 390.7,499.3 391.2,499.8 391.7,500.3 392.2,500.9 392.7,501.4 393.2,501.9 393.7,502.4 394.2,502.9 394.7,503.4 395.2,503.9 395.7,504.4 396.2,504.9 396.7,505.3 397.2,505.8 397.7,506.3 398.2,506.8 398.7,507.3 399.2,507.8 399.7,508.3 400.2,508.8 400.7,509.3 401.2,509.8 401.7,510.3 402.2,510.8 402.7,511.2 403.2,511.7 403.7,512.2 404.2,512.6 404.7,513.1 405.2,513.5 405.7,514.0 406.2,514.4 406.7,514.8 407.2,515.2 407.7,515.6 408.2,516.0 408.7,516.5 409.2,516.9 409.7,517.3 410.2,517.7 410.7,518.1 411.2,518.4 411.7,518.6 412.2,518.8 412.7,518.9 413.2,519.1 413.7,519.2 414.2,519.3 414.7,519.3 415.2,519.4 415.7,519.4 416.2,519.2 416.7,519.0 417.2,518.7 417.7,518.4 418.2,518.1 418.7,517.8 419.2,517.7 419.7,517.7 420.2,517.9 420.7,518.2 421.2,518.5 421.7,518.9 422.2,519.3 422.7,519.7 423.2,520.3 423.7,520.9 424.2,521.6 424.7,522.1 425.2,522.5 425.7,522.6 426.2,522.7 426.7,522.7 427.2,522.7 427.7,522.7 428.2,522.7 428.7,522.7 429.2,522.7 429.7,522.7 430.2,522.7 430.7,522.7 431.2,522.7 431.7,522.7 432.2,522.7 432.7,522.7 433.2,522.7 433.7,522.7 434.2,522.7 434.7,522.7 435.2,522.7 435.7,522.7 436.2,522.7 436.7,522.7 437.2,522.7 437.7,522.7 438.2,522.7 438.7,522.7" stroke="#ee4a3a" class="cv"/>
</g>
<rect x="258.7" y="373.5" width="180.3" height="149.6" class="fr"/>
<line x1="409.7" y1="384.20" x2="429.7" y2="384.20" stroke="#c77cf0" class="lg"/>
<text y="387.50" class="lt"><tspan x="370.60" class="it">t</tspan><tspan x="374.40" class="dj">/</tspan><tspan x="378.70" class="dj it">τ</tspan><tspan x="385.90" class="dj" style="font-size:9.4px">=</tspan><tspan x="395.90">1</tspan></text>
<line x1="409.7" y1="395.18" x2="429.7" y2="395.18" stroke="#7dcdaf" class="lg"/>
<text x="400.70" y="398.48" class="lt" text-anchor="end">2</text>
<line x1="409.7" y1="406.16" x2="429.7" y2="406.16" stroke="#a6daf5" class="lg"/>
<text x="400.70" y="409.46" class="lt" text-anchor="end">3</text>
<line x1="409.7" y1="417.14" x2="429.7" y2="417.14" stroke="#f2c872" class="lg"/>
<text x="400.70" y="420.44" class="lt" text-anchor="end">4</text>
<line x1="409.7" y1="428.12" x2="429.7" y2="428.12" stroke="#f5ec9a" class="lg"/>
<text x="400.70" y="431.42" class="lt" text-anchor="end">5</text>
<line x1="409.7" y1="439.10" x2="429.7" y2="439.10" stroke="#6aaad8" class="lg"/>
<text x="400.70" y="442.40" class="lt" text-anchor="end">6</text>
<line x1="409.7" y1="450.08" x2="429.7" y2="450.08" stroke="#f27a6a" class="lg"/>
<text x="400.70" y="453.38" class="lt" text-anchor="end">7</text>
<text x="269.7" y="393.80" class="pl">(f)</text>
<text x="269.3" y="411.30" class="st">St = 2.0</text>
<text class="ax"><tspan x="316.45" y="544.70">(</tspan><tspan x="320.05" y="544.70" class="it">x</tspan><tspan x="325.85" y="547.60" class="sb">3</tspan><tspan x="333.55" y="544.70">−</tspan><tspan x="344.05" y="544.70" class="it">L</tspan><tspan x="351.05" y="547.60" class="sb">3</tspan><tspan x="354.45" y="545.60" class="sl">/</tspan><tspan x="359.15" y="544.70">2</tspan><tspan x="363.75" y="544.70">)</tspan><tspan x="368.15" y="545.60" class="sl">/</tspan><tspan x="373.05" y="544.70" class="it">ℓ</tspan></text>
<text transform="translate(236.60,459.70) rotate(-90)" class="yl2"><tspan class="br2" x="-0.9" y="0.3">⟨</tspan><tspan class="it" x="3.7" y="0">v</tspan><tspan x="7.2" y="0">′</tspan><tspan class="sb2" x="8.2" y="1.9">3</tspan><tspan class="it" x="11.5" y="0">θ</tspan><tspan x="16.9" y="0">′</tspan><tspan class="br2" x="19.1" y="0.3">⟩</tspan></text>
</svg></body></html>
